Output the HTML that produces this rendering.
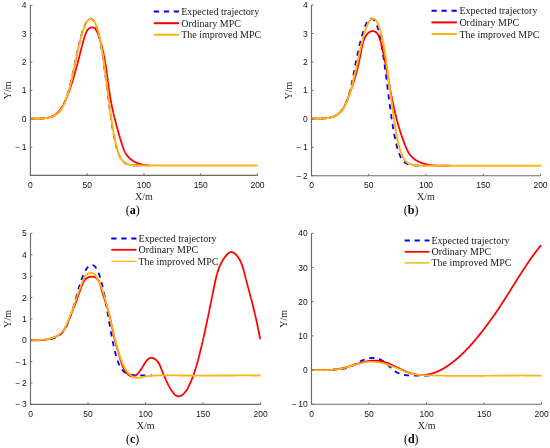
<!DOCTYPE html><html><head><meta charset="utf-8"><style>html,body{margin:0;padding:0;background:#fff}svg{display:block;filter:blur(0.35px)}</style></head><body>
<svg width="550" height="448" viewBox="0 0 550 448">
<rect width="550" height="448" fill="#fff"/>
<g><polyline points="30.20,118.74 30.39,118.74 30.58,118.74 30.77,118.74 30.96,118.74 31.15,118.73 31.34,118.73 31.52,118.73 31.71,118.73 31.90,118.72 32.09,118.72 32.28,118.72 32.47,118.72 32.66,118.71 32.85,118.71 33.04,118.71 33.23,118.71 33.42,118.70 33.61,118.70 33.80,118.70 33.98,118.69 34.17,118.69 34.36,118.69 34.55,118.68 34.74,118.68 34.93,118.67 35.12,118.67 35.31,118.67 35.50,118.66 35.69,118.66 35.88,118.65 36.07,118.65 36.26,118.64 36.45,118.64 36.63,118.63 36.82,118.63 37.01,118.62 37.20,118.62 37.39,118.61 37.58,118.60 37.77,118.60 37.96,118.59 38.15,118.58 38.34,118.58 38.53,118.57 38.72,118.56 38.91,118.56 39.09,118.55 39.28,118.54 39.47,118.53 39.66,118.52 39.85,118.51 40.04,118.50 40.23,118.49 40.42,118.48 40.61,118.47 40.80,118.46 40.99,118.45 41.18,118.44 41.37,118.43 41.55,118.42 41.74,118.41 41.93,118.39 42.12,118.38 42.31,118.37 42.50,118.35 42.69,118.34 42.88,118.32 43.07,118.31 43.26,118.29 43.45,118.27 43.64,118.26 43.83,118.24 44.02,118.22 44.20,118.20 44.39,118.18 44.58,118.16 44.77,118.14 44.96,118.12 45.15,118.10 45.34,118.08 45.53,118.05 45.72,118.03 45.91,118.00 46.10,117.98 46.29,117.95 46.48,117.93 46.66,117.90 46.85,117.87 47.04,117.84 47.23,117.81 47.42,117.77 47.61,117.74 47.80,117.71 47.99,117.67 48.18,117.64 48.37,117.60 48.56,117.56 48.75,117.52 48.94,117.48 49.12,117.44 49.31,117.39 49.50,117.35 49.69,117.30 49.88,117.25 50.07,117.20 50.26,117.15 50.45,117.10 50.64,117.05 50.83,116.99 51.02,116.93 51.21,116.87 51.40,116.81 51.59,116.75 51.77,116.68 51.96,116.61 52.15,116.54 52.34,116.47 52.53,116.40 52.72,116.32 52.91,116.24 53.10,116.16 53.29,116.08 53.48,115.99 53.67,115.90 53.86,115.81 54.05,115.72 54.23,115.62 54.42,115.52 54.61,115.41 54.80,115.31 54.99,115.20 55.18,115.08 55.37,114.97 55.56,114.85 55.75,114.72 55.94,114.60 56.13,114.46 56.32,114.33 56.51,114.19 56.69,114.05 56.88,113.90 57.07,113.74 57.26,113.59 57.45,113.43 57.64,113.26 57.83,113.09 58.02,112.91 58.21,112.73 58.40,112.55 58.59,112.35 58.78,112.16 58.97,111.95 59.16,111.74 59.34,111.53 59.53,111.31 59.72,111.08 59.91,110.85 60.10,110.61 60.29,110.36 60.48,110.11 60.67,109.85 60.86,109.58 61.05,109.31 61.24,109.02 61.43,108.73 61.62,108.44 61.80,108.13 61.99,107.82 62.18,107.50 62.37,107.17 62.56,106.83 62.75,106.48 62.94,106.12 63.13,105.76 63.32,105.38 63.51,105.00 63.70,104.61 63.89,104.21 64.08,103.79 64.27,103.37 64.45,102.94 64.64,102.50 64.83,102.05 65.02,101.58 65.21,101.11 65.40,100.63 65.59,100.13 65.78,99.63 65.97,99.11 66.16,98.59 66.35,98.05 66.54,97.50 66.73,96.94 66.91,96.37 67.10,95.79 67.29,95.19 67.48,94.59 67.67,93.97 67.86,93.35 68.05,92.71 68.24,92.06 68.43,91.40 68.62,90.73 68.81,90.05 69.00,89.35 69.19,88.65 69.37,87.93 69.56,87.21 69.75,86.47 69.94,85.73 70.13,84.97 70.32,84.21 70.51,83.43 70.70,82.65 70.89,81.85 71.08,81.05 71.27,80.24 71.46,79.42 71.65,78.59 71.83,77.76 72.02,76.92 72.21,76.07 72.40,75.21 72.59,74.35 72.78,73.48 72.97,72.60 73.16,71.72 73.35,70.84 73.54,69.95 73.73,69.06 73.92,68.16 74.11,67.27 74.30,66.37 74.48,65.46 74.67,64.56 74.86,63.65 75.05,62.75 75.24,61.84 75.43,60.94 75.62,60.03 75.81,59.13 76.00,58.23 76.19,57.33 76.38,56.43 76.57,55.54 76.76,54.65 76.94,53.77 77.13,52.89 77.32,52.01 77.51,51.14 77.70,50.28 77.89,49.42 78.08,48.57 78.27,47.73 78.46,46.90 78.65,46.07 78.84,45.25 79.03,44.44 79.22,43.64 79.40,42.85 79.59,42.07 79.78,41.30 79.97,40.54 80.16,39.79 80.35,39.05 80.54,38.33 80.73,37.61 80.92,36.91 81.11,36.22 81.30,35.54 81.49,34.87 81.68,34.21 81.87,33.57 82.05,32.94 82.24,32.33 82.43,31.72 82.62,31.13 82.81,30.56 83.00,29.99 83.19,29.44 83.38,28.91 83.57,28.38 83.76,27.87 83.95,27.38 84.14,26.90 84.33,26.43 84.51,25.97 84.70,25.53 84.89,25.10 85.08,24.69 85.27,24.29 85.46,23.91 85.65,23.54 85.84,23.18 86.03,22.83 86.22,22.50 86.41,22.19 86.60,21.89 86.79,21.60 86.97,21.32 87.16,21.06 87.35,20.82 87.54,20.58 87.73,20.36 87.92,20.16 88.11,19.97 88.30,19.79 88.49,19.63 88.68,19.48 88.87,19.34 89.06,19.22 89.25,19.11 89.44,19.02 89.62,18.94 89.81,18.88 90.00,18.82 90.19,18.79 90.38,18.77 90.57,18.76 90.76,18.76 90.95,18.79 91.14,18.82 91.33,18.87 91.52,18.94 91.71,19.02 91.90,19.12 92.08,19.23 92.27,19.36 92.46,19.50 92.65,19.66 92.84,19.83 93.03,20.02 93.22,20.23 93.41,20.46 93.60,20.70 93.79,20.95 93.98,21.23 94.17,21.52 94.36,21.83 94.55,22.16 94.73,22.50 94.92,22.87 95.11,23.25 95.30,23.65 95.49,24.07 95.68,24.51 95.87,24.96 96.06,25.44 96.25,25.94 96.44,26.46 96.63,27.00 96.82,27.55 97.01,28.13 97.19,28.73 97.38,29.35 97.57,30.00 97.76,30.66 97.95,31.35 98.14,32.05 98.33,32.78 98.52,33.54 98.71,34.31 98.90,35.11 99.09,35.93 99.28,36.77 99.47,37.63 99.65,38.52 99.84,39.43 100.03,40.37 100.22,41.32 100.41,42.30 100.60,43.30 100.79,44.32 100.98,45.37 101.17,46.44 101.36,47.53 101.55,48.64 101.74,49.77 101.93,50.93 102.11,52.10 102.30,53.30 102.49,54.51 102.68,55.75 102.87,57.00 103.06,58.28 103.25,59.57 103.44,60.87 103.63,62.20 103.82,63.54 104.01,64.90 104.20,66.27 104.39,67.66 104.58,69.06 104.76,70.47 104.95,71.89 105.14,73.33 105.33,74.77 105.52,76.23 105.71,77.69 105.90,79.16 106.09,80.63 106.28,82.12 106.47,83.60 106.66,85.09 106.85,86.58 107.04,88.08 107.22,89.57 107.41,91.06 107.60,92.55 107.79,94.04 107.98,95.53 108.17,97.01 108.36,98.48 108.55,99.95 108.74,101.42 108.93,102.87 109.12,104.31 109.31,105.75 109.50,107.17 109.68,108.58 109.87,109.98 110.06,111.37 110.25,112.74 110.44,114.10 110.63,115.44 110.82,116.77 111.01,118.08 111.20,119.37 111.39,120.65 111.58,121.91 111.77,123.15 111.96,124.36 112.15,125.56 112.33,126.74 112.52,127.90 112.71,129.04 112.90,130.16 113.09,131.25 113.28,132.33 113.47,133.38 113.66,134.41 113.85,135.42 114.04,136.41 114.23,137.37 114.42,138.32 114.61,139.24 114.79,140.14 114.98,141.01 115.17,141.87 115.36,142.70 115.55,143.51 115.74,144.30 115.93,145.07 116.12,145.81 116.31,146.54 116.50,147.24 116.69,147.92 116.88,148.59 117.07,149.23 117.25,149.85 117.44,150.46 117.63,151.04 117.82,151.61 118.01,152.15 118.20,152.68 118.39,153.19 118.58,153.69 118.77,154.16 118.96,154.62 119.15,155.07 119.34,155.50 119.53,155.91 119.72,156.31 119.90,156.69 120.09,157.06 120.28,157.42 120.47,157.76 120.66,158.09 120.85,158.40 121.04,158.71 121.23,159.00 121.42,159.28 121.61,159.55 121.80,159.81 121.99,160.06 122.18,160.30 122.36,160.53 122.55,160.75 122.74,160.96 122.93,161.16 123.12,161.36 123.31,161.54 123.50,161.72 123.69,161.89 123.88,162.05 124.07,162.21 124.26,162.36 124.45,162.50 124.64,162.64 124.82,162.77 125.01,162.90 125.20,163.02 125.39,163.14 125.58,163.25 125.77,163.35 125.96,163.45 126.15,163.55 126.34,163.64 126.53,163.73 126.72,163.81 126.91,163.90 127.10,163.97 127.29,164.05 127.47,164.12 127.66,164.18 127.85,164.25 128.04,164.31 128.23,164.37 128.42,164.43 128.61,164.48 128.80,164.53 128.99,164.58 129.18,164.63 129.37,164.67 129.56,164.71 129.75,164.76 129.93,164.79 130.12,164.83 130.31,164.87 130.50,164.90 130.69,164.93 130.88,164.97 131.07,164.99 131.26,165.02 131.45,165.05 131.64,165.08 131.83,165.10 132.02,165.12 132.21,165.15 132.40,165.17 132.58,165.19 132.77,165.21 132.96,165.23 133.15,165.24 133.34,165.26 133.53,165.28 133.72,165.29 133.91,165.31 134.10,165.32 134.29,165.34 134.48,165.35 134.67,165.36 134.86,165.37 135.04,165.38 135.23,165.39 135.42,165.40 135.61,165.41 135.80,165.42 135.99,165.43 136.18,165.44 136.37,165.45 136.56,165.46 136.75,165.46 136.94,165.47 137.13,165.48 137.32,165.48 137.50,165.49 137.69,165.50 137.88,165.50 138.07,165.51 138.26,165.51 138.45,165.52 138.64,165.52 138.83,165.53 139.02,165.53 139.21,165.53 139.40,165.54 139.59,165.54 139.78,165.55 139.97,165.55" fill="none" stroke="#0000ff" stroke-width="1.8" stroke-linejoin="round" stroke-dasharray="5.2 4.8"/><polyline points="30.40,118.90 30.71,118.88 31.02,118.86 31.34,118.84 31.66,118.83 31.98,118.81 32.30,118.80 32.62,118.79 32.94,118.78 33.27,118.76 33.60,118.75 33.93,118.75 34.26,118.74 34.59,118.73 34.92,118.72 35.26,118.71 35.59,118.70 35.93,118.70 36.27,118.69 36.60,118.68 36.94,118.67 37.28,118.66 37.62,118.66 37.96,118.65 38.31,118.64 38.65,118.62 38.99,118.61 39.33,118.60 39.68,118.59 40.02,118.57 40.36,118.56 40.71,118.54 41.05,118.52 41.39,118.50 41.74,118.48 42.08,118.46 42.42,118.43 42.76,118.40 43.11,118.37 43.45,118.34 43.79,118.31 44.13,118.27 44.46,118.24 44.80,118.19 45.14,118.15 45.48,118.11 45.81,118.06 46.14,118.01 46.48,117.95 46.81,117.89 47.14,117.83 47.47,117.77 47.79,117.70 48.12,117.63 48.44,117.56 48.76,117.48 49.08,117.40 49.40,117.31 49.72,117.22 50.03,117.13 50.34,117.03 50.65,116.93 50.96,116.82 51.26,116.71 51.57,116.60 51.87,116.48 52.16,116.35 52.46,116.22 52.75,116.09 53.04,115.95 53.33,115.81 53.61,115.66 53.89,115.50 54.17,115.34 54.44,115.17 54.71,115.00 54.98,114.83 55.24,114.64 55.51,114.46 55.76,114.26 56.02,114.06 56.27,113.86 56.52,113.65 56.76,113.44 57.01,113.22 57.25,113.00 57.48,112.77 57.72,112.54 57.95,112.31 58.17,112.07 58.40,111.83 58.62,111.58 58.84,111.33 59.06,111.08 59.27,110.82 59.48,110.56 59.69,110.30 59.90,110.03 60.10,109.77 60.30,109.49 60.50,109.22 60.69,108.95 60.89,108.67 61.08,108.39 61.27,108.11 61.45,107.82 61.63,107.54 61.82,107.25 61.99,106.96 62.17,106.67 62.34,106.38 62.52,106.09 62.69,105.79 62.85,105.50 63.02,105.21 63.18,104.91 63.35,104.62 63.50,104.32 63.66,104.02 63.82,103.73 63.97,103.43 64.12,103.13 64.27,102.83 64.42,102.53 64.57,102.23 64.71,101.93 64.86,101.63 65.00,101.33 65.14,101.03 65.28,100.73 65.42,100.43 65.55,100.12 65.69,99.82 65.82,99.52 65.95,99.21 66.09,98.91 66.22,98.61 66.34,98.30 66.47,98.00 66.60,97.69 66.72,97.38 66.85,97.08 66.97,96.77 67.10,96.46 67.22,96.16 67.34,95.85 67.46,95.54 67.58,95.23 67.70,94.92 67.82,94.61 67.94,94.31 68.05,94.00 68.17,93.69 68.29,93.38 68.40,93.07 68.52,92.75 68.63,92.44 68.75,92.13 68.86,91.82 68.98,91.51 69.09,91.20 69.20,90.89 69.31,90.57 69.43,90.26 69.54,89.95 69.65,89.63 69.76,89.32 69.87,89.01 69.98,88.69 70.09,88.38 70.19,88.07 70.30,87.75 70.41,87.44 70.52,87.12 70.62,86.81 70.73,86.49 70.84,86.18 70.94,85.86 71.05,85.54 71.15,85.23 71.25,84.91 71.36,84.59 71.46,84.28 71.56,83.96 71.67,83.64 71.77,83.33 71.87,83.01 71.97,82.69 72.07,82.37 72.17,82.06 72.27,81.74 72.37,81.42 72.47,81.10 72.57,80.78 72.67,80.46 72.77,80.14 72.87,79.83 72.96,79.51 73.06,79.19 73.16,78.87 73.25,78.55 73.35,78.23 73.45,77.91 73.54,77.59 73.64,77.27 73.73,76.95 73.83,76.63 73.92,76.31 74.01,75.99 74.11,75.67 74.20,75.34 74.30,75.02 74.39,74.70 74.48,74.38 74.57,74.06 74.66,73.74 74.76,73.42 74.85,73.10 74.94,72.77 75.03,72.45 75.12,72.13 75.21,71.81 75.30,71.49 75.39,71.17 75.48,70.84 75.57,70.52 75.66,70.20 75.75,69.88 75.84,69.56 75.92,69.23 76.01,68.91 76.10,68.59 76.19,68.27 76.28,67.94 76.36,67.62 76.45,67.30 76.54,66.98 76.62,66.65 76.71,66.33 76.80,66.01 76.88,65.69 76.97,65.36 77.06,65.04 77.14,64.72 77.23,64.39 77.31,64.07 77.40,63.75 77.48,63.43 77.57,63.10 77.65,62.78 77.74,62.46 77.82,62.14 77.91,61.81 77.99,61.49 78.07,61.17 78.16,60.84 78.24,60.52 78.33,60.20 78.41,59.88 78.49,59.55 78.58,59.23 78.66,58.91 78.74,58.59 78.82,58.27 78.91,57.94 78.99,57.62 79.07,57.30 79.16,56.98 79.24,56.66 79.32,56.33 79.40,56.01 79.49,55.69 79.57,55.37 79.65,55.05 79.73,54.72 79.82,54.40 79.90,54.08 79.98,53.76 80.06,53.44 80.14,53.12 80.23,52.80 80.31,52.48 80.39,52.16 80.47,51.83 80.55,51.51 80.64,51.19 80.72,50.87 80.80,50.55 80.88,50.23 80.96,49.91 81.04,49.59 81.13,49.27 81.21,48.95 81.29,48.63 81.37,48.32 81.45,48.00 81.54,47.68 81.62,47.36 81.70,47.04 81.78,46.72 81.87,46.40 81.95,46.08 82.03,45.77 82.11,45.45 82.20,45.13 82.28,44.81 82.37,44.49 82.45,44.17 82.54,43.85 82.62,43.54 82.71,43.22 82.79,42.90 82.88,42.58 82.97,42.26 83.06,41.94 83.15,41.62 83.24,41.30 83.33,40.98 83.42,40.65 83.51,40.33 83.61,40.01 83.70,39.69 83.80,39.36 83.90,39.04 84.00,38.72 84.10,38.39 84.20,38.07 84.30,37.74 84.40,37.41 84.51,37.09 84.61,36.76 84.72,36.43 84.83,36.10 84.94,35.77 85.05,35.44 85.17,35.11 85.28,34.77 85.40,34.44 85.52,34.11 85.64,33.77 85.77,33.44 85.90,33.11 86.03,32.79 86.17,32.47 86.32,32.15 86.47,31.84 86.62,31.53 86.78,31.23 86.95,30.93 87.13,30.64 87.31,30.37 87.50,30.09 87.71,29.83 87.92,29.58 88.14,29.34 88.36,29.12 88.60,28.90 88.85,28.70 89.10,28.50 89.36,28.33 89.62,28.16 89.88,28.01 90.15,27.87 90.43,27.75 90.70,27.65 90.97,27.56 91.25,27.48 91.52,27.43 91.79,27.39 92.05,27.36 92.32,27.36 92.57,27.38 92.83,27.41 93.07,27.46 93.31,27.53 93.55,27.62 93.78,27.72 94.00,27.84 94.22,27.98 94.44,28.13 94.64,28.30 94.85,28.48 95.05,28.68 95.24,28.88 95.43,29.10 95.62,29.33 95.80,29.58 95.97,29.83 96.15,30.09 96.32,30.37 96.48,30.65 96.64,30.94 96.80,31.24 96.96,31.54 97.11,31.85 97.26,32.17 97.40,32.49 97.54,32.82 97.68,33.15 97.82,33.49 97.95,33.83 98.09,34.17 98.21,34.51 98.34,34.86 98.47,35.20 98.59,35.55 98.71,35.89 98.83,36.24 98.95,36.58 99.07,36.92 99.18,37.26 99.30,37.59 99.41,37.93 99.52,38.27 99.63,38.60 99.74,38.93 99.85,39.26 99.95,39.59 100.06,39.92 100.16,40.24 100.26,40.57 100.36,40.89 100.46,41.22 100.56,41.54 100.66,41.86 100.75,42.18 100.85,42.50 100.94,42.82 101.03,43.14 101.12,43.46 101.21,43.78 101.30,44.10 101.39,44.41 101.48,44.73 101.57,45.05 101.65,45.36 101.74,45.68 101.82,46.00 101.90,46.31 101.99,46.63 102.07,46.94 102.15,47.26 102.23,47.58 102.31,47.89 102.38,48.21 102.46,48.53 102.54,48.84 102.61,49.16 102.69,49.48 102.76,49.80 102.84,50.12 102.91,50.44 102.98,50.75 103.06,51.07 103.13,51.39 103.20,51.71 103.27,52.03 103.34,52.35 103.41,52.67 103.47,53.00 103.54,53.32 103.61,53.64 103.68,53.96 103.74,54.28 103.81,54.60 103.87,54.93 103.94,55.25 104.00,55.57 104.06,55.90 104.13,56.22 104.19,56.54 104.25,56.87 104.31,57.19 104.37,57.51 104.43,57.84 104.49,58.16 104.55,58.49 104.61,58.81 104.67,59.14 104.72,59.46 104.78,59.79 104.84,60.11 104.89,60.44 104.95,60.77 105.00,61.09 105.06,61.42 105.11,61.75 105.17,62.07 105.22,62.40 105.28,62.73 105.33,63.06 105.38,63.38 105.43,63.71 105.49,64.04 105.54,64.37 105.59,64.69 105.64,65.02 105.69,65.35 105.74,65.68 105.79,66.01 105.84,66.34 105.89,66.67 105.94,67.00 105.99,67.32 106.04,67.65 106.09,67.98 106.13,68.31 106.18,68.64 106.23,68.97 106.28,69.30 106.32,69.63 106.37,69.96 106.42,70.29 106.46,70.62 106.51,70.95 106.56,71.28 106.60,71.62 106.65,71.95 106.69,72.28 106.74,72.61 106.79,72.94 106.83,73.27 106.88,73.60 106.92,73.93 106.97,74.26 107.01,74.59 107.06,74.93 107.10,75.26 107.14,75.59 107.19,75.92 107.23,76.25 107.28,76.58 107.32,76.91 107.37,77.25 107.41,77.58 107.45,77.91 107.50,78.24 107.54,78.57 107.59,78.90 107.63,79.24 107.68,79.57 107.72,79.90 107.76,80.23 107.81,80.56 107.85,80.90 107.90,81.23 107.94,81.56 107.99,81.89 108.03,82.22 108.08,82.56 108.12,82.89 108.16,83.22 108.21,83.55 108.25,83.88 108.30,84.21 108.34,84.55 108.39,84.88 108.44,85.21 108.48,85.54 108.53,85.87 108.57,86.20 108.62,86.54 108.67,86.87 108.71,87.20 108.76,87.53 108.81,87.86 108.85,88.19 108.90,88.52 108.95,88.85 109.00,89.19 109.04,89.52 109.09,89.85 109.14,90.18 109.19,90.51 109.24,90.84 109.29,91.17 109.34,91.50 109.39,91.83 109.44,92.16 109.49,92.49 109.54,92.82 109.59,93.15 109.64,93.48 109.69,93.81 109.75,94.14 109.80,94.47 109.85,94.80 109.91,95.13 109.96,95.46 110.01,95.79 110.07,96.12 110.12,96.44 110.18,96.77 110.23,97.10 110.29,97.43 110.35,97.76 110.40,98.09 110.46,98.41 110.52,98.74 110.58,99.07 110.64,99.40 110.69,99.73 110.75,100.05 110.81,100.38 110.87,100.71 110.93,101.03 110.99,101.36 111.06,101.69 111.12,102.01 111.18,102.34 111.24,102.67 111.30,102.99 111.37,103.32 111.43,103.65 111.49,103.97 111.56,104.30 111.62,104.62 111.69,104.95 111.75,105.28 111.82,105.60 111.89,105.93 111.95,106.25 112.02,106.58 112.09,106.90 112.15,107.23 112.22,107.55 112.29,107.88 112.36,108.20 112.43,108.53 112.50,108.85 112.57,109.18 112.64,109.50 112.71,109.82 112.78,110.15 112.85,110.47 112.92,110.80 112.99,111.12 113.06,111.44 113.14,111.77 113.21,112.09 113.28,112.42 113.35,112.74 113.43,113.06 113.50,113.39 113.58,113.71 113.65,114.03 113.73,114.36 113.80,114.68 113.88,115.00 113.95,115.33 114.03,115.65 114.11,115.97 114.18,116.29 114.26,116.62 114.34,116.94 114.42,117.26 114.50,117.58 114.57,117.91 114.65,118.23 114.73,118.55 114.81,118.87 114.89,119.20 114.97,119.52 115.05,119.84 115.13,120.16 115.22,120.49 115.30,120.81 115.38,121.13 115.46,121.45 115.54,121.77 115.63,122.10 115.71,122.42 115.79,122.74 115.88,123.06 115.96,123.38 116.04,123.70 116.13,124.03 116.21,124.35 116.30,124.67 116.38,124.99 116.47,125.31 116.56,125.63 116.64,125.96 116.73,126.28 116.81,126.60 116.90,126.92 116.99,127.24 117.08,127.56 117.16,127.88 117.25,128.20 117.34,128.53 117.43,128.85 117.52,129.17 117.61,129.49 117.70,129.81 117.79,130.13 117.88,130.45 117.97,130.77 118.06,131.10 118.15,131.42 118.24,131.74 118.33,132.06 118.42,132.38 118.52,132.70 118.61,133.02 118.70,133.34 118.79,133.67 118.89,133.99 118.98,134.31 119.07,134.63 119.17,134.95 119.26,135.27 119.36,135.59 119.45,135.91 119.54,136.23 119.64,136.56 119.73,136.88 119.83,137.20 119.93,137.52 120.02,137.84 120.12,138.16 120.21,138.48 120.31,138.80 120.41,139.13 120.50,139.45 120.60,139.77 120.70,140.09 120.80,140.41 120.90,140.73 120.99,141.05 121.09,141.38 121.19,141.70 121.29,142.02 121.39,142.34 121.49,142.66 121.59,142.98 121.69,143.31 121.79,143.63 121.89,143.95 121.99,144.27 122.09,144.59 122.19,144.91 122.29,145.24 122.40,145.56 122.50,145.88 122.61,146.20 122.71,146.51 122.82,146.83 122.93,147.15 123.04,147.47 123.15,147.78 123.27,148.10 123.38,148.41 123.50,148.72 123.62,149.04 123.74,149.35 123.87,149.65 124.00,149.96 124.12,150.27 124.26,150.57 124.39,150.87 124.53,151.17 124.67,151.47 124.82,151.77 124.96,152.06 125.11,152.35 125.27,152.64 125.43,152.93 125.59,153.22 125.75,153.50 125.92,153.78 126.10,154.06 126.28,154.34 126.46,154.61 126.64,154.88 126.84,155.14 127.03,155.41 127.23,155.67 127.44,155.93 127.65,156.18 127.86,156.43 128.08,156.68 128.30,156.93 128.53,157.17 128.76,157.41 128.99,157.64 129.23,157.88 129.47,158.10 129.72,158.33 129.97,158.55 130.22,158.77 130.48,158.99 130.74,159.20 131.00,159.41 131.26,159.61 131.53,159.81 131.80,160.01 132.07,160.20 132.35,160.40 132.63,160.58 132.91,160.77 133.19,160.94 133.48,161.12 133.76,161.29 134.05,161.46 134.34,161.62 134.63,161.79 134.93,161.94 135.22,162.09 135.52,162.24 135.82,162.39 136.12,162.53 136.42,162.67 136.72,162.80 137.02,162.93 137.33,163.05 137.63,163.17 137.94,163.29 138.24,163.40 138.55,163.51 138.86,163.62 139.17,163.72 139.48,163.82 139.79,163.92 140.10,164.01 140.41,164.10 140.72,164.18 141.04,164.27 141.35,164.35 141.67,164.42 141.99,164.50 142.30,164.57 142.62,164.63 142.94,164.70 143.26,164.76 143.58,164.82 143.90,164.88 144.22,164.93 144.54,164.98 144.87,165.03 145.19,165.07 145.52,165.12 145.84,165.16 146.16,165.20 146.49,165.24 146.82,165.27 147.14,165.30 147.47,165.33 147.80,165.36 148.13,165.39 148.46,165.41 148.79,165.43 149.12,165.46 149.45,165.47 149.78,165.49" fill="none" stroke="#ff0000" stroke-width="1.8" stroke-linejoin="round"/><polyline points="30.40,118.74 30.59,118.74 30.78,118.74 30.97,118.74 31.16,118.74 31.35,118.73 31.54,118.73 31.72,118.73 31.91,118.73 32.10,118.72 32.29,118.72 32.48,118.72 32.67,118.72 32.86,118.71 33.05,118.71 33.24,118.71 33.43,118.71 33.62,118.70 33.81,118.70 34.00,118.70 34.18,118.69 34.37,118.69 34.56,118.69 34.75,118.68 34.94,118.68 35.13,118.67 35.32,118.67 35.51,118.67 35.70,118.66 35.89,118.66 36.08,118.65 36.27,118.65 36.46,118.64 36.65,118.64 36.83,118.63 37.02,118.63 37.21,118.62 37.40,118.62 37.59,118.61 37.78,118.60 37.97,118.60 38.16,118.59 38.35,118.58 38.54,118.58 38.73,118.57 38.92,118.56 39.11,118.56 39.29,118.55 39.48,118.54 39.67,118.53 39.86,118.52 40.05,118.51 40.24,118.50 40.43,118.49 40.62,118.48 40.81,118.47 41.00,118.46 41.19,118.45 41.38,118.44 41.57,118.43 41.75,118.42 41.94,118.41 42.13,118.39 42.32,118.38 42.51,118.37 42.70,118.35 42.89,118.34 43.08,118.32 43.27,118.31 43.46,118.29 43.65,118.27 43.84,118.26 44.03,118.24 44.22,118.22 44.40,118.20 44.59,118.18 44.78,118.16 44.97,118.14 45.16,118.12 45.35,118.10 45.54,118.08 45.73,118.05 45.92,118.03 46.11,118.00 46.30,117.98 46.49,117.95 46.68,117.93 46.86,117.90 47.05,117.87 47.24,117.84 47.43,117.81 47.62,117.77 47.81,117.74 48.00,117.71 48.19,117.67 48.38,117.64 48.57,117.60 48.76,117.56 48.95,117.52 49.14,117.48 49.32,117.44 49.51,117.39 49.70,117.35 49.89,117.30 50.08,117.25 50.27,117.20 50.46,117.15 50.65,117.10 50.84,117.05 51.03,116.99 51.22,116.93 51.41,116.87 51.60,116.81 51.79,116.75 51.97,116.68 52.16,116.61 52.35,116.54 52.54,116.47 52.73,116.40 52.92,116.32 53.11,116.24 53.30,116.16 53.49,116.08 53.68,115.99 53.87,115.90 54.06,115.81 54.25,115.72 54.43,115.62 54.62,115.52 54.81,115.41 55.00,115.31 55.19,115.20 55.38,115.08 55.57,114.97 55.76,114.85 55.95,114.72 56.14,114.60 56.33,114.46 56.52,114.33 56.71,114.19 56.89,114.05 57.08,113.90 57.27,113.74 57.46,113.59 57.65,113.43 57.84,113.26 58.03,113.09 58.22,112.91 58.41,112.73 58.60,112.55 58.79,112.35 58.98,112.16 59.17,111.95 59.36,111.74 59.54,111.53 59.73,111.31 59.92,111.08 60.11,110.85 60.30,110.61 60.49,110.36 60.68,110.11 60.87,109.85 61.06,109.58 61.25,109.31 61.44,109.02 61.63,108.73 61.82,108.44 62.00,108.13 62.19,107.82 62.38,107.50 62.57,107.17 62.76,106.83 62.95,106.48 63.14,106.12 63.33,105.76 63.52,105.38 63.71,105.00 63.90,104.61 64.09,104.21 64.28,103.79 64.47,103.37 64.65,102.94 64.84,102.50 65.03,102.05 65.22,101.58 65.41,101.11 65.60,100.63 65.79,100.13 65.98,99.63 66.17,99.11 66.36,98.59 66.55,98.05 66.74,97.50 66.93,96.94 67.11,96.37 67.30,95.79 67.49,95.19 67.68,94.59 67.87,93.97 68.06,93.35 68.25,92.71 68.44,92.06 68.63,91.40 68.82,90.73 69.01,90.05 69.20,89.35 69.39,88.65 69.57,87.93 69.76,87.21 69.95,86.47 70.14,85.73 70.33,84.97 70.52,84.21 70.71,83.43 70.90,82.65 71.09,81.85 71.28,81.05 71.47,80.24 71.66,79.42 71.85,78.59 72.03,77.76 72.22,76.92 72.41,76.07 72.60,75.21 72.79,74.35 72.98,73.48 73.17,72.60 73.36,71.72 73.55,70.84 73.74,69.95 73.93,69.06 74.12,68.16 74.31,67.27 74.50,66.37 74.68,65.46 74.87,64.56 75.06,63.65 75.25,62.75 75.44,61.84 75.63,60.94 75.82,60.03 76.01,59.13 76.20,58.23 76.39,57.33 76.58,56.43 76.77,55.54 76.96,54.65 77.14,53.77 77.33,52.89 77.52,52.01 77.71,51.14 77.90,50.28 78.09,49.42 78.28,48.57 78.47,47.73 78.66,46.90 78.85,46.07 79.04,45.25 79.23,44.44 79.42,43.64 79.60,42.85 79.79,42.07 79.98,41.30 80.17,40.54 80.36,39.79 80.55,39.05 80.74,38.33 80.93,37.61 81.12,36.91 81.31,36.22 81.50,35.54 81.69,34.87 81.88,34.21 82.07,33.57 82.25,32.94 82.44,32.33 82.63,31.72 82.82,31.13 83.01,30.56 83.20,29.99 83.39,29.44 83.58,28.91 83.77,28.38 83.96,27.87 84.15,27.38 84.34,26.90 84.53,26.43 84.71,25.97 84.90,25.53 85.09,25.10 85.28,24.69 85.47,24.29 85.66,23.91 85.85,23.54 86.04,23.18 86.23,22.83 86.42,22.50 86.61,22.19 86.80,21.89 86.99,21.60 87.17,21.32 87.36,21.06 87.55,20.82 87.74,20.58 87.93,20.36 88.12,20.16 88.31,19.97 88.50,19.79 88.69,19.63 88.88,19.48 89.07,19.34 89.26,19.22 89.45,19.11 89.64,19.02 89.82,18.94 90.01,18.88 90.20,18.82 90.39,18.79 90.58,18.77 90.77,18.76 90.96,18.76 91.15,18.79 91.34,18.82 91.53,18.87 91.72,18.94 91.91,19.02 92.10,19.12 92.28,19.23 92.47,19.36 92.66,19.50 92.85,19.66 93.04,19.83 93.23,20.02 93.42,20.23 93.61,20.46 93.80,20.70 93.99,20.95 94.18,21.23 94.37,21.52 94.56,21.83 94.75,22.16 94.93,22.50 95.12,22.87 95.31,23.25 95.50,23.65 95.69,24.07 95.88,24.51 96.07,24.96 96.26,25.44 96.45,25.94 96.64,26.46 96.83,27.00 97.02,27.55 97.21,28.13 97.39,28.73 97.58,29.35 97.77,30.00 97.96,30.66 98.15,31.35 98.34,32.05 98.53,32.78 98.72,33.54 98.91,34.31 99.10,35.11 99.29,35.93 99.48,36.77 99.67,37.63 99.85,38.52 100.04,39.43 100.23,40.37 100.42,41.32 100.61,42.30 100.80,43.30 100.99,44.32 101.18,45.37 101.37,46.44 101.56,47.53 101.75,48.64 101.94,49.77 102.13,50.93 102.31,52.10 102.50,53.30 102.69,54.51 102.88,55.75 103.07,57.00 103.26,58.28 103.45,59.57 103.64,60.87 103.83,62.20 104.02,63.54 104.21,64.90 104.40,66.27 104.59,67.66 104.78,69.06 104.96,70.47 105.15,71.89 105.34,73.33 105.53,74.77 105.72,76.23 105.91,77.69 106.10,79.16 106.29,80.63 106.48,82.12 106.67,83.60 106.86,85.09 107.05,86.58 107.24,88.08 107.42,89.57 107.61,91.06 107.80,92.55 107.99,94.04 108.18,95.53 108.37,97.01 108.56,98.48 108.75,99.95 108.94,101.42 109.13,102.87 109.32,104.31 109.51,105.75 109.70,107.17 109.88,108.58 110.07,109.98 110.26,111.37 110.45,112.74 110.64,114.10 110.83,115.44 111.02,116.77 111.21,118.08 111.40,119.37 111.59,120.65 111.78,121.91 111.97,123.15 112.16,124.36 112.35,125.56 112.53,126.74 112.72,127.90 112.91,129.04 113.10,130.16 113.29,131.25 113.48,132.33 113.67,133.38 113.86,134.41 114.05,135.42 114.24,136.41 114.43,137.37 114.62,138.32 114.81,139.24 114.99,140.14 115.18,141.01 115.37,141.87 115.56,142.70 115.75,143.51 115.94,144.30 116.13,145.07 116.32,145.81 116.51,146.54 116.70,147.24 116.89,147.92 117.08,148.59 117.27,149.23 117.45,149.85 117.64,150.46 117.83,151.04 118.02,151.61 118.21,152.15 118.40,152.68 118.59,153.19 118.78,153.69 118.97,154.16 119.16,154.62 119.35,155.07 119.54,155.50 119.73,155.91 119.92,156.31 120.10,156.69 120.29,157.06 120.48,157.42 120.67,157.76 120.86,158.09 121.05,158.40 121.24,158.71 121.43,159.00 121.62,159.28 121.81,159.55 122.00,159.81 122.19,160.06 122.38,160.30 122.56,160.53 122.75,160.75 122.94,160.96 123.13,161.16 123.32,161.36 123.51,161.54 123.70,161.72 123.89,161.89 124.08,162.05 124.27,162.21 124.46,162.36 124.65,162.50 124.84,162.64 125.02,162.77 125.21,162.90 125.40,163.02 125.59,163.14 125.78,163.25 125.97,163.35 126.16,163.45 126.35,163.55 126.54,163.64 126.73,163.73 126.92,163.81 127.11,163.90 127.30,163.97 127.49,164.05 127.67,164.12 127.86,164.18 128.05,164.25 128.24,164.31 128.43,164.37 128.62,164.43 128.81,164.48 129.00,164.53 129.19,164.58 129.38,164.63 129.57,164.67 129.76,164.71 129.95,164.76 130.13,164.79 130.32,164.83 130.51,164.87 130.70,164.90 130.89,164.93 131.08,164.97 131.27,164.99 131.46,165.02 131.65,165.05 131.84,165.08 132.03,165.10 132.22,165.12 132.41,165.15 132.59,165.17 132.78,165.19 132.97,165.21 133.16,165.23 133.35,165.24 133.54,165.26 133.73,165.28 133.92,165.29 134.11,165.31 134.30,165.32 134.49,165.34 134.68,165.35 134.87,165.36 135.06,165.37 135.24,165.38 135.43,165.39 135.62,165.40 135.81,165.41 136.00,165.42 136.19,165.43 136.38,165.44 136.57,165.45 136.76,165.46 136.95,165.46 137.14,165.47 137.33,165.48 137.52,165.48 137.70,165.49 137.89,165.50 138.08,165.50 138.27,165.51 138.46,165.51 138.65,165.52 138.84,165.52 139.03,165.53 139.22,165.53 139.41,165.53 139.60,165.54 139.79,165.54 139.98,165.55 140.16,165.55 140.35,165.55 140.54,165.56 140.73,165.56 140.92,165.56 141.11,165.56 141.30,165.57 141.49,165.57 141.68,165.57 141.87,165.57 142.06,165.57 142.25,165.58 142.44,165.58 142.63,165.58 142.81,165.58 143.00,165.58 143.19,165.59 143.38,165.59 143.57,165.59 143.76,165.59 143.95,165.59 144.14,165.59 144.33,165.59 144.52,165.59 144.71,165.60 144.90,165.60 145.09,165.60 145.27,165.60 145.46,165.60 145.65,165.60 145.84,165.60 146.03,165.60 146.22,165.60 146.41,165.60 146.60,165.60 146.79,165.61 146.98,165.61 147.17,165.61 147.36,165.61 147.55,165.61 147.73,165.61 147.92,165.61 148.11,165.61 148.30,165.61 148.49,165.61 148.68,165.61 148.87,165.61 149.06,165.61 149.25,165.61 149.44,165.61 149.63,165.61 149.82,165.61 150.01,165.61 150.20,165.61 150.38,165.61 150.57,165.61 150.76,165.61 150.95,165.61 151.14,165.61 151.33,165.61 151.52,165.61 151.71,165.61 151.90,165.61 152.09,165.62 152.28,165.62 152.47,165.62 152.66,165.62 152.84,165.62 153.03,165.62 153.22,165.62 153.41,165.62 153.60,165.62 153.79,165.62 153.98,165.62 154.17,165.62 154.36,165.62 154.55,165.62 154.74,165.62 154.93,165.62 155.12,165.62 155.31,165.62 155.49,165.62 155.68,165.62 155.87,165.62 156.06,165.62 156.25,165.62 156.44,165.62 156.63,165.62 156.82,165.62 157.01,165.62 157.20,165.62 157.39,165.62 157.58,165.62 157.77,165.62 157.95,165.62 158.14,165.62 158.33,165.62 158.52,165.62 158.71,165.62 158.90,165.62 159.09,165.62 159.28,165.62 159.47,165.62 159.66,165.62 159.85,165.62 160.04,165.62 160.23,165.62 160.41,165.62 160.60,165.62 160.79,165.62 160.98,165.62 161.17,165.62 161.36,165.62 161.55,165.62 161.74,165.62 161.93,165.62 162.12,165.62 162.31,165.62 162.50,165.62 162.69,165.62 162.87,165.62 163.06,165.62 163.25,165.62 163.44,165.62 163.63,165.62 163.82,165.62 164.01,165.62 164.20,165.62 164.39,165.62 164.58,165.62 164.77,165.62 164.96,165.62 165.15,165.62 165.34,165.62 165.52,165.62 165.71,165.62 165.90,165.62 166.09,165.62 166.28,165.62 166.47,165.62 166.66,165.62 166.85,165.62 167.04,165.62 167.23,165.62 167.42,165.62 167.61,165.62 167.80,165.62 167.98,165.62 168.17,165.62 168.36,165.62 168.55,165.62 168.74,165.62 168.93,165.62 169.12,165.62 169.31,165.62 169.50,165.62 169.69,165.62 169.88,165.62 170.07,165.62 170.26,165.62 170.45,165.62 170.63,165.62 170.82,165.62 171.01,165.62 171.20,165.62 171.39,165.62 171.58,165.62 171.77,165.62 171.96,165.62 172.15,165.62 172.34,165.62 172.53,165.62 172.72,165.62 172.91,165.62 173.09,165.62 173.28,165.62 173.47,165.62 173.66,165.62 173.85,165.62 174.04,165.62 174.23,165.62 174.42,165.62 174.61,165.62 174.80,165.62 174.99,165.62 175.18,165.62 175.37,165.62 175.55,165.62 175.74,165.62 175.93,165.62 176.12,165.62 176.31,165.62 176.50,165.62 176.69,165.62 176.88,165.62 177.07,165.62 177.26,165.62 177.45,165.62 177.64,165.62 177.83,165.62 178.02,165.62 178.20,165.62 178.39,165.62 178.58,165.62 178.77,165.62 178.96,165.62 179.15,165.62 179.34,165.62 179.53,165.62 179.72,165.62 179.91,165.62 180.10,165.62 180.29,165.62 180.48,165.62 180.66,165.62 180.85,165.62 181.04,165.62 181.23,165.62 181.42,165.62 181.61,165.62 181.80,165.62 181.99,165.62 182.18,165.62 182.37,165.62 182.56,165.62 182.75,165.62 182.94,165.62 183.12,165.62 183.31,165.62 183.50,165.62 183.69,165.62 183.88,165.62 184.07,165.62 184.26,165.62 184.45,165.62 184.64,165.62 184.83,165.62 185.02,165.62 185.21,165.62 185.40,165.62 185.58,165.62 185.77,165.62 185.96,165.62 186.15,165.62 186.34,165.62 186.53,165.62 186.72,165.62 186.91,165.62 187.10,165.62 187.29,165.62 187.48,165.62 187.67,165.62 187.86,165.62 188.05,165.62 188.23,165.62 188.42,165.62 188.61,165.62 188.80,165.62 188.99,165.62 189.18,165.62 189.37,165.62 189.56,165.62 189.75,165.62 189.94,165.62 190.13,165.62 190.32,165.62 190.51,165.62 190.69,165.62 190.88,165.62 191.07,165.62 191.26,165.62 191.45,165.62 191.64,165.62 191.83,165.62 192.02,165.62 192.21,165.62 192.40,165.62 192.59,165.62 192.78,165.62 192.97,165.62 193.15,165.62 193.34,165.62 193.53,165.62 193.72,165.62 193.91,165.62 194.10,165.62 194.29,165.62 194.48,165.62 194.67,165.62 194.86,165.62 195.05,165.62 195.24,165.62 195.43,165.62 195.62,165.62 195.80,165.62 195.99,165.62 196.18,165.62 196.37,165.62 196.56,165.62 196.75,165.62 196.94,165.62 197.13,165.62 197.32,165.62 197.51,165.62 197.70,165.62 197.89,165.62 198.08,165.62 198.26,165.62 198.45,165.62 198.64,165.62 198.83,165.62 199.02,165.62 199.21,165.62 199.40,165.62 199.59,165.62 199.78,165.62 199.97,165.62 200.16,165.62 200.35,165.62 200.54,165.62 200.72,165.62 200.91,165.62 201.10,165.62 201.29,165.62 201.48,165.62 201.67,165.62 201.86,165.62 202.05,165.62 202.24,165.62 202.43,165.62 202.62,165.62 202.81,165.62 203.00,165.62 203.19,165.62 203.37,165.62 203.56,165.62 203.75,165.62 203.94,165.62 204.13,165.62 204.32,165.62 204.51,165.62 204.70,165.62 204.89,165.62 205.08,165.62 205.27,165.62 205.46,165.62 205.65,165.62 205.83,165.62 206.02,165.62 206.21,165.62 206.40,165.62 206.59,165.62 206.78,165.62 206.97,165.62 207.16,165.62 207.35,165.62 207.54,165.62 207.73,165.62 207.92,165.62 208.11,165.62 208.29,165.62 208.48,165.62 208.67,165.62 208.86,165.62 209.05,165.62 209.24,165.62 209.43,165.62 209.62,165.62 209.81,165.62 210.00,165.62 210.19,165.62 210.38,165.62 210.57,165.62 210.76,165.62 210.94,165.62 211.13,165.62 211.32,165.62 211.51,165.62 211.70,165.62 211.89,165.62 212.08,165.62 212.27,165.62 212.46,165.62 212.65,165.62 212.84,165.62 213.03,165.62 213.22,165.62 213.40,165.62 213.59,165.62 213.78,165.62 213.97,165.62 214.16,165.62 214.35,165.62 214.54,165.62 214.73,165.62 214.92,165.62 215.11,165.62 215.30,165.62 215.49,165.62 215.68,165.62 215.86,165.62 216.05,165.62 216.24,165.62 216.43,165.62 216.62,165.62 216.81,165.62 217.00,165.62 217.19,165.62 217.38,165.62 217.57,165.62 217.76,165.62 217.95,165.62 218.14,165.62 218.33,165.62 218.51,165.62 218.70,165.62 218.89,165.62 219.08,165.62 219.27,165.62 219.46,165.62 219.65,165.62 219.84,165.62 220.03,165.62 220.22,165.62 220.41,165.62 220.60,165.62 220.79,165.62 220.97,165.62 221.16,165.62 221.35,165.62 221.54,165.62 221.73,165.62 221.92,165.62 222.11,165.62 222.30,165.62 222.49,165.62 222.68,165.62 222.87,165.62 223.06,165.62 223.25,165.62 223.44,165.62 223.62,165.62 223.81,165.62 224.00,165.62 224.19,165.62 224.38,165.62 224.57,165.62 224.76,165.62 224.95,165.62 225.14,165.62 225.33,165.62 225.52,165.62 225.71,165.62 225.90,165.62 226.08,165.62 226.27,165.62 226.46,165.62 226.65,165.62 226.84,165.62 227.03,165.62 227.22,165.62 227.41,165.62 227.60,165.62 227.79,165.62 227.98,165.62 228.17,165.62 228.36,165.62 228.54,165.62 228.73,165.62 228.92,165.62 229.11,165.62 229.30,165.62 229.49,165.62 229.68,165.62 229.87,165.62 230.06,165.62 230.25,165.62 230.44,165.62 230.63,165.62 230.82,165.62 231.00,165.62 231.19,165.62 231.38,165.62 231.57,165.62 231.76,165.62 231.95,165.62 232.14,165.62 232.33,165.62 232.52,165.62 232.71,165.62 232.90,165.62 233.09,165.62 233.28,165.62 233.47,165.62 233.65,165.62 233.84,165.62 234.03,165.62 234.22,165.62 234.41,165.62 234.60,165.62 234.79,165.62 234.98,165.62 235.17,165.62 235.36,165.62 235.55,165.62 235.74,165.62 235.93,165.62 236.11,165.62 236.30,165.62 236.49,165.62 236.68,165.62 236.87,165.62 237.06,165.62 237.25,165.62 237.44,165.62 237.63,165.62 237.82,165.62 238.01,165.62 238.20,165.62 238.39,165.62 238.57,165.62 238.76,165.62 238.95,165.62 239.14,165.62 239.33,165.62 239.52,165.62 239.71,165.62 239.90,165.62 240.09,165.62 240.28,165.62 240.47,165.62 240.66,165.62 240.85,165.62 241.04,165.62 241.22,165.62 241.41,165.62 241.60,165.62 241.79,165.62 241.98,165.62 242.17,165.62 242.36,165.62 242.55,165.62 242.74,165.62 242.93,165.62 243.12,165.62 243.31,165.62 243.50,165.62 243.68,165.62 243.87,165.62 244.06,165.62 244.25,165.62 244.44,165.62 244.63,165.62 244.82,165.62 245.01,165.62 245.20,165.62 245.39,165.62 245.58,165.62 245.77,165.62 245.96,165.62 246.14,165.62 246.33,165.62 246.52,165.62 246.71,165.62 246.90,165.62 247.09,165.62 247.28,165.62 247.47,165.62 247.66,165.62 247.85,165.62 248.04,165.62 248.23,165.62 248.42,165.62 248.61,165.62 248.79,165.62 248.98,165.62 249.17,165.62 249.36,165.62 249.55,165.62 249.74,165.62 249.93,165.62 250.12,165.62 250.31,165.62 250.50,165.62 250.69,165.62 250.88,165.62 251.07,165.62 251.25,165.62 251.44,165.62 251.63,165.62 251.82,165.62 252.01,165.62 252.20,165.62 252.39,165.62 252.58,165.62 252.77,165.62 252.96,165.62 253.15,165.62 253.34,165.62 253.53,165.62 253.71,165.62 253.90,165.62 254.09,165.62 254.28,165.62 254.47,165.62 254.66,165.62 254.85,165.62 255.04,165.62 255.23,165.62 255.42,165.62 255.61,165.62 255.80,165.62 255.99,165.62 256.18,165.62 256.36,165.62 256.55,165.62 256.74,165.62 256.93,165.62 257.12,165.62 257.31,165.62 257.50,165.62" fill="none" stroke="#fbb414" stroke-width="2.0" stroke-linejoin="round"/><path d="M30.4,5.3 V175.3 H257.5" fill="none" stroke="#6a6a6a" stroke-width="1.15"/><path d="M30.40,175.3 v-2 M87.17,175.3 v-2 M143.95,175.3 v-2 M200.72,175.3 v-2 M257.50,175.3 v-2 M30.4,5.30 h2 M30.4,33.67 h2 M30.4,62.05 h2 M30.4,90.42 h2 M30.4,118.80 h2 M30.4,147.18 h2" stroke="#6a6a6a" stroke-width="1" fill="none"/><text x="30.40" y="187.80" text-anchor="middle" font-family="'Liberation Sans', Arial, Helvetica, sans-serif" font-size="8.5" fill="#141414">0</text><text x="87.17" y="187.80" text-anchor="middle" font-family="'Liberation Sans', Arial, Helvetica, sans-serif" font-size="8.5" fill="#141414">50</text><text x="143.95" y="187.80" text-anchor="middle" font-family="'Liberation Sans', Arial, Helvetica, sans-serif" font-size="8.5" fill="#141414">100</text><text x="200.72" y="187.80" text-anchor="middle" font-family="'Liberation Sans', Arial, Helvetica, sans-serif" font-size="8.5" fill="#141414">150</text><text x="257.50" y="187.80" text-anchor="middle" font-family="'Liberation Sans', Arial, Helvetica, sans-serif" font-size="8.5" fill="#141414">200</text><text x="26.60" y="8.35" text-anchor="end" font-family="'Liberation Sans', Arial, Helvetica, sans-serif" font-size="8.5" fill="#141414">4</text><text x="26.60" y="36.72" text-anchor="end" font-family="'Liberation Sans', Arial, Helvetica, sans-serif" font-size="8.5" fill="#141414">3</text><text x="26.60" y="65.10" text-anchor="end" font-family="'Liberation Sans', Arial, Helvetica, sans-serif" font-size="8.5" fill="#141414">2</text><text x="26.60" y="93.47" text-anchor="end" font-family="'Liberation Sans', Arial, Helvetica, sans-serif" font-size="8.5" fill="#141414">1</text><text x="26.60" y="121.85" text-anchor="end" font-family="'Liberation Sans', Arial, Helvetica, sans-serif" font-size="8.5" fill="#141414">0</text><text x="26.60" y="150.23" text-anchor="end" font-family="'Liberation Sans', Arial, Helvetica, sans-serif" font-size="8.5" fill="#141414">&#8722;<tspan dx="1.6">1</tspan></text><text x="143.95" y="199.90" text-anchor="middle" font-family="'Liberation Serif', 'Times New Roman', Times, serif" font-size="10" fill="#262626">X/m</text><text transform="translate(11.2,90.3) rotate(-90)" x="0" y="0" text-anchor="middle" font-family="'Liberation Serif', 'Times New Roman', Times, serif" font-size="10" fill="#262626">Y/m</text><text x="132.85" y="213.90" text-anchor="middle" font-family="'Liberation Serif', 'Times New Roman', Times, serif" font-size="12" fill="#000">(<tspan font-weight="bold">a</tspan>)</text><line x1="153.8" y1="11.6" x2="179.1" y2="11.6" stroke="#0000ff" stroke-width="2" stroke-dasharray="5.2 4.8"/><text x="181.2" y="15.10" font-family="'Liberation Serif', 'Times New Roman', Times, serif" font-size="10" fill="#1a1a1a">Expected trajectory</text><line x1="153.8" y1="23.2" x2="179.1" y2="23.2" stroke="#ff0000" stroke-width="2"/><text x="181.2" y="26.70" font-family="'Liberation Serif', 'Times New Roman', Times, serif" font-size="10" fill="#1a1a1a">Ordinary MPC</text><line x1="153.8" y1="34.7" x2="179.1" y2="34.7" stroke="#fbb414" stroke-width="2"/><text x="181.2" y="38.20" font-family="'Liberation Serif', 'Times New Roman', Times, serif" font-size="10" fill="#1a1a1a">The improved MPC</text></g>
<g><polyline points="311.50,118.78 311.69,118.78 311.88,118.77 312.07,118.77 312.26,118.77 312.45,118.77 312.64,118.77 312.84,118.76 313.03,118.76 313.22,118.76 313.41,118.76 313.60,118.75 313.79,118.75 313.98,118.75 314.17,118.75 314.36,118.74 314.55,118.74 314.74,118.74 314.94,118.73 315.13,118.73 315.32,118.73 315.51,118.72 315.70,118.72 315.89,118.72 316.08,118.71 316.27,118.71 316.46,118.70 316.65,118.70 316.84,118.70 317.03,118.69 317.23,118.69 317.42,118.68 317.61,118.68 317.80,118.67 317.99,118.67 318.18,118.66 318.37,118.66 318.56,118.65 318.75,118.64 318.94,118.64 319.13,118.63 319.32,118.62 319.51,118.62 319.71,118.61 319.90,118.60 320.09,118.60 320.28,118.59 320.47,118.58 320.66,118.57 320.85,118.56 321.04,118.55 321.23,118.55 321.42,118.54 321.61,118.53 321.81,118.52 322.00,118.51 322.19,118.50 322.38,118.49 322.57,118.47 322.76,118.46 322.95,118.45 323.14,118.44 323.33,118.42 323.52,118.41 323.71,118.40 323.90,118.38 324.10,118.37 324.29,118.35 324.48,118.34 324.67,118.32 324.86,118.31 325.05,118.29 325.24,118.27 325.43,118.25 325.62,118.23 325.81,118.22 326.00,118.20 326.19,118.17 326.38,118.15 326.58,118.13 326.77,118.11 326.96,118.09 327.15,118.06 327.34,118.04 327.53,118.01 327.72,117.98 327.91,117.96 328.10,117.93 328.29,117.90 328.48,117.87 328.68,117.84 328.87,117.81 329.06,117.77 329.25,117.74 329.44,117.70 329.63,117.67 329.82,117.63 330.01,117.59 330.20,117.55 330.39,117.51 330.58,117.47 330.77,117.42 330.96,117.38 331.16,117.33 331.35,117.28 331.54,117.23 331.73,117.18 331.92,117.13 332.11,117.07 332.30,117.02 332.49,116.96 332.68,116.90 332.87,116.84 333.06,116.78 333.25,116.71 333.45,116.64 333.64,116.57 333.83,116.50 334.02,116.43 334.21,116.35 334.40,116.27 334.59,116.19 334.78,116.10 334.97,116.02 335.16,115.93 335.35,115.84 335.55,115.74 335.74,115.64 335.93,115.54 336.12,115.44 336.31,115.33 336.50,115.22 336.69,115.11 336.88,114.99 337.07,114.87 337.26,114.75 337.45,114.62 337.64,114.49 337.83,114.35 338.03,114.21 338.22,114.07 338.41,113.92 338.60,113.77 338.79,113.61 338.98,113.45 339.17,113.28 339.36,113.11 339.55,112.93 339.74,112.75 339.93,112.57 340.12,112.37 340.32,112.18 340.51,111.97 340.70,111.76 340.89,111.55 341.08,111.33 341.27,111.10 341.46,110.87 341.65,110.62 341.84,110.38 342.03,110.12 342.22,109.86 342.42,109.59 342.61,109.32 342.80,109.04 342.99,108.75 343.18,108.45 343.37,108.14 343.56,107.83 343.75,107.51 343.94,107.17 344.13,106.84 344.32,106.49 344.51,106.13 344.70,105.76 344.90,105.39 345.09,105.01 345.28,104.61 345.47,104.21 345.66,103.80 345.85,103.37 346.04,102.94 346.23,102.50 346.42,102.04 346.61,101.58 346.80,101.11 347.00,100.62 347.19,100.13 347.38,99.62 347.57,99.11 347.76,98.58 347.95,98.04 348.14,97.49 348.33,96.93 348.52,96.36 348.70,95.77 348.88,95.18 349.05,94.57 349.22,93.96 349.39,93.33 349.57,92.69 349.74,92.04 349.91,91.38 350.08,90.70 350.25,90.02 350.42,89.33 350.59,88.62 350.76,87.90 350.93,87.18 351.10,86.44 351.27,85.69 351.44,84.94 351.61,84.17 351.78,83.39 351.94,82.61 352.11,81.81 352.28,81.01 352.45,80.19 352.61,79.37 352.78,78.54 352.94,77.71 353.11,76.86 353.28,76.01 353.44,75.15 353.61,74.29 353.77,73.42 353.94,72.54 354.10,71.66 354.27,70.78 354.43,69.89 354.60,68.99 354.76,68.09 354.93,67.19 355.09,66.29 355.26,65.39 355.42,64.48 355.58,63.57 355.75,62.67 355.92,61.76 356.11,60.85 356.30,59.94 356.49,59.04 356.68,58.14 356.87,57.23 357.06,56.34 357.25,55.44 357.44,54.55 357.64,53.66 357.83,52.78 358.02,51.91 358.21,51.04 358.40,50.17 358.59,49.31 358.78,48.46 358.97,47.62 359.16,46.78 359.35,45.95 359.54,45.13 359.74,44.32 359.93,43.52 360.12,42.73 360.31,41.95 360.50,41.18 360.69,40.41 360.88,39.66 361.07,38.92 361.26,38.20 361.45,37.48 361.64,36.77 361.83,36.08 362.02,35.40 362.22,34.73 362.41,34.07 362.60,33.43 362.79,32.80 362.98,32.18 363.17,31.58 363.36,30.99 363.55,30.41 363.74,29.84 363.93,29.29 364.12,28.75 364.31,28.23 364.51,27.72 364.70,27.22 364.89,26.74 365.08,26.27 365.27,25.81 365.46,25.37 365.65,24.95 365.84,24.53 366.03,24.13 366.22,23.75 366.41,23.37 366.61,23.02 366.80,22.67 366.99,22.34 367.18,22.02 367.37,21.72 367.56,21.43 367.75,21.16 367.94,20.90 368.13,20.65 368.32,20.42 368.51,20.20 368.70,19.99 368.89,19.80 369.09,19.62 369.28,19.46 369.47,19.31 369.66,19.17 369.85,19.05 370.04,18.94 370.23,18.85 370.42,18.77 370.61,18.70 370.80,18.65 370.99,18.62 371.19,18.59 371.38,18.59 371.57,18.59 371.76,18.61 371.95,18.65 372.14,18.70 372.33,18.77 372.52,18.85 372.71,18.95 372.90,19.06 373.09,19.19 373.28,19.33 373.47,19.49 373.66,19.66 373.85,19.85 374.04,20.06 374.22,20.29 374.41,20.53 374.60,20.79 374.79,21.06 374.97,21.35 375.16,21.66 375.35,21.99 375.53,22.34 375.72,22.70 375.90,23.08 376.09,23.49 376.27,23.91 376.46,24.35 376.64,24.81 376.83,25.28 377.01,25.78 377.19,26.30 377.38,26.84 377.56,27.40 377.74,27.98 377.92,28.58 378.11,29.20 378.29,29.85 378.47,30.51 378.65,31.20 378.83,31.91 379.01,32.64 379.19,33.39 379.37,34.17 379.55,34.97 379.73,35.79 379.91,36.63 380.09,37.50 380.27,38.39 380.45,39.30 380.62,40.24 380.80,41.20 380.98,42.18 381.15,43.18 381.33,44.20 381.51,45.25 381.68,46.32 381.86,47.41 382.04,48.53 382.24,49.66 382.43,50.82 382.62,52.00 382.81,53.20 383.00,54.41 383.19,55.65 383.38,56.91 383.57,58.18 383.76,59.48 383.95,60.79 384.14,62.12 384.33,63.46 384.53,64.82 384.72,66.20 384.91,67.59 385.10,68.99 385.29,70.40 385.48,71.83 385.67,73.27 385.86,74.72 386.05,76.17 386.24,77.64 386.43,79.11 386.62,80.59 386.82,82.07 387.01,83.56 387.20,85.06 387.39,86.55 387.58,88.05 387.77,89.54 387.96,91.04 388.15,92.53 388.34,94.03 388.53,95.51 388.72,97.00 388.91,98.48 389.11,99.95 389.30,101.41 389.49,102.87 389.68,104.32 389.87,105.76 390.06,107.18 390.25,108.60 390.44,110.00 390.63,111.39 390.82,112.76 391.01,114.13 391.20,115.47 391.40,116.80 391.59,118.11 391.78,119.41 391.97,120.69 392.16,121.95 392.35,123.19 392.54,124.41 392.73,125.61 392.92,126.79 393.11,127.95 393.30,129.09 393.49,130.21 393.69,131.31 393.88,132.39 394.07,133.44 394.26,134.48 394.45,135.49 394.64,136.48 394.83,137.44 395.02,138.39 395.21,139.31 395.40,140.21 395.59,141.09 395.78,141.95 395.98,142.78 396.17,143.59 396.36,144.38 396.55,145.15 396.74,145.90 396.93,146.63 397.12,147.33 397.31,148.02 397.50,148.68 397.69,149.32 397.88,149.95 398.07,150.55 398.27,151.14 398.46,151.71 398.65,152.25 398.84,152.78 399.03,153.30 399.22,153.79 399.41,154.27 399.60,154.73 399.79,155.18 399.98,155.61 400.17,156.02 400.36,156.42 400.56,156.80 400.75,157.17 400.94,157.53 401.13,157.87 401.32,158.20 401.51,158.52 401.70,158.82 401.89,159.12 402.08,159.40 402.27,159.67 402.46,159.93 402.65,160.18 402.85,160.42 403.04,160.65 403.23,160.87 403.42,161.08 403.61,161.28 403.80,161.48 403.99,161.66 404.18,161.84 404.37,162.01 404.56,162.18 404.75,162.33 404.94,162.48 405.13,162.63 405.33,162.76 405.52,162.90 405.71,163.02 405.90,163.14 406.09,163.26 406.28,163.37 406.47,163.48 406.66,163.58 406.85,163.67 407.04,163.77 407.23,163.86 407.43,163.94 407.62,164.02 407.81,164.10 408.00,164.17 408.19,164.24 408.38,164.31 408.57,164.38 408.76,164.44 408.95,164.50 409.14,164.55 409.33,164.61 409.52,164.66 409.72,164.71 409.91,164.75 410.10,164.80 410.29,164.84 410.48,164.88 410.67,164.92 410.86,164.96 411.05,165.00 411.24,165.03 411.43,165.06 411.62,165.09 411.81,165.12 412.00,165.15 412.20,165.18 412.39,165.20 412.58,165.23 412.77,165.25 412.96,165.28 413.15,165.30 413.34,165.32 413.53,165.34 413.72,165.36 413.91,165.37 414.10,165.39 414.30,165.41 414.49,165.42 414.68,165.44 414.87,165.45 415.06,165.46 415.25,165.48 415.44,165.49 415.63,165.50 415.82,165.51 416.01,165.52 416.20,165.53 416.39,165.54 416.59,165.55 416.78,165.56 416.97,165.57 417.16,165.58 417.35,165.59 417.54,165.59 417.73,165.60 417.92,165.61 418.11,165.61 418.30,165.62 418.49,165.63 418.68,165.63 418.88,165.64 419.07,165.64 419.26,165.65 419.45,165.65 419.64,165.66 419.83,165.66 420.02,165.66 420.21,165.67 420.40,165.67 420.59,165.67 420.78,165.68 420.97,165.68 421.17,165.68 421.36,165.69 421.55,165.69 421.74,165.69 421.93,165.70 422.12,165.70 422.31,165.70 422.50,165.70 422.69,165.70 422.88,165.71 423.07,165.71 423.26,165.71 423.46,165.71 423.65,165.71 423.84,165.72 424.03,165.72 424.22,165.72 424.41,165.72 424.60,165.72 424.79,165.72 424.98,165.72" fill="none" stroke="#0000ff" stroke-width="1.8" stroke-linejoin="round" stroke-dasharray="5.2 4.8"/><polyline points="311.50,118.85 311.80,118.83 312.09,118.82 312.39,118.80 312.69,118.79 313.00,118.78 313.31,118.77 313.62,118.76 313.93,118.75 314.25,118.74 314.57,118.73 314.89,118.72 315.22,118.72 315.54,118.71 315.87,118.70 316.20,118.69 316.54,118.69 316.87,118.68 317.21,118.67 317.55,118.67 317.89,118.66 318.23,118.65 318.57,118.64 318.91,118.64 319.26,118.63 319.61,118.62 319.95,118.61 320.30,118.59 320.65,118.58 321.00,118.57 321.35,118.55 321.70,118.54 322.06,118.52 322.41,118.50 322.76,118.48 323.11,118.46 323.46,118.44 323.82,118.41 324.17,118.38 324.52,118.36 324.87,118.32 325.22,118.29 325.57,118.26 325.92,118.22 326.27,118.18 326.62,118.14 326.97,118.09 327.31,118.05 327.66,118.00 328.00,117.95 328.34,117.89 328.69,117.83 329.02,117.77 329.36,117.71 329.70,117.64 330.03,117.57 330.36,117.50 330.69,117.42 331.02,117.34 331.35,117.25 331.67,117.17 331.99,117.07 332.31,116.98 332.63,116.88 332.94,116.77 333.25,116.67 333.56,116.55 333.86,116.44 334.16,116.32 334.46,116.19 334.75,116.06 335.04,115.93 335.33,115.79 335.61,115.65 335.89,115.50 336.17,115.35 336.44,115.19 336.71,115.02 336.98,114.86 337.24,114.68 337.49,114.51 337.75,114.32 338.00,114.14 338.24,113.94 338.48,113.75 338.72,113.55 338.96,113.34 339.19,113.14 339.42,112.92 339.65,112.71 339.87,112.49 340.09,112.26 340.30,112.03 340.52,111.80 340.73,111.57 340.93,111.33 341.14,111.08 341.34,110.84 341.54,110.59 341.73,110.33 341.93,110.08 342.12,109.82 342.30,109.56 342.49,109.29 342.67,109.02 342.85,108.75 343.03,108.48 343.20,108.20 343.38,107.92 343.55,107.64 343.71,107.36 343.88,107.07 344.04,106.79 344.21,106.49 344.37,106.20 344.52,105.91 344.68,105.61 344.83,105.31 344.98,105.01 345.13,104.71 345.28,104.41 345.43,104.10 345.57,103.79 345.72,103.48 345.86,103.17 346.00,102.86 346.14,102.55 346.28,102.24 346.41,101.92 346.55,101.61 346.68,101.29 346.81,100.97 346.94,100.66 347.07,100.34 347.20,100.02 347.33,99.70 347.46,99.38 347.58,99.06 347.71,98.74 347.83,98.42 347.96,98.09 348.08,97.77 348.20,97.45 348.32,97.13 348.45,96.81 348.57,96.49 348.69,96.17 348.81,95.85 348.92,95.53 349.04,95.21 349.16,94.89 349.28,94.57 349.40,94.25 349.52,93.94 349.63,93.62 349.75,93.30 349.87,92.99 349.98,92.67 350.10,92.35 350.21,92.04 350.33,91.72 350.44,91.41 350.55,91.09 350.67,90.78 350.78,90.47 350.89,90.15 351.00,89.84 351.12,89.52 351.23,89.21 351.34,88.90 351.45,88.59 351.56,88.27 351.67,87.96 351.78,87.65 351.88,87.34 351.99,87.03 352.10,86.71 352.21,86.40 352.31,86.09 352.42,85.78 352.53,85.47 352.63,85.16 352.74,84.84 352.84,84.53 352.95,84.22 353.05,83.91 353.15,83.60 353.25,83.29 353.36,82.98 353.46,82.67 353.56,82.35 353.66,82.04 353.76,81.73 353.86,81.42 353.96,81.11 354.06,80.80 354.16,80.49 354.25,80.17 354.35,79.86 354.45,79.55 354.54,79.24 354.64,78.92 354.73,78.61 354.83,78.30 354.92,77.99 355.02,77.67 355.11,77.36 355.20,77.05 355.29,76.73 355.38,76.42 355.48,76.10 355.57,75.79 355.66,75.47 355.75,75.16 355.83,74.84 355.92,74.52 356.01,74.21 356.10,73.89 356.18,73.57 356.27,73.26 356.36,72.94 356.44,72.62 356.52,72.30 356.61,71.98 356.69,71.66 356.77,71.34 356.86,71.02 356.94,70.70 357.02,70.38 357.10,70.06 357.18,69.74 357.26,69.42 357.34,69.09 357.42,68.77 357.50,68.45 357.58,68.13 357.65,67.80 357.73,67.48 357.81,67.16 357.88,66.83 357.96,66.51 358.03,66.18 358.11,65.86 358.18,65.53 358.26,65.21 358.33,64.88 358.40,64.56 358.48,64.23 358.55,63.90 358.62,63.58 358.69,63.25 358.76,62.92 358.84,62.60 358.91,62.27 358.98,61.94 359.05,61.61 359.12,61.29 359.19,60.96 359.26,60.63 359.32,60.30 359.39,59.98 359.46,59.65 359.53,59.32 359.60,58.99 359.67,58.66 359.73,58.33 359.80,58.00 359.87,57.68 359.93,57.35 360.00,57.02 360.06,56.69 360.13,56.36 360.20,56.03 360.26,55.70 360.33,55.37 360.39,55.04 360.46,54.72 360.52,54.39 360.59,54.06 360.65,53.73 360.71,53.40 360.78,53.07 360.84,52.74 360.91,52.41 360.97,52.08 361.03,51.75 361.10,51.42 361.16,51.10 361.22,50.77 361.28,50.44 361.35,50.11 361.41,49.78 361.47,49.45 361.54,49.12 361.60,48.80 361.66,48.47 361.72,48.14 361.79,47.81 361.85,47.49 361.92,47.16 361.99,46.83 362.06,46.51 362.12,46.18 362.20,45.85 362.27,45.53 362.34,45.20 362.42,44.88 362.49,44.56 362.57,44.23 362.66,43.91 362.74,43.59 362.83,43.26 362.91,42.94 363.01,42.62 363.10,42.30 363.20,41.98 363.30,41.67 363.40,41.35 363.51,41.03 363.62,40.71 363.73,40.40 363.85,40.08 363.97,39.77 364.10,39.46 364.23,39.14 364.36,38.83 364.50,38.52 364.64,38.21 364.79,37.91 364.94,37.60 365.10,37.29 365.26,36.99 365.43,36.68 365.60,36.38 365.78,36.08 365.96,35.79 366.15,35.50 366.34,35.21 366.54,34.93 366.74,34.66 366.95,34.39 367.16,34.13 367.38,33.87 367.61,33.63 367.84,33.39 368.07,33.16 368.31,32.95 368.56,32.74 368.81,32.54 369.07,32.35 369.33,32.18 369.59,32.02 369.86,31.87 370.14,31.73 370.41,31.61 370.69,31.49 370.97,31.40 371.26,31.31 371.54,31.24 371.82,31.18 372.10,31.14 372.39,31.11 372.67,31.10 372.95,31.10 373.23,31.12 373.50,31.15 373.77,31.20 374.04,31.26 374.31,31.34 374.57,31.44 374.83,31.55 375.08,31.67 375.33,31.81 375.57,31.96 375.81,32.12 376.05,32.30 376.27,32.49 376.50,32.69 376.71,32.90 376.93,33.12 377.13,33.35 377.33,33.59 377.52,33.84 377.71,34.10 377.89,34.37 378.06,34.64 378.22,34.93 378.38,35.22 378.53,35.51 378.68,35.81 378.82,36.12 378.96,36.44 379.09,36.75 379.22,37.07 379.34,37.40 379.46,37.73 379.57,38.06 379.69,38.39 379.79,38.72 379.90,39.06 380.00,39.39 380.11,39.73 380.21,40.07 380.30,40.40 380.40,40.73 380.50,41.07 380.59,41.40 380.68,41.73 380.78,42.06 380.87,42.40 380.95,42.73 381.04,43.06 381.13,43.38 381.21,43.71 381.30,44.04 381.38,44.37 381.46,44.70 381.54,45.02 381.62,45.35 381.70,45.68 381.78,46.00 381.86,46.33 381.94,46.65 382.01,46.98 382.09,47.30 382.16,47.63 382.23,47.95 382.31,48.28 382.38,48.60 382.45,48.93 382.52,49.25 382.59,49.57 382.66,49.90 382.73,50.22 382.80,50.54 382.87,50.87 382.94,51.19 383.01,51.52 383.08,51.84 383.15,52.16 383.22,52.49 383.28,52.81 383.35,53.14 383.42,53.46 383.49,53.78 383.55,54.11 383.62,54.43 383.69,54.76 383.75,55.08 383.82,55.41 383.89,55.73 383.95,56.06 384.02,56.38 384.08,56.71 384.15,57.03 384.21,57.36 384.28,57.68 384.34,58.01 384.41,58.33 384.47,58.66 384.54,58.99 384.60,59.31 384.67,59.64 384.73,59.96 384.79,60.29 384.86,60.61 384.92,60.94 384.98,61.27 385.05,61.59 385.11,61.92 385.17,62.24 385.24,62.57 385.30,62.90 385.36,63.22 385.42,63.55 385.49,63.88 385.55,64.20 385.61,64.53 385.67,64.86 385.74,65.18 385.80,65.51 385.86,65.84 385.92,66.16 385.98,66.49 386.04,66.82 386.11,67.14 386.17,67.47 386.23,67.80 386.29,68.13 386.35,68.45 386.41,68.78 386.47,69.11 386.53,69.43 386.60,69.76 386.66,70.09 386.72,70.42 386.78,70.74 386.84,71.07 386.90,71.40 386.96,71.73 387.02,72.05 387.08,72.38 387.14,72.71 387.20,73.04 387.26,73.36 387.32,73.69 387.38,74.02 387.44,74.35 387.50,74.67 387.56,75.00 387.62,75.33 387.68,75.66 387.74,75.99 387.80,76.31 387.86,76.64 387.92,76.97 387.98,77.30 388.05,77.62 388.11,77.95 388.17,78.28 388.23,78.61 388.29,78.94 388.35,79.26 388.41,79.59 388.47,79.92 388.53,80.25 388.59,80.58 388.65,80.90 388.71,81.23 388.77,81.56 388.83,81.89 388.89,82.22 388.95,82.54 389.01,82.87 389.07,83.20 389.13,83.53 389.19,83.86 389.25,84.18 389.31,84.51 389.38,84.84 389.44,85.17 389.50,85.50 389.56,85.82 389.62,86.15 389.68,86.48 389.74,86.81 389.80,87.14 389.87,87.46 389.93,87.79 389.99,88.12 390.05,88.45 390.11,88.77 390.18,89.10 390.24,89.43 390.30,89.76 390.36,90.09 390.42,90.41 390.49,90.74 390.55,91.07 390.61,91.40 390.68,91.72 390.74,92.05 390.80,92.38 390.86,92.71 390.93,93.03 390.99,93.36 391.06,93.69 391.12,94.02 391.18,94.34 391.25,94.67 391.31,95.00 391.38,95.33 391.44,95.65 391.51,95.98 391.57,96.31 391.64,96.63 391.70,96.96 391.77,97.29 391.83,97.61 391.90,97.94 391.96,98.27 392.03,98.60 392.10,98.92 392.16,99.25 392.23,99.58 392.30,99.90 392.36,100.23 392.43,100.56 392.50,100.88 392.56,101.21 392.63,101.53 392.70,101.86 392.77,102.19 392.84,102.51 392.91,102.84 392.97,103.17 393.04,103.49 393.11,103.82 393.18,104.14 393.25,104.47 393.32,104.80 393.39,105.12 393.46,105.45 393.53,105.77 393.60,106.10 393.68,106.42 393.75,106.75 393.82,107.07 393.89,107.40 393.96,107.72 394.04,108.05 394.11,108.37 394.18,108.70 394.26,109.02 394.33,109.35 394.40,109.67 394.48,110.00 394.55,110.32 394.63,110.65 394.70,110.97 394.78,111.30 394.85,111.62 394.93,111.94 395.00,112.27 395.08,112.59 395.16,112.92 395.23,113.24 395.31,113.56 395.39,113.89 395.47,114.21 395.55,114.53 395.63,114.86 395.70,115.18 395.78,115.50 395.86,115.83 395.94,116.15 396.02,116.47 396.11,116.80 396.19,117.12 396.27,117.44 396.35,117.76 396.43,118.09 396.51,118.41 396.60,118.73 396.68,119.05 396.76,119.37 396.85,119.70 396.93,120.02 397.02,120.34 397.10,120.66 397.19,120.98 397.27,121.30 397.36,121.63 397.45,121.95 397.54,122.27 397.62,122.59 397.71,122.91 397.80,123.23 397.89,123.55 397.98,123.87 398.07,124.19 398.16,124.51 398.25,124.83 398.34,125.15 398.43,125.47 398.52,125.79 398.61,126.11 398.71,126.43 398.80,126.75 398.89,127.07 398.99,127.39 399.08,127.71 399.18,128.03 399.27,128.34 399.37,128.66 399.46,128.98 399.56,129.30 399.66,129.62 399.75,129.94 399.85,130.25 399.95,130.57 400.05,130.89 400.15,131.21 400.25,131.53 400.35,131.84 400.45,132.16 400.55,132.48 400.65,132.79 400.76,133.11 400.86,133.43 400.96,133.74 401.07,134.06 401.17,134.38 401.28,134.69 401.38,135.01 401.49,135.32 401.59,135.64 401.70,135.95 401.81,136.27 401.92,136.58 402.03,136.90 402.13,137.21 402.24,137.53 402.35,137.84 402.47,138.16 402.58,138.47 402.69,138.79 402.80,139.10 402.91,139.41 403.03,139.73 403.14,140.04 403.26,140.35 403.37,140.67 403.49,140.98 403.61,141.29 403.72,141.60 403.84,141.92 403.96,142.23 404.08,142.54 404.20,142.85 404.32,143.16 404.44,143.48 404.56,143.79 404.68,144.10 404.80,144.41 404.93,144.72 405.05,145.03 405.17,145.34 405.30,145.65 405.42,145.96 405.55,146.27 405.68,146.58 405.81,146.89 405.93,147.20 406.06,147.51 406.20,147.81 406.33,148.12 406.46,148.43 406.60,148.73 406.74,149.03 406.87,149.34 407.02,149.64 407.16,149.94 407.30,150.24 407.45,150.53 407.60,150.83 407.75,151.12 407.91,151.41 408.07,151.71 408.23,151.99 408.39,152.28 408.55,152.56 408.72,152.84 408.90,153.12 409.07,153.40 409.25,153.68 409.43,153.95 409.62,154.22 409.81,154.48 410.00,154.75 410.20,155.01 410.40,155.26 410.61,155.52 410.82,155.77 411.03,156.02 411.25,156.26 411.48,156.50 411.71,156.74 411.94,156.97 412.18,157.20 412.42,157.43 412.66,157.65 412.91,157.87 413.16,158.09 413.42,158.30 413.68,158.51 413.94,158.72 414.21,158.92 414.48,159.12 414.75,159.32 415.02,159.51 415.30,159.70 415.58,159.89 415.87,160.07 416.15,160.25 416.44,160.42 416.73,160.60 417.02,160.77 417.32,160.93 417.62,161.09 417.91,161.25 418.21,161.41 418.52,161.56 418.82,161.71 419.13,161.85 419.43,162.00 419.74,162.13 420.05,162.27 420.36,162.40 420.67,162.53 420.98,162.66 421.29,162.78 421.61,162.90 421.92,163.01 422.23,163.12 422.55,163.23 422.86,163.34 423.18,163.44 423.49,163.54 423.81,163.64 424.13,163.73 424.45,163.82 424.76,163.91 425.08,164.00 425.40,164.08 425.72,164.16 426.04,164.24 426.36,164.31 426.69,164.38 427.01,164.45 427.33,164.52 427.65,164.58 427.98,164.65 428.30,164.71 428.62,164.76 428.95,164.82 429.27,164.87 429.60,164.92 429.93,164.97 430.25,165.02 430.58,165.06 430.90,165.11 431.23,165.15 431.56,165.19 431.89,165.22 432.22,165.26 432.54,165.29 432.87,165.32 433.20,165.35 433.53,165.38 433.86,165.41 434.19,165.44 434.52,165.46 434.85,165.48 435.18,165.50 435.51,165.52 435.85,165.54 436.18,165.56 436.51,165.58 436.84,165.59 437.17,165.61 437.50,165.62 437.84,165.63 438.17,165.64 438.50,165.65 438.84,165.66 439.17,165.67 439.50,165.68 439.83,165.69 440.17,165.69 440.50,165.70 440.84,165.70 441.17,165.71 441.50,165.71 441.84,165.72 442.17,165.72 442.50,165.72 442.84,165.72 443.17,165.73 443.51,165.73 443.84,165.73 444.17,165.73 444.51,165.73 444.84,165.74 445.18,165.74 445.51,165.74 445.85,165.74 446.18,165.74 446.51,165.74 446.85,165.75 447.18,165.75 447.52,165.75 447.85,165.75 448.18,165.75 448.52,165.75 448.85,165.75 449.18,165.76 449.52,165.76 449.85,165.76" fill="none" stroke="#ff0000" stroke-width="1.8" stroke-linejoin="round"/><polyline points="311.70,118.78 311.89,118.78 312.08,118.77 312.27,118.77 312.46,118.77 312.65,118.77 312.84,118.77 313.04,118.76 313.23,118.76 313.42,118.76 313.61,118.76 313.80,118.75 313.99,118.75 314.18,118.75 314.37,118.75 314.56,118.74 314.75,118.74 314.94,118.74 315.13,118.73 315.33,118.73 315.52,118.73 315.71,118.72 315.90,118.72 316.09,118.72 316.28,118.71 316.47,118.71 316.66,118.70 316.85,118.70 317.04,118.70 317.23,118.69 317.43,118.69 317.62,118.68 317.81,118.68 318.00,118.67 318.19,118.67 318.38,118.66 318.57,118.66 318.76,118.65 318.95,118.64 319.14,118.64 319.33,118.63 319.52,118.62 319.71,118.62 319.91,118.61 320.10,118.60 320.29,118.60 320.48,118.59 320.67,118.58 320.86,118.57 321.05,118.56 321.24,118.55 321.43,118.55 321.62,118.54 321.81,118.53 322.00,118.52 322.20,118.51 322.39,118.50 322.58,118.49 322.77,118.47 322.96,118.46 323.15,118.45 323.34,118.44 323.53,118.42 323.72,118.41 323.91,118.40 324.10,118.38 324.30,118.37 324.49,118.35 324.68,118.34 324.87,118.32 325.06,118.31 325.25,118.29 325.44,118.27 325.63,118.25 325.82,118.23 326.01,118.22 326.20,118.20 326.39,118.17 326.58,118.15 326.78,118.13 326.97,118.11 327.16,118.09 327.35,118.06 327.54,118.04 327.73,118.01 327.92,117.98 328.11,117.96 328.30,117.93 328.49,117.90 328.68,117.87 328.88,117.84 329.07,117.81 329.26,117.77 329.45,117.74 329.64,117.70 329.83,117.67 330.02,117.63 330.21,117.59 330.40,117.55 330.59,117.51 330.78,117.47 330.97,117.42 331.16,117.38 331.36,117.33 331.55,117.28 331.74,117.23 331.93,117.18 332.12,117.13 332.31,117.07 332.50,117.02 332.69,116.96 332.88,116.90 333.07,116.84 333.26,116.78 333.45,116.71 333.65,116.64 333.84,116.57 334.03,116.50 334.22,116.43 334.41,116.35 334.60,116.27 334.79,116.19 334.98,116.10 335.17,116.02 335.36,115.93 335.55,115.84 335.75,115.74 335.94,115.64 336.13,115.54 336.32,115.44 336.51,115.33 336.70,115.22 336.89,115.11 337.08,114.99 337.27,114.87 337.46,114.75 337.65,114.62 337.84,114.49 338.03,114.35 338.23,114.21 338.42,114.07 338.61,113.92 338.80,113.77 338.99,113.61 339.18,113.45 339.37,113.28 339.56,113.11 339.75,112.93 339.94,112.75 340.13,112.57 340.32,112.37 340.52,112.18 340.71,111.97 340.90,111.76 341.09,111.55 341.28,111.33 341.47,111.10 341.66,110.87 341.85,110.62 342.04,110.38 342.23,110.12 342.42,109.86 342.62,109.59 342.81,109.32 343.00,109.04 343.19,108.75 343.38,108.45 343.57,108.14 343.76,107.83 343.95,107.51 344.14,107.17 344.33,106.84 344.52,106.49 344.71,106.13 344.90,105.76 345.10,105.39 345.29,105.01 345.48,104.61 345.67,104.21 345.87,103.80 346.06,103.37 346.26,102.94 346.46,102.50 346.65,102.04 346.85,101.58 347.05,101.11 347.24,100.62 347.44,100.13 347.64,99.62 347.83,99.11 348.03,98.58 348.23,98.04 348.42,97.49 348.62,96.93 348.82,96.36 349.02,95.77 349.21,95.18 349.41,94.57 349.61,93.96 349.81,93.33 350.01,92.69 350.20,92.04 350.40,91.38 350.60,90.70 350.80,90.02 351.00,89.33 351.20,88.62 351.40,87.90 351.60,87.18 351.80,86.44 352.00,85.69 352.20,84.94 352.40,84.17 352.60,83.39 352.80,82.61 353.00,81.81 353.20,81.01 353.40,80.19 353.60,79.37 353.80,78.54 354.00,77.71 354.20,76.86 354.40,76.01 354.60,75.15 354.80,74.29 355.00,73.42 355.20,72.54 355.41,71.66 355.61,70.78 355.81,69.89 356.01,68.99 356.21,68.09 356.41,67.19 356.61,66.29 356.81,65.39 357.02,64.48 357.22,63.57 357.42,62.67 357.62,61.76 357.81,60.85 358.00,59.94 358.19,59.04 358.38,58.14 358.57,57.23 358.76,56.34 358.95,55.44 359.14,54.55 359.34,53.66 359.53,52.78 359.72,51.91 359.91,51.04 360.10,50.17 360.29,49.31 360.48,48.46 360.67,47.62 360.86,46.78 361.05,45.95 361.24,45.13 361.44,44.32 361.63,43.52 361.82,42.73 362.01,41.95 362.20,41.18 362.39,40.41 362.58,39.66 362.77,38.92 362.96,38.20 363.15,37.48 363.34,36.77 363.53,36.08 363.72,35.40 363.92,34.73 364.11,34.07 364.30,33.43 364.49,32.80 364.68,32.18 364.87,31.58 365.06,30.99 365.25,30.41 365.44,29.84 365.63,29.29 365.82,28.75 366.01,28.23 366.21,27.72 366.40,27.22 366.59,26.74 366.78,26.27 366.97,25.81 367.16,25.37 367.35,24.95 367.54,24.53 367.73,24.13 367.92,23.75 368.11,23.37 368.31,23.02 368.50,22.67 368.69,22.34 368.88,22.02 369.07,21.72 369.26,21.43 369.45,21.16 369.64,20.90 369.83,20.65 370.02,20.42 370.21,20.20 370.40,19.99 370.59,19.80 370.79,19.62 370.98,19.46 371.17,19.31 371.36,19.17 371.55,19.05 371.74,18.94 371.93,18.85 372.12,18.77 372.31,18.70 372.50,18.65 372.69,18.62 372.88,18.59 373.08,18.59 373.27,18.59 373.46,18.61 373.65,18.65 373.84,18.70 374.03,18.77 374.22,18.85 374.41,18.95 374.60,19.06 374.79,19.19 374.98,19.33 375.18,19.49 375.37,19.66 375.56,19.85 375.75,20.06 375.94,20.29 376.13,20.53 376.33,20.79 376.52,21.06 376.71,21.35 376.90,21.66 377.09,21.99 377.28,22.34 377.48,22.70 377.67,23.08 377.86,23.49 378.05,23.91 378.25,24.35 378.44,24.81 378.63,25.28 378.82,25.78 379.02,26.30 379.21,26.84 379.40,27.40 379.59,27.98 379.79,28.58 379.98,29.20 380.17,29.85 380.37,30.51 380.56,31.20 380.75,31.91 380.95,32.64 381.14,33.39 381.33,34.17 381.53,34.97 381.72,35.79 381.92,36.63 382.11,37.50 382.30,38.39 382.50,39.30 382.69,40.24 382.89,41.20 383.08,42.18 383.27,43.18 383.47,44.20 383.66,45.25 383.86,46.32 384.05,47.41 384.24,48.53 384.44,49.66 384.63,50.82 384.82,52.00 385.01,53.20 385.20,54.41 385.39,55.65 385.58,56.91 385.77,58.18 385.96,59.48 386.15,60.79 386.34,62.12 386.53,63.46 386.73,64.82 386.92,66.20 387.11,67.59 387.30,68.99 387.49,70.40 387.68,71.83 387.87,73.27 388.06,74.72 388.25,76.17 388.44,77.64 388.63,79.11 388.82,80.59 389.02,82.07 389.21,83.56 389.40,85.06 389.59,86.55 389.78,88.05 389.97,89.54 390.16,91.04 390.35,92.53 390.54,94.03 390.73,95.51 390.92,97.00 391.11,98.48 391.31,99.95 391.50,101.41 391.69,102.87 391.88,104.32 392.07,105.76 392.26,107.18 392.45,108.60 392.64,110.00 392.83,111.39 393.02,112.76 393.21,114.13 393.40,115.47 393.60,116.80 393.79,118.11 393.98,119.41 394.17,120.69 394.36,121.95 394.55,123.19 394.74,124.41 394.93,125.61 395.12,126.79 395.31,127.95 395.50,129.09 395.69,130.21 395.88,131.31 396.08,132.39 396.27,133.44 396.46,134.48 396.65,135.49 396.84,136.48 397.03,137.44 397.22,138.39 397.41,139.31 397.60,140.21 397.79,141.09 397.98,141.95 398.18,142.78 398.37,143.59 398.56,144.38 398.75,145.15 398.94,145.90 399.13,146.63 399.32,147.33 399.51,148.02 399.70,148.68 399.89,149.32 400.08,149.95 400.27,150.55 400.47,151.14 400.66,151.71 400.85,152.25 401.04,152.78 401.23,153.30 401.42,153.79 401.61,154.27 401.80,154.73 401.99,155.18 402.18,155.61 402.37,156.02 402.56,156.42 402.75,156.80 402.95,157.17 403.14,157.53 403.33,157.87 403.52,158.20 403.71,158.52 403.90,158.82 404.09,159.12 404.28,159.40 404.47,159.67 404.66,159.93 404.85,160.18 405.05,160.42 405.24,160.65 405.43,160.87 405.62,161.08 405.81,161.28 406.00,161.48 406.19,161.66 406.38,161.84 406.57,162.01 406.76,162.18 406.95,162.33 407.14,162.48 407.33,162.63 407.53,162.76 407.72,162.90 407.91,163.02 408.10,163.14 408.29,163.26 408.48,163.37 408.67,163.48 408.86,163.58 409.05,163.67 409.24,163.77 409.43,163.86 409.62,163.94 409.82,164.02 410.01,164.10 410.20,164.17 410.39,164.24 410.58,164.31 410.77,164.38 410.96,164.44 411.15,164.50 411.34,164.55 411.53,164.61 411.72,164.66 411.92,164.71 412.11,164.75 412.30,164.80 412.49,164.84 412.68,164.88 412.87,164.92 413.06,164.96 413.25,165.00 413.44,165.03 413.63,165.06 413.82,165.09 414.01,165.12 414.20,165.15 414.40,165.18 414.59,165.20 414.78,165.23 414.97,165.25 415.16,165.28 415.35,165.30 415.54,165.32 415.73,165.34 415.92,165.36 416.11,165.37 416.30,165.39 416.50,165.41 416.69,165.42 416.88,165.44 417.07,165.45 417.26,165.46 417.45,165.48 417.64,165.49 417.83,165.50 418.02,165.51 418.21,165.52 418.40,165.53 418.59,165.54 418.79,165.55 418.98,165.56 419.17,165.57 419.36,165.58 419.55,165.59 419.74,165.59 419.93,165.60 420.12,165.61 420.31,165.61 420.50,165.62 420.69,165.63 420.88,165.63 421.07,165.64 421.27,165.64 421.46,165.65 421.65,165.65 421.84,165.66 422.03,165.66 422.22,165.66 422.41,165.67 422.60,165.67 422.79,165.67 422.98,165.68 423.17,165.68 423.37,165.68 423.56,165.69 423.75,165.69 423.94,165.69 424.13,165.70 424.32,165.70 424.51,165.70 424.70,165.70 424.89,165.70 425.08,165.71 425.27,165.71 425.46,165.71 425.66,165.71 425.85,165.71 426.04,165.72 426.23,165.72 426.42,165.72 426.61,165.72 426.80,165.72 426.99,165.72 427.18,165.72 427.37,165.72 427.56,165.73 427.75,165.73 427.94,165.73 428.14,165.73 428.33,165.73 428.52,165.73 428.71,165.73 428.90,165.73 429.09,165.73 429.28,165.73 429.47,165.73 429.66,165.73 429.85,165.74 430.04,165.74 430.24,165.74 430.43,165.74 430.62,165.74 430.81,165.74 431.00,165.74 431.19,165.74 431.38,165.74 431.57,165.74 431.76,165.74 431.95,165.74 432.14,165.74 432.33,165.74 432.53,165.74 432.72,165.74 432.91,165.74 433.10,165.74 433.29,165.74 433.48,165.74 433.67,165.74 433.86,165.74 434.05,165.74 434.24,165.74 434.43,165.74 434.62,165.74 434.81,165.74 435.01,165.74 435.20,165.74 435.39,165.74 435.58,165.75 435.77,165.75 435.96,165.75 436.15,165.75 436.34,165.75 436.53,165.75 436.72,165.75 436.91,165.75 437.11,165.75 437.30,165.75 437.49,165.75 437.68,165.75 437.87,165.75 438.06,165.75 438.25,165.75 438.44,165.75 438.63,165.75 438.82,165.75 439.01,165.75 439.20,165.75 439.40,165.75 439.59,165.75 439.78,165.75 439.97,165.75 440.16,165.75 440.35,165.75 440.54,165.75 440.73,165.75 440.92,165.75 441.11,165.75 441.30,165.75 441.49,165.75 441.69,165.75 441.88,165.75 442.07,165.75 442.26,165.75 442.45,165.75 442.64,165.75 442.83,165.75 443.02,165.75 443.21,165.75 443.40,165.75 443.59,165.75 443.78,165.75 443.97,165.75 444.17,165.75 444.36,165.75 444.55,165.75 444.74,165.75 444.93,165.75 445.12,165.75 445.31,165.75 445.50,165.75 445.69,165.75 445.88,165.75 446.07,165.75 446.27,165.75 446.46,165.75 446.65,165.75 446.84,165.75 447.03,165.75 447.22,165.75 447.41,165.75 447.60,165.75 447.79,165.75 447.98,165.75 448.17,165.75 448.36,165.75 448.56,165.75 448.75,165.75 448.94,165.75 449.13,165.75 449.32,165.75 449.51,165.75 449.70,165.75 449.89,165.75 450.08,165.75 450.27,165.75 450.46,165.75 450.65,165.75 450.84,165.75 451.04,165.75 451.23,165.75 451.42,165.75 451.61,165.75 451.80,165.75 451.99,165.75 452.18,165.75 452.37,165.75 452.56,165.75 452.75,165.75 452.94,165.75 453.14,165.75 453.33,165.75 453.52,165.75 453.71,165.75 453.90,165.75 454.09,165.75 454.28,165.75 454.47,165.75 454.66,165.75 454.85,165.75 455.04,165.75 455.23,165.75 455.43,165.75 455.62,165.75 455.81,165.75 456.00,165.75 456.19,165.75 456.38,165.75 456.57,165.75 456.76,165.75 456.95,165.75 457.14,165.75 457.33,165.75 457.52,165.75 457.71,165.75 457.91,165.75 458.10,165.75 458.29,165.75 458.48,165.75 458.67,165.75 458.86,165.75 459.05,165.75 459.24,165.75 459.43,165.75 459.62,165.75 459.81,165.75 460.01,165.75 460.20,165.75 460.39,165.75 460.58,165.75 460.77,165.75 460.96,165.75 461.15,165.75 461.34,165.75 461.53,165.75 461.72,165.75 461.91,165.75 462.10,165.75 462.30,165.75 462.49,165.75 462.68,165.75 462.87,165.75 463.06,165.75 463.25,165.75 463.44,165.75 463.63,165.75 463.82,165.75 464.01,165.75 464.20,165.75 464.39,165.75 464.58,165.75 464.78,165.75 464.97,165.75 465.16,165.75 465.35,165.75 465.54,165.75 465.73,165.75 465.92,165.75 466.11,165.75 466.30,165.75 466.49,165.75 466.68,165.75 466.88,165.75 467.07,165.75 467.26,165.75 467.45,165.75 467.64,165.75 467.83,165.75 468.02,165.75 468.21,165.75 468.40,165.75 468.59,165.75 468.78,165.75 468.97,165.75 469.17,165.75 469.36,165.75 469.55,165.75 469.74,165.75 469.93,165.75 470.12,165.75 470.31,165.75 470.50,165.75 470.69,165.75 470.88,165.75 471.07,165.75 471.26,165.75 471.45,165.75 471.65,165.75 471.84,165.75 472.03,165.75 472.22,165.75 472.41,165.75 472.60,165.75 472.79,165.75 472.98,165.75 473.17,165.75 473.36,165.75 473.55,165.75 473.75,165.75 473.94,165.75 474.13,165.75 474.32,165.75 474.51,165.75 474.70,165.75 474.89,165.75 475.08,165.75 475.27,165.75 475.46,165.75 475.65,165.75 475.84,165.75 476.04,165.75 476.23,165.75 476.42,165.75 476.61,165.75 476.80,165.75 476.99,165.75 477.18,165.75 477.37,165.75 477.56,165.75 477.75,165.75 477.94,165.75 478.13,165.75 478.32,165.75 478.52,165.75 478.71,165.75 478.90,165.75 479.09,165.75 479.28,165.75 479.47,165.75 479.66,165.75 479.85,165.75 480.04,165.75 480.23,165.75 480.42,165.75 480.62,165.75 480.81,165.75 481.00,165.75 481.19,165.75 481.38,165.75 481.57,165.75 481.76,165.75 481.95,165.75 482.14,165.75 482.33,165.75 482.52,165.75 482.71,165.75 482.91,165.75 483.10,165.75 483.29,165.75 483.48,165.75 483.67,165.75 483.86,165.75 484.05,165.75 484.24,165.75 484.43,165.75 484.62,165.75 484.81,165.75 485.00,165.75 485.19,165.75 485.39,165.75 485.58,165.75 485.77,165.75 485.96,165.75 486.15,165.75 486.34,165.75 486.53,165.75 486.72,165.75 486.91,165.75 487.10,165.75 487.29,165.75 487.49,165.75 487.68,165.75 487.87,165.75 488.06,165.75 488.25,165.75 488.44,165.75 488.63,165.75 488.82,165.75 489.01,165.75 489.20,165.75 489.39,165.75 489.58,165.75 489.78,165.75 489.97,165.75 490.16,165.75 490.35,165.75 490.54,165.75 490.73,165.75 490.92,165.75 491.11,165.75 491.30,165.75 491.49,165.75 491.68,165.75 491.87,165.75 492.06,165.75 492.26,165.75 492.45,165.75 492.64,165.75 492.83,165.75 493.02,165.75 493.21,165.75 493.40,165.75 493.59,165.75 493.78,165.75 493.97,165.75 494.16,165.75 494.36,165.75 494.55,165.75 494.74,165.75 494.93,165.75 495.12,165.75 495.31,165.75 495.50,165.75 495.69,165.75 495.88,165.75 496.07,165.75 496.26,165.75 496.45,165.75 496.65,165.75 496.84,165.75 497.03,165.75 497.22,165.75 497.41,165.75 497.60,165.75 497.79,165.75 497.98,165.75 498.17,165.75 498.36,165.75 498.55,165.75 498.74,165.75 498.94,165.75 499.13,165.75 499.32,165.75 499.51,165.75 499.70,165.75 499.89,165.75 500.08,165.75 500.27,165.75 500.46,165.75 500.65,165.75 500.84,165.75 501.03,165.75 501.22,165.75 501.42,165.75 501.61,165.75 501.80,165.75 501.99,165.75 502.18,165.75 502.37,165.75 502.56,165.75 502.75,165.75 502.94,165.75 503.13,165.75 503.32,165.75 503.52,165.75 503.71,165.75 503.90,165.75 504.09,165.75 504.28,165.75 504.47,165.75 504.66,165.75 504.85,165.75 505.04,165.75 505.23,165.75 505.42,165.75 505.61,165.75 505.81,165.75 506.00,165.75 506.19,165.75 506.38,165.75 506.57,165.75 506.76,165.75 506.95,165.75 507.14,165.75 507.33,165.75 507.52,165.75 507.71,165.75 507.90,165.75 508.09,165.75 508.29,165.75 508.48,165.75 508.67,165.75 508.86,165.75 509.05,165.75 509.24,165.75 509.43,165.75 509.62,165.75 509.81,165.75 510.00,165.75 510.19,165.75 510.39,165.75 510.58,165.75 510.77,165.75 510.96,165.75 511.15,165.75 511.34,165.75 511.53,165.75 511.72,165.75 511.91,165.75 512.10,165.75 512.29,165.75 512.48,165.75 512.67,165.75 512.87,165.75 513.06,165.75 513.25,165.75 513.44,165.75 513.63,165.75 513.82,165.75 514.01,165.75 514.20,165.75 514.39,165.75 514.58,165.75 514.77,165.75 514.96,165.75 515.16,165.75 515.35,165.75 515.54,165.75 515.73,165.75 515.92,165.75 516.11,165.75 516.30,165.75 516.49,165.75 516.68,165.75 516.87,165.75 517.06,165.75 517.25,165.75 517.45,165.75 517.64,165.75 517.83,165.75 518.02,165.75 518.21,165.75 518.40,165.75 518.59,165.75 518.78,165.75 518.97,165.75 519.16,165.75 519.35,165.75 519.54,165.75 519.74,165.75 519.93,165.75 520.12,165.75 520.31,165.75 520.50,165.75 520.69,165.75 520.88,165.75 521.07,165.75 521.26,165.75 521.45,165.75 521.64,165.75 521.83,165.75 522.03,165.75 522.22,165.75 522.41,165.75 522.60,165.75 522.79,165.75 522.98,165.75 523.17,165.75 523.36,165.75 523.55,165.75 523.74,165.75 523.93,165.75 524.12,165.75 524.32,165.75 524.51,165.75 524.70,165.75 524.89,165.75 525.08,165.75 525.27,165.75 525.46,165.75 525.65,165.75 525.84,165.75 526.03,165.75 526.22,165.75 526.41,165.75 526.61,165.75 526.80,165.75 526.99,165.75 527.18,165.75 527.37,165.75 527.56,165.75 527.75,165.75 527.94,165.75 528.13,165.75 528.32,165.75 528.51,165.75 528.70,165.75 528.90,165.75 529.09,165.75 529.28,165.75 529.47,165.75 529.66,165.75 529.85,165.75 530.04,165.75 530.23,165.75 530.42,165.75 530.61,165.75 530.80,165.75 530.99,165.75 531.19,165.75 531.38,165.75 531.57,165.75 531.76,165.75 531.95,165.75 532.14,165.75 532.33,165.75 532.52,165.75 532.71,165.75 532.90,165.75 533.09,165.75 533.28,165.75 533.48,165.75 533.67,165.75 533.86,165.75 534.05,165.75 534.24,165.75 534.43,165.75 534.62,165.75 534.81,165.75 535.00,165.75 535.19,165.75 535.38,165.75 535.57,165.75 535.77,165.75 535.96,165.75 536.15,165.75 536.34,165.75 536.53,165.75 536.72,165.75 536.91,165.75 537.10,165.75 537.29,165.75 537.48,165.75 537.67,165.75 537.87,165.75 538.06,165.75 538.25,165.75 538.44,165.75 538.63,165.75 538.82,165.75 539.01,165.75 539.20,165.75 539.39,165.75 539.58,165.75 539.77,165.75 539.96,165.75 540.15,165.75 540.35,165.75 540.54,165.75 540.73,165.75 540.92,165.75 541.11,165.75 541.30,165.75" fill="none" stroke="#fbb414" stroke-width="2.0" stroke-linejoin="round"/><path d="M311.5,5.1 V175.7 H540.5" fill="none" stroke="#6a6a6a" stroke-width="1.15"/><path d="M311.50,175.7 v-2 M368.75,175.7 v-2 M426.00,175.7 v-2 M483.25,175.7 v-2 M540.50,175.7 v-2 M311.5,5.10 h2 M311.5,33.53 h2 M311.5,61.97 h2 M311.5,90.40 h2 M311.5,118.83 h2 M311.5,147.27 h2 M311.5,175.70 h2" stroke="#6a6a6a" stroke-width="1" fill="none"/><text x="311.50" y="188.20" text-anchor="middle" font-family="'Liberation Sans', Arial, Helvetica, sans-serif" font-size="8.5" fill="#141414">0</text><text x="368.75" y="188.20" text-anchor="middle" font-family="'Liberation Sans', Arial, Helvetica, sans-serif" font-size="8.5" fill="#141414">50</text><text x="426.00" y="188.20" text-anchor="middle" font-family="'Liberation Sans', Arial, Helvetica, sans-serif" font-size="8.5" fill="#141414">100</text><text x="483.25" y="188.20" text-anchor="middle" font-family="'Liberation Sans', Arial, Helvetica, sans-serif" font-size="8.5" fill="#141414">150</text><text x="540.50" y="188.20" text-anchor="middle" font-family="'Liberation Sans', Arial, Helvetica, sans-serif" font-size="8.5" fill="#141414">200</text><text x="307.70" y="8.15" text-anchor="end" font-family="'Liberation Sans', Arial, Helvetica, sans-serif" font-size="8.5" fill="#141414">4</text><text x="307.70" y="36.58" text-anchor="end" font-family="'Liberation Sans', Arial, Helvetica, sans-serif" font-size="8.5" fill="#141414">3</text><text x="307.70" y="65.02" text-anchor="end" font-family="'Liberation Sans', Arial, Helvetica, sans-serif" font-size="8.5" fill="#141414">2</text><text x="307.70" y="93.45" text-anchor="end" font-family="'Liberation Sans', Arial, Helvetica, sans-serif" font-size="8.5" fill="#141414">1</text><text x="307.70" y="121.88" text-anchor="end" font-family="'Liberation Sans', Arial, Helvetica, sans-serif" font-size="8.5" fill="#141414">0</text><text x="307.70" y="150.32" text-anchor="end" font-family="'Liberation Sans', Arial, Helvetica, sans-serif" font-size="8.5" fill="#141414">&#8722;<tspan dx="1.6">1</tspan></text><text x="307.70" y="178.75" text-anchor="end" font-family="'Liberation Sans', Arial, Helvetica, sans-serif" font-size="8.5" fill="#141414">&#8722;<tspan dx="1.6">2</tspan></text><text x="426.00" y="200.30" text-anchor="middle" font-family="'Liberation Serif', 'Times New Roman', Times, serif" font-size="10" fill="#262626">X/m</text><text transform="translate(291.7,90.5) rotate(-90)" x="0" y="0" text-anchor="middle" font-family="'Liberation Serif', 'Times New Roman', Times, serif" font-size="10" fill="#262626">Y/m</text><text x="411.1" y="214.30" text-anchor="middle" font-family="'Liberation Serif', 'Times New Roman', Times, serif" font-size="12" fill="#000">(<tspan font-weight="bold">b</tspan>)</text><line x1="431.5" y1="10.7" x2="456.9" y2="10.7" stroke="#0000ff" stroke-width="2" stroke-dasharray="5.2 4.8"/><text x="459.4" y="14.20" font-family="'Liberation Serif', 'Times New Roman', Times, serif" font-size="10" fill="#1a1a1a">Expected trajectory</text><line x1="431.5" y1="22.4" x2="456.9" y2="22.4" stroke="#ff0000" stroke-width="2"/><text x="459.4" y="25.90" font-family="'Liberation Serif', 'Times New Roman', Times, serif" font-size="10" fill="#1a1a1a">Ordinary MPC</text><line x1="431.5" y1="34.0" x2="456.9" y2="34.0" stroke="#fbb414" stroke-width="2"/><text x="459.4" y="37.50" font-family="'Liberation Serif', 'Times New Roman', Times, serif" font-size="10" fill="#1a1a1a">The improved MPC</text></g>
<g><polyline points="30.50,340.17 30.69,340.17 30.88,340.17 31.08,340.17 31.27,340.16 31.46,340.16 31.65,340.16 31.84,340.16 32.03,340.16 32.23,340.16 32.42,340.15 32.61,340.15 32.80,340.15 32.99,340.15 33.18,340.15 33.38,340.14 33.57,340.14 33.76,340.14 33.95,340.14 34.14,340.13 34.34,340.13 34.53,340.13 34.72,340.13 34.91,340.12 35.10,340.12 35.29,340.12 35.49,340.12 35.68,340.11 35.87,340.11 36.06,340.11 36.25,340.10 36.44,340.10 36.64,340.09 36.83,340.09 37.02,340.09 37.21,340.08 37.40,340.08 37.59,340.07 37.79,340.07 37.98,340.07 38.17,340.06 38.36,340.06 38.55,340.05 38.75,340.05 38.94,340.04 39.13,340.03 39.32,340.03 39.51,340.02 39.70,340.02 39.90,340.01 40.09,340.00 40.28,340.00 40.47,339.99 40.66,339.98 40.85,339.97 41.05,339.97 41.24,339.96 41.43,339.95 41.62,339.94 41.81,339.93 42.01,339.92 42.20,339.92 42.39,339.91 42.58,339.90 42.77,339.89 42.96,339.87 43.16,339.86 43.35,339.85 43.54,339.84 43.73,339.83 43.92,339.82 44.11,339.80 44.31,339.79 44.50,339.78 44.69,339.76 44.88,339.75 45.07,339.73 45.26,339.72 45.46,339.70 45.65,339.69 45.84,339.67 46.03,339.65 46.22,339.63 46.42,339.61 46.61,339.59 46.80,339.57 46.99,339.55 47.18,339.53 47.37,339.51 47.57,339.49 47.76,339.46 47.95,339.44 48.14,339.42 48.33,339.39 48.52,339.36 48.72,339.34 48.91,339.31 49.10,339.28 49.29,339.25 49.48,339.22 49.67,339.19 49.87,339.15 50.06,339.12 50.25,339.08 50.44,339.05 50.63,339.01 50.83,338.97 51.02,338.93 51.21,338.89 51.40,338.85 51.59,338.81 51.78,338.76 51.98,338.71 52.17,338.67 52.36,338.62 52.55,338.57 52.74,338.51 52.93,338.46 53.13,338.40 53.32,338.35 53.51,338.29 53.70,338.23 53.89,338.16 54.09,338.10 54.28,338.03 54.47,337.96 54.66,337.89 54.85,337.82 55.04,337.74 55.24,337.66 55.43,337.58 55.62,337.50 55.81,337.41 56.00,337.33 56.19,337.24 56.39,337.14 56.58,337.05 56.77,336.95 56.96,336.85 57.15,336.74 57.34,336.63 57.54,336.52 57.73,336.41 57.92,336.29 58.11,336.17 58.30,336.04 58.50,335.91 58.69,335.78 58.88,335.64 59.07,335.50 59.26,335.36 59.45,335.21 59.65,335.06 59.84,334.90 60.03,334.74 60.22,334.57 60.41,334.40 60.60,334.23 60.80,334.05 60.99,333.86 61.18,333.67 61.37,333.47 61.56,333.27 61.76,333.06 61.95,332.85 62.14,332.63 62.33,332.41 62.52,332.18 62.71,331.94 62.91,331.70 63.10,331.45 63.29,331.20 63.48,330.94 63.67,330.67 63.86,330.39 64.06,330.11 64.25,329.82 64.44,329.53 64.63,329.22 64.82,328.91 65.02,328.60 65.21,328.27 65.40,327.94 65.59,327.60 65.78,327.25 65.97,326.89 66.17,326.53 66.36,326.16 66.55,325.78 66.74,325.39 66.93,324.99 67.12,324.59 67.32,324.18 67.51,323.75 67.70,323.32 67.89,322.89 68.08,322.44 68.27,321.99 68.47,321.52 68.66,321.05 68.85,320.57 69.04,320.08 69.23,319.58 69.43,319.08 69.62,318.56 69.81,318.04 70.00,317.51 70.19,316.97 70.38,316.43 70.58,315.88 70.77,315.31 70.96,314.75 71.15,314.17 71.34,313.59 71.53,312.99 71.73,312.40 71.92,311.79 72.11,311.18 72.30,310.57 72.49,309.94 72.69,309.31 72.88,308.68 73.07,308.04 73.26,307.39 73.45,306.75 73.64,306.09 73.84,305.43 74.03,304.77 74.22,304.11 74.41,303.44 74.60,302.77 74.79,302.09 74.99,301.41 75.18,300.74 75.37,300.06 75.56,299.38 75.75,298.69 75.94,298.01 76.14,297.33 76.33,296.65 76.52,295.97 76.71,295.29 76.90,294.61 77.10,293.93 77.29,293.26 77.48,292.59 77.67,291.92 77.86,291.25 78.05,290.59 78.25,289.93 78.44,289.27 78.63,288.63 78.82,287.98 79.01,287.34 79.20,286.71 79.40,286.08 79.59,285.46 79.78,284.84 79.97,284.23 80.16,283.63 80.35,283.03 80.55,282.45 80.74,281.87 80.93,281.29 81.12,280.73 81.31,280.17 81.51,279.63 81.70,279.09 81.89,278.56 82.08,278.04 82.27,277.53 82.46,277.02 82.66,276.53 82.85,276.05 83.04,275.57 83.23,275.11 83.42,274.66 83.61,274.21 83.81,273.78 84.00,273.35 84.19,272.94 84.38,272.53 84.57,272.14 84.77,271.76 84.96,271.38 85.15,271.02 85.34,270.67 85.53,270.33 85.72,269.99 85.92,269.67 86.11,269.36 86.30,269.06 86.49,268.77 86.68,268.49 86.87,268.22 87.07,267.96 87.26,267.72 87.45,267.48 87.64,267.25 87.83,267.03 88.03,266.83 88.22,266.63 88.41,266.44 88.60,266.27 88.79,266.10 88.98,265.95 89.18,265.81 89.37,265.67 89.56,265.55 89.75,265.44 89.94,265.33 90.13,265.24 90.33,265.16 90.52,265.09 90.71,265.03 90.90,264.98 91.09,264.94 91.28,264.92 91.48,264.90 91.67,264.89 91.86,264.90 92.05,264.92 92.24,264.94 92.44,264.98 92.63,265.03 92.82,265.09 93.01,265.17 93.20,265.25 93.39,265.35 93.59,265.45 93.78,265.57 93.97,265.70 94.16,265.85 94.35,266.00 94.54,266.17 94.74,266.35 94.93,266.55 95.12,266.75 95.31,266.97 95.50,267.21 95.70,267.45 95.89,267.71 96.08,267.99 96.27,268.27 96.46,268.58 96.65,268.89 96.85,269.22 97.04,269.57 97.23,269.93 97.42,270.30 97.61,270.69 97.80,271.10 98.00,271.52 98.19,271.95 98.38,272.40 98.57,272.87 98.76,273.36 98.95,273.86 99.15,274.37 99.34,274.91 99.53,275.45 99.72,276.02 99.91,276.60 100.11,277.20 100.30,277.82 100.49,278.46 100.68,279.11 100.87,279.77 101.06,280.46 101.26,281.16 101.45,281.88 101.64,282.62 101.83,283.37 102.02,284.14 102.21,284.93 102.41,285.73 102.60,286.55 102.79,287.39 102.98,288.24 103.17,289.11 103.37,290.00 103.56,290.90 103.75,291.81 103.94,292.74 104.13,293.69 104.32,294.65 104.52,295.62 104.71,296.60 104.90,297.60 105.09,298.61 105.28,299.63 105.47,300.67 105.67,301.71 105.86,302.76 106.05,303.83 106.24,304.90 106.43,305.98 106.62,307.07 106.82,308.16 107.01,309.26 107.20,310.37 107.39,311.48 107.58,312.59 107.78,313.71 107.97,314.83 108.16,315.96 108.35,317.08 108.54,318.21 108.73,319.33 108.93,320.45 109.12,321.57 109.31,322.69 109.50,323.81 109.69,324.92 109.88,326.02 110.08,327.12 110.27,328.22 110.46,329.31 110.65,330.39 110.84,331.46 111.03,332.52 111.23,333.58 111.42,334.62 111.61,335.65 111.80,336.68 111.99,337.69 112.19,338.69 112.38,339.67 112.57,340.65 112.76,341.61 112.95,342.55 113.14,343.48 113.34,344.40 113.53,345.30 113.72,346.19 113.91,347.06 114.10,347.92 114.29,348.76 114.49,349.59 114.68,350.40 114.87,351.19 115.06,351.97 115.25,352.73 115.45,353.47 115.64,354.20 115.83,354.91 116.02,355.60 116.21,356.28 116.40,356.93 116.60,357.58 116.79,358.20 116.98,358.81 117.17,359.41 117.36,359.99 117.55,360.55 117.75,361.09 117.94,361.62 118.13,362.14 118.32,362.64 118.51,363.12 118.70,363.59 118.90,364.04 119.09,364.48 119.28,364.91 119.47,365.32 119.66,365.72 119.86,366.11 120.05,366.48 120.24,366.84 120.43,367.18 120.62,367.52 120.81,367.84 121.01,368.15 121.20,368.45 121.39,368.74 121.58,369.02 121.77,369.29 121.96,369.54 122.16,369.79 122.35,370.03 122.54,370.26 122.73,370.48 122.92,370.69 123.12,370.89 123.31,371.09 123.50,371.28 123.69,371.46 123.88,371.63 124.07,371.79 124.27,371.95 124.46,372.10 124.65,372.25 124.84,372.39 125.03,372.52 125.22,372.65 125.42,372.78 125.61,372.89 125.80,373.01 125.99,373.12 126.18,373.22 126.38,373.32 126.57,373.41 126.76,373.50 126.95,373.59 127.14,373.67 127.33,373.75 127.53,373.83 127.72,373.90 127.91,373.97 128.10,374.04 128.29,374.10 128.48,374.16 128.68,374.22 128.87,374.28 129.06,374.33 129.25,374.38 129.44,374.43 129.63,374.48 129.83,374.52 130.02,374.56 130.21,374.60 130.40,374.64 130.59,374.68 130.79,374.71 130.98,374.75 131.17,374.78 131.36,374.81 131.55,374.84 131.74,374.87 131.94,374.90 132.13,374.92 132.32,374.95 132.51,374.97 132.70,374.99 132.89,375.01 133.09,375.03 133.28,375.05 133.47,375.07 133.66,375.09 133.85,375.11 134.05,375.12 134.24,375.14 134.43,375.15 134.62,375.17 134.81,375.18 135.00,375.19 135.20,375.20 135.39,375.22 135.58,375.23 135.77,375.24 135.96,375.25 136.15,375.26 136.35,375.27 136.54,375.28 136.73,375.28 136.92,375.29 137.11,375.30 137.30,375.31 137.50,375.31 137.69,375.32 137.88,375.33 138.07,375.33 138.26,375.34 138.46,375.34 138.65,375.35 138.84,375.35 139.03,375.36 139.22,375.36 139.41,375.37 139.61,375.37 139.80,375.38 139.99,375.38 140.18,375.38 140.37,375.39 140.56,375.39 140.76,375.39 140.95,375.40 141.14,375.40 141.33,375.40 141.52,375.41 141.72,375.41 141.91,375.41 142.10,375.41 142.29,375.41 142.48,375.42 142.67,375.42 142.87,375.42 143.06,375.42 143.25,375.42 143.44,375.43 143.63,375.43 143.82,375.43 144.02,375.43 144.21,375.43 144.40,375.43 144.59,375.43 144.78,375.44 144.97,375.44 145.17,375.44 145.36,375.44 145.55,375.44 145.74,375.44 145.93,375.44 146.13,375.44 146.32,375.44 146.51,375.44 146.70,375.44 146.89,375.45 147.08,375.45 147.28,375.45 147.47,375.45 147.66,375.45 147.85,375.45 148.04,375.45 148.23,375.45 148.43,375.45 148.62,375.45 148.81,375.45 149.00,375.45 149.19,375.45 149.38,375.45 149.58,375.45 149.77,375.45 149.96,375.45 150.15,375.45 150.34,375.45 150.54,375.45 150.73,375.45 150.92,375.46 151.11,375.46 151.30,375.46 151.49,375.46 151.69,375.46 151.88,375.46" fill="none" stroke="#0000ff" stroke-width="1.8" stroke-linejoin="round" stroke-dasharray="5.2 4.8"/><polyline points="30.50,340.20 30.81,340.21 31.12,340.22 31.44,340.23 31.75,340.25 32.07,340.26 32.39,340.27 32.71,340.27 33.03,340.28 33.36,340.29 33.68,340.29 34.01,340.30 34.34,340.30 34.67,340.30 35.00,340.31 35.33,340.31 35.66,340.31 35.99,340.30 36.33,340.30 36.66,340.30 37.00,340.29 37.33,340.28 37.67,340.27 38.01,340.26 38.35,340.25 38.69,340.24 39.03,340.23 39.37,340.21 39.71,340.19 40.05,340.17 40.39,340.15 40.73,340.13 41.08,340.10 41.42,340.08 41.76,340.05 42.10,340.02 42.45,339.99 42.79,339.96 43.13,339.92 43.47,339.88 43.81,339.84 44.15,339.80 44.49,339.76 44.83,339.71 45.17,339.66 45.51,339.61 45.85,339.56 46.19,339.51 46.53,339.45 46.87,339.39 47.20,339.33 47.54,339.27 47.87,339.20 48.20,339.13 48.54,339.06 48.87,338.99 49.20,338.91 49.53,338.83 49.85,338.75 50.18,338.67 50.50,338.58 50.83,338.49 51.15,338.40 51.47,338.30 51.79,338.20 52.11,338.10 52.42,338.00 52.73,337.89 53.05,337.78 53.36,337.67 53.66,337.55 53.97,337.43 54.27,337.31 54.58,337.18 54.88,337.05 55.17,336.92 55.47,336.79 55.76,336.65 56.05,336.51 56.34,336.36 56.63,336.21 56.91,336.06 57.19,335.91 57.47,335.75 57.75,335.58 58.02,335.42 58.29,335.25 58.56,335.07 58.82,334.90 59.08,334.72 59.34,334.53 59.59,334.34 59.85,334.15 60.10,333.95 60.34,333.75 60.58,333.55 60.82,333.34 61.06,333.13 61.29,332.91 61.52,332.69 61.74,332.47 61.96,332.24 62.18,332.01 62.40,331.77 62.61,331.53 62.81,331.28 63.02,331.03 63.22,330.78 63.41,330.52 63.61,330.26 63.79,330.00 63.98,329.73 64.17,329.46 64.35,329.19 64.52,328.91 64.70,328.63 64.87,328.35 65.04,328.06 65.21,327.78 65.37,327.49 65.53,327.19 65.69,326.90 65.85,326.60 66.01,326.30 66.16,326.00 66.31,325.69 66.46,325.39 66.61,325.08 66.75,324.77 66.90,324.46 67.04,324.15 67.18,323.83 67.32,323.52 67.45,323.20 67.59,322.89 67.73,322.57 67.86,322.25 67.99,321.93 68.12,321.61 68.25,321.29 68.38,320.97 68.51,320.65 68.64,320.33 68.77,320.00 68.89,319.68 69.02,319.36 69.14,319.04 69.27,318.72 69.39,318.40 69.52,318.08 69.64,317.76 69.77,317.44 69.89,317.12 70.02,316.80 70.14,316.49 70.27,316.17 70.39,315.86 70.52,315.54 70.64,315.23 70.77,314.92 70.89,314.61 71.02,314.30 71.15,313.99 71.27,313.68 71.40,313.37 71.52,313.06 71.65,312.76 71.78,312.45 71.90,312.15 72.03,311.84 72.15,311.54 72.28,311.23 72.40,310.93 72.53,310.63 72.65,310.32 72.78,310.02 72.90,309.72 73.03,309.41 73.15,309.11 73.28,308.81 73.40,308.51 73.53,308.21 73.65,307.91 73.77,307.60 73.90,307.30 74.02,307.00 74.14,306.70 74.26,306.40 74.38,306.09 74.51,305.79 74.63,305.49 74.75,305.19 74.87,304.88 74.99,304.58 75.11,304.28 75.23,303.97 75.35,303.67 75.46,303.36 75.58,303.06 75.70,302.75 75.82,302.45 75.93,302.14 76.05,301.83 76.16,301.52 76.28,301.21 76.39,300.90 76.50,300.59 76.62,300.28 76.73,299.97 76.84,299.66 76.95,299.34 77.06,299.03 77.18,298.72 77.29,298.40 77.40,298.09 77.51,297.77 77.62,297.45 77.72,297.14 77.83,296.82 77.94,296.50 78.05,296.19 78.16,295.87 78.27,295.55 78.38,295.23 78.49,294.91 78.60,294.60 78.71,294.28 78.82,293.96 78.93,293.64 79.04,293.32 79.15,293.00 79.26,292.68 79.37,292.36 79.48,292.04 79.59,291.73 79.70,291.41 79.81,291.09 79.92,290.77 80.04,290.45 80.15,290.13 80.27,289.82 80.38,289.50 80.50,289.18 80.61,288.87 80.73,288.55 80.85,288.23 80.96,287.92 81.08,287.60 81.20,287.29 81.32,286.97 81.44,286.66 81.57,286.35 81.69,286.03 81.82,285.72 81.94,285.41 82.07,285.10 82.19,284.79 82.32,284.48 82.45,284.17 82.59,283.87 82.72,283.56 82.86,283.26 83.00,282.96 83.15,282.67 83.30,282.38 83.45,282.09 83.61,281.80 83.77,281.52 83.94,281.25 84.11,280.97 84.29,280.71 84.47,280.45 84.67,280.19 84.86,279.95 85.07,279.70 85.28,279.47 85.51,279.24 85.74,279.02 85.97,278.81 86.22,278.60 86.48,278.41 86.74,278.22 87.02,278.04 87.31,277.87 87.60,277.71 87.91,277.57 88.22,277.43 88.54,277.30 88.87,277.18 89.20,277.07 89.53,276.98 89.87,276.89 90.21,276.82 90.56,276.75 90.90,276.70 91.25,276.66 91.60,276.64 91.94,276.62 92.28,276.62 92.62,276.63 92.95,276.66 93.29,276.69 93.61,276.74 93.93,276.81 94.24,276.89 94.54,276.98 94.84,277.09 95.12,277.21 95.40,277.34 95.67,277.49 95.92,277.65 96.17,277.83 96.41,278.01 96.65,278.21 96.87,278.42 97.09,278.64 97.29,278.87 97.50,279.11 97.69,279.35 97.88,279.61 98.06,279.87 98.23,280.14 98.40,280.42 98.56,280.70 98.72,280.99 98.87,281.28 99.02,281.58 99.16,281.89 99.29,282.19 99.42,282.50 99.55,282.82 99.67,283.13 99.79,283.45 99.91,283.76 100.02,284.08 100.13,284.40 100.23,284.72 100.33,285.04 100.43,285.36 100.53,285.68 100.63,286.00 100.72,286.32 100.81,286.64 100.90,286.97 100.99,287.29 101.08,287.61 101.16,287.93 101.25,288.25 101.33,288.57 101.42,288.90 101.50,289.22 101.58,289.54 101.67,289.86 101.75,290.18 101.84,290.51 101.92,290.83 102.01,291.15 102.10,291.47 102.19,291.79 102.28,292.11 102.37,292.43 102.46,292.75 102.56,293.07 102.65,293.38 102.75,293.70 102.85,294.02 102.94,294.34 103.04,294.66 103.14,294.97 103.25,295.29 103.35,295.61 103.45,295.92 103.55,296.24 103.66,296.56 103.76,296.87 103.87,297.19 103.97,297.50 104.08,297.82 104.19,298.14 104.30,298.45 104.40,298.77 104.51,299.08 104.62,299.40 104.73,299.71 104.84,300.03 104.95,300.34 105.05,300.66 105.16,300.97 105.27,301.29 105.38,301.60 105.49,301.92 105.60,302.24 105.71,302.55 105.81,302.87 105.92,303.18 106.03,303.50 106.14,303.81 106.24,304.13 106.35,304.45 106.45,304.76 106.56,305.08 106.66,305.40 106.77,305.71 106.87,306.03 106.97,306.35 107.07,306.66 107.17,306.98 107.27,307.30 107.37,307.62 107.47,307.94 107.56,308.26 107.66,308.58 107.75,308.90 107.85,309.21 107.94,309.53 108.03,309.86 108.12,310.18 108.21,310.50 108.30,310.82 108.39,311.14 108.48,311.46 108.56,311.78 108.65,312.10 108.73,312.43 108.82,312.75 108.90,313.07 108.99,313.39 109.07,313.72 109.15,314.04 109.23,314.36 109.31,314.69 109.39,315.01 109.47,315.34 109.55,315.66 109.62,315.98 109.70,316.31 109.78,316.63 109.85,316.96 109.93,317.28 110.00,317.61 110.08,317.93 110.15,318.26 110.22,318.58 110.30,318.91 110.37,319.23 110.44,319.56 110.51,319.89 110.59,320.21 110.66,320.54 110.73,320.86 110.80,321.19 110.87,321.52 110.94,321.84 111.01,322.17 111.08,322.50 111.15,322.82 111.21,323.15 111.28,323.48 111.35,323.80 111.42,324.13 111.49,324.46 111.56,324.78 111.62,325.11 111.69,325.44 111.76,325.76 111.83,326.09 111.89,326.42 111.96,326.74 112.03,327.07 112.10,327.40 112.16,327.72 112.23,328.05 112.30,328.38 112.37,328.70 112.43,329.03 112.50,329.36 112.57,329.68 112.64,330.01 112.71,330.34 112.78,330.66 112.84,330.99 112.91,331.32 112.98,331.64 113.05,331.97 113.12,332.30 113.19,332.62 113.26,332.95 113.33,333.27 113.40,333.60 113.47,333.92 113.55,334.25 113.62,334.58 113.69,334.90 113.76,335.23 113.84,335.55 113.91,335.88 113.98,336.20 114.06,336.52 114.13,336.85 114.21,337.17 114.28,337.50 114.36,337.82 114.44,338.14 114.52,338.47 114.59,338.79 114.67,339.11 114.75,339.44 114.83,339.76 114.91,340.08 115.00,340.40 115.08,340.73 115.16,341.05 115.25,341.37 115.33,341.69 115.41,342.01 115.50,342.33 115.59,342.65 115.67,342.97 115.76,343.30 115.85,343.62 115.94,343.94 116.03,344.26 116.12,344.58 116.21,344.90 116.30,345.22 116.39,345.53 116.48,345.85 116.57,346.17 116.66,346.49 116.75,346.81 116.85,347.13 116.94,347.45 117.03,347.77 117.13,348.09 117.22,348.41 117.31,348.73 117.41,349.05 117.50,349.37 117.59,349.69 117.69,350.00 117.78,350.32 117.88,350.64 117.97,350.96 118.07,351.28 118.16,351.60 118.26,351.92 118.35,352.24 118.45,352.56 118.54,352.88 118.63,353.20 118.73,353.52 118.82,353.84 118.92,354.16 119.01,354.48 119.10,354.80 119.20,355.12 119.29,355.45 119.38,355.77 119.47,356.09 119.57,356.41 119.66,356.73 119.75,357.05 119.84,357.38 119.93,357.70 120.02,358.02 120.11,358.35 120.20,358.67 120.29,358.99 120.39,359.31 120.48,359.64 120.57,359.96 120.66,360.28 120.76,360.60 120.85,360.92 120.94,361.25 121.04,361.57 121.14,361.89 121.24,362.21 121.34,362.52 121.44,362.84 121.54,363.16 121.65,363.48 121.75,363.79 121.86,364.11 121.97,364.42 122.09,364.73 122.20,365.05 122.32,365.36 122.44,365.67 122.56,365.97 122.69,366.28 122.82,366.59 122.95,366.89 123.08,367.19 123.22,367.50 123.36,367.80 123.51,368.09 123.66,368.39 123.81,368.68 123.96,368.98 124.12,369.27 124.29,369.56 124.45,369.84 124.62,370.13 124.80,370.41 124.98,370.69 125.17,370.97 125.35,371.25 125.55,371.52 125.75,371.80 125.95,372.06 126.16,372.33 126.38,372.60 126.60,372.86 126.82,373.12 127.05,373.37 127.28,373.62 127.52,373.87 127.77,374.11 128.01,374.34 128.26,374.56 128.52,374.78 128.77,374.99 129.04,375.19 129.30,375.38 129.57,375.55 129.83,375.72 130.11,375.87 130.38,376.02 130.65,376.14 130.93,376.26 131.21,376.36 131.49,376.44 131.77,376.51 132.05,376.56 132.33,376.59 132.61,376.61 132.89,376.60 133.17,376.58 133.45,376.53 133.73,376.47 134.01,376.38 134.29,376.28 134.57,376.16 134.84,376.02 135.12,375.86 135.39,375.69 135.66,375.51 135.93,375.31 136.20,375.10 136.46,374.88 136.72,374.65 136.98,374.41 137.23,374.16 137.48,373.90 137.73,373.64 137.97,373.37 138.21,373.10 138.45,372.82 138.68,372.54 138.91,372.26 139.13,371.98 139.35,371.70 139.56,371.42 139.77,371.14 139.97,370.87 140.16,370.60 140.36,370.32 140.55,370.05 140.73,369.79 140.91,369.52 141.09,369.25 141.27,368.99 141.44,368.72 141.61,368.45 141.78,368.19 141.95,367.92 142.12,367.65 142.28,367.39 142.45,367.12 142.61,366.85 142.78,366.58 142.95,366.30 143.12,366.03 143.28,365.75 143.45,365.47 143.63,365.19 143.80,364.90 143.98,364.61 144.16,364.32 144.34,364.03 144.53,363.73 144.72,363.43 144.91,363.13 145.11,362.82 145.31,362.52 145.51,362.22 145.72,361.92 145.93,361.62 146.15,361.33 146.37,361.04 146.59,360.76 146.82,360.49 147.05,360.22 147.28,359.96 147.52,359.72 147.76,359.48 148.01,359.26 148.26,359.05 148.51,358.86 148.77,358.68 149.03,358.52 149.29,358.37 149.56,358.24 149.84,358.14 150.11,358.05 150.39,357.98 150.68,357.93 150.96,357.90 151.25,357.89 151.54,357.90 151.83,357.92 152.13,357.96 152.42,358.01 152.71,358.08 153.00,358.17 153.30,358.27 153.59,358.38 153.87,358.51 154.16,358.65 154.44,358.80 154.72,358.96 155.00,359.14 155.27,359.32 155.54,359.52 155.81,359.72 156.06,359.93 156.32,360.15 156.56,360.38 156.80,360.62 157.04,360.86 157.26,361.11 157.48,361.36 157.69,361.62 157.89,361.88 158.09,362.15 158.27,362.42 158.46,362.70 158.63,362.98 158.80,363.27 158.97,363.56 159.13,363.85 159.29,364.14 159.44,364.44 159.59,364.74 159.73,365.05 159.87,365.35 160.01,365.66 160.14,365.97 160.28,366.28 160.41,366.59 160.54,366.91 160.67,367.22 160.79,367.53 160.92,367.85 161.05,368.16 161.17,368.48 161.30,368.79 161.42,369.11 161.55,369.42 161.68,369.73 161.80,370.05 161.93,370.36 162.06,370.67 162.19,370.99 162.31,371.30 162.44,371.61 162.57,371.92 162.70,372.24 162.82,372.55 162.95,372.86 163.08,373.17 163.21,373.48 163.34,373.79 163.47,374.10 163.59,374.41 163.72,374.72 163.85,375.02 163.98,375.33 164.11,375.64 164.24,375.95 164.38,376.25 164.51,376.56 164.64,376.86 164.77,377.17 164.90,377.47 165.04,377.78 165.17,378.08 165.30,378.38 165.43,378.68 165.57,378.99 165.70,379.29 165.84,379.59 165.97,379.89 166.11,380.19 166.25,380.48 166.38,380.78 166.52,381.08 166.66,381.38 166.80,381.67 166.93,381.97 167.07,382.26 167.21,382.55 167.35,382.85 167.49,383.14 167.63,383.43 167.78,383.72 167.92,384.01 168.06,384.30 168.21,384.59 168.35,384.88 168.50,385.17 168.65,385.45 168.80,385.74 168.96,386.03 169.11,386.32 169.27,386.61 169.42,386.90 169.59,387.19 169.75,387.48 169.91,387.76 170.08,388.05 170.25,388.35 170.43,388.64 170.60,388.93 170.78,389.22 170.96,389.52 171.15,389.81 171.34,390.11 171.53,390.40 171.73,390.70 171.93,391.00 172.13,391.30 172.34,391.60 172.55,391.90 172.77,392.19 172.99,392.48 173.21,392.77 173.43,393.05 173.66,393.33 173.89,393.60 174.13,393.86 174.36,394.12 174.60,394.36 174.85,394.59 175.10,394.82 175.35,395.03 175.60,395.22 175.85,395.41 176.11,395.57 176.37,395.73 176.63,395.86 176.90,395.98 177.17,396.08 177.44,396.16 177.71,396.22 177.99,396.26 178.26,396.29 178.54,396.29 178.82,396.28 179.10,396.25 179.38,396.20 179.66,396.13 179.95,396.06 180.23,395.96 180.51,395.85 180.79,395.73 181.06,395.60 181.34,395.45 181.62,395.29 181.89,395.13 182.16,394.95 182.43,394.76 182.69,394.56 182.95,394.35 183.21,394.14 183.46,393.91 183.71,393.68 183.96,393.45 184.20,393.21 184.43,392.96 184.66,392.71 184.88,392.46 185.10,392.20 185.31,391.94 185.52,391.67 185.73,391.41 185.92,391.14 186.12,390.86 186.31,390.59 186.49,390.31 186.67,390.03 186.85,389.74 187.02,389.46 187.19,389.17 187.36,388.88 187.52,388.59 187.68,388.29 187.84,388.00 188.00,387.70 188.15,387.40 188.30,387.11 188.45,386.81 188.60,386.51 188.75,386.21 188.90,385.90 189.04,385.60 189.18,385.30 189.33,385.00 189.47,384.69 189.61,384.39 189.75,384.09 189.89,383.78 190.02,383.48 190.16,383.17 190.29,382.87 190.43,382.56 190.56,382.25 190.70,381.95 190.83,381.64 190.96,381.33 191.09,381.03 191.22,380.72 191.34,380.41 191.47,380.10 191.60,379.79 191.72,379.48 191.85,379.17 191.97,378.86 192.09,378.55 192.21,378.24 192.33,377.93 192.45,377.62 192.57,377.31 192.69,377.00 192.81,376.68 192.93,376.37 193.04,376.06 193.16,375.75 193.27,375.43 193.38,375.12 193.50,374.81 193.61,374.49 193.72,374.18 193.83,373.86 193.94,373.55 194.05,373.23 194.16,372.92 194.27,372.60 194.37,372.29 194.48,371.97 194.58,371.65 194.69,371.34 194.79,371.02 194.90,370.70 195.00,370.39 195.10,370.07 195.20,369.75 195.30,369.43 195.41,369.11 195.51,368.80 195.60,368.48 195.70,368.16 195.80,367.84 195.90,367.52 196.00,367.20 196.09,366.88 196.19,366.56 196.28,366.24 196.38,365.92 196.47,365.60 196.57,365.28 196.66,364.96 196.75,364.64 196.85,364.32 196.94,364.00 197.03,363.68 197.12,363.36 197.21,363.04 197.30,362.72 197.39,362.39 197.48,362.07 197.57,361.75 197.66,361.43 197.74,361.11 197.83,360.79 197.92,360.46 198.01,360.14 198.09,359.82 198.18,359.50 198.26,359.17 198.35,358.85 198.43,358.53 198.52,358.21 198.60,357.88 198.69,357.56 198.77,357.24 198.86,356.92 198.94,356.59 199.02,356.27 199.11,355.95 199.19,355.62 199.27,355.30 199.35,354.98 199.43,354.65 199.52,354.33 199.60,354.01 199.68,353.69 199.76,353.36 199.84,353.04 199.92,352.72 200.00,352.39 200.08,352.07 200.16,351.75 200.24,351.42 200.32,351.10 200.40,350.78 200.48,350.45 200.56,350.13 200.64,349.81 200.72,349.48 200.80,349.16 200.88,348.84 200.95,348.51 201.03,348.19 201.11,347.87 201.19,347.54 201.27,347.22 201.34,346.89 201.42,346.57 201.50,346.25 201.58,345.92 201.65,345.60 201.73,345.28 201.81,344.95 201.88,344.63 201.96,344.31 202.03,343.98 202.11,343.66 202.19,343.34 202.26,343.01 202.34,342.69 202.41,342.36 202.49,342.04 202.56,341.72 202.64,341.39 202.71,341.07 202.79,340.74 202.86,340.42 202.94,340.10 203.01,339.77 203.08,339.45 203.16,339.13 203.23,338.80 203.31,338.48 203.38,338.15 203.45,337.83 203.53,337.51 203.60,337.18 203.67,336.86 203.74,336.53 203.82,336.21 203.89,335.88 203.96,335.56 204.03,335.24 204.11,334.91 204.18,334.59 204.25,334.26 204.32,333.94 204.39,333.62 204.47,333.29 204.54,332.97 204.61,332.64 204.68,332.32 204.75,331.99 204.82,331.67 204.89,331.34 204.96,331.02 205.04,330.70 205.11,330.37 205.18,330.05 205.25,329.72 205.32,329.40 205.39,329.07 205.46,328.75 205.53,328.42 205.60,328.10 205.67,327.77 205.74,327.45 205.81,327.12 205.88,326.80 205.95,326.47 206.02,326.15 206.09,325.82 206.15,325.50 206.22,325.17 206.29,324.85 206.36,324.52 206.43,324.20 206.50,323.87 206.57,323.55 206.64,323.22 206.71,322.90 206.77,322.57 206.84,322.25 206.91,321.92 206.98,321.60 207.05,321.27 207.12,320.95 207.18,320.62 207.25,320.30 207.32,319.97 207.39,319.64 207.46,319.32 207.52,318.99 207.59,318.67 207.66,318.34 207.73,318.02 207.79,317.69 207.86,317.37 207.93,317.04 208.00,316.71 208.06,316.39 208.13,316.06 208.20,315.74 208.27,315.41 208.33,315.08 208.40,314.76 208.47,314.43 208.53,314.11 208.60,313.78 208.67,313.45 208.74,313.13 208.80,312.80 208.87,312.48 208.94,312.15 209.00,311.82 209.07,311.50 209.14,311.17 209.20,310.84 209.27,310.52 209.34,310.19 209.40,309.86 209.47,309.54 209.54,309.21 209.60,308.88 209.67,308.56 209.73,308.23 209.80,307.90 209.87,307.58 209.93,307.25 210.00,306.92 210.07,306.60 210.13,306.27 210.20,305.94 210.27,305.62 210.33,305.29 210.40,304.96 210.46,304.63 210.53,304.31 210.60,303.98 210.66,303.65 210.73,303.32 210.80,303.00 210.86,302.67 210.93,302.34 210.99,302.01 211.06,301.69 211.13,301.36 211.19,301.03 211.26,300.70 211.33,300.38 211.39,300.05 211.46,299.72 211.52,299.39 211.59,299.07 211.66,298.74 211.72,298.41 211.79,298.08 211.86,297.75 211.92,297.43 211.99,297.10 212.06,296.77 212.12,296.44 212.19,296.11 212.25,295.78 212.32,295.46 212.39,295.13 212.45,294.80 212.52,294.47 212.59,294.14 212.65,293.81 212.72,293.48 212.79,293.16 212.85,292.83 212.92,292.50 212.99,292.17 213.06,291.84 213.12,291.51 213.19,291.18 213.26,290.85 213.32,290.52 213.39,290.19 213.46,289.87 213.52,289.54 213.59,289.21 213.66,288.88 213.73,288.55 213.79,288.22 213.86,287.89 213.93,287.56 214.00,287.23 214.06,286.90 214.13,286.57 214.20,286.24 214.27,285.91 214.34,285.58 214.40,285.25 214.47,284.92 214.54,284.59 214.61,284.26 214.68,283.93 214.75,283.60 214.82,283.28 214.89,282.95 214.96,282.62 215.03,282.29 215.10,281.96 215.18,281.63 215.25,281.30 215.32,280.97 215.39,280.65 215.47,280.32 215.54,279.99 215.62,279.66 215.70,279.34 215.77,279.01 215.85,278.68 215.93,278.36 216.01,278.03 216.09,277.71 216.17,277.38 216.25,277.06 216.33,276.73 216.41,276.41 216.50,276.09 216.58,275.76 216.67,275.44 216.76,275.12 216.85,274.80 216.93,274.48 217.02,274.16 217.12,273.84 217.21,273.52 217.30,273.20 217.40,272.88 217.49,272.56 217.59,272.25 217.69,271.93 217.79,271.61 217.89,271.30 217.99,270.98 218.10,270.67 218.20,270.36 218.31,270.04 218.41,269.73 218.52,269.42 218.64,269.11 218.75,268.80 218.86,268.49 218.98,268.18 219.09,267.88 219.21,267.57 219.33,267.26 219.46,266.96 219.58,266.66 219.71,266.35 219.83,266.05 219.96,265.75 220.09,265.45 220.23,265.15 220.36,264.85 220.50,264.55 220.63,264.26 220.77,263.96 220.92,263.67 221.06,263.37 221.21,263.08 221.36,262.79 221.51,262.50 221.66,262.21 221.81,261.92 221.97,261.63 222.13,261.35 222.29,261.06 222.45,260.78 222.62,260.49 222.79,260.21 222.96,259.93 223.13,259.65 223.30,259.38 223.48,259.10 223.66,258.82 223.84,258.55 224.03,258.28 224.21,258.00 224.40,257.73 224.60,257.46 224.79,257.20 224.99,256.93 225.19,256.66 225.39,256.40 225.60,256.14 225.80,255.88 226.01,255.62 226.23,255.36 226.44,255.11 226.66,254.86 226.88,254.61 227.11,254.37 227.34,254.14 227.57,253.92 227.80,253.70 228.04,253.49 228.28,253.30 228.52,253.11 228.76,252.94 229.01,252.78 229.27,252.63 229.52,252.50 229.78,252.39 230.04,252.29 230.31,252.21 230.58,252.15 230.85,252.10 231.12,252.08 231.40,252.08 231.69,252.10 231.97,252.14 232.26,252.21 232.56,252.30 232.85,252.41 233.15,252.55 233.46,252.71 233.76,252.90 234.06,253.09 234.36,253.31 234.66,253.54 234.95,253.78 235.24,254.03 235.52,254.28 235.80,254.55 236.07,254.81 236.33,255.08 236.58,255.35 236.82,255.63 237.06,255.90 237.29,256.18 237.51,256.45 237.72,256.73 237.93,257.01 238.14,257.29 238.33,257.58 238.53,257.86 238.71,258.15 238.90,258.44 239.08,258.73 239.26,259.02 239.43,259.31 239.60,259.60 239.76,259.90 239.92,260.19 240.08,260.49 240.23,260.78 240.38,261.08 240.53,261.38 240.68,261.68 240.82,261.99 240.95,262.29 241.09,262.59 241.22,262.90 241.35,263.20 241.48,263.51 241.60,263.82 241.72,264.12 241.84,264.43 241.96,264.74 242.07,265.05 242.18,265.37 242.29,265.68 242.40,265.99 242.51,266.30 242.61,266.62 242.71,266.93 242.81,267.25 242.91,267.56 243.01,267.88 243.10,268.20 243.20,268.51 243.29,268.83 243.38,269.15 243.47,269.47 243.56,269.79 243.65,270.11 243.74,270.43 243.82,270.75 243.91,271.07 243.99,271.39 244.08,271.71 244.16,272.03 244.24,272.35 244.33,272.67 244.41,272.99 244.49,273.31 244.58,273.64 244.66,273.96 244.74,274.28 244.83,274.60 244.91,274.92 244.99,275.24 245.07,275.57 245.16,275.89 245.24,276.21 245.32,276.53 245.41,276.85 245.49,277.17 245.58,277.49 245.66,277.82 245.74,278.14 245.83,278.46 245.91,278.78 246.00,279.10 246.08,279.43 246.16,279.75 246.25,280.07 246.33,280.39 246.42,280.71 246.50,281.03 246.59,281.36 246.67,281.68 246.75,282.00 246.84,282.32 246.92,282.64 247.01,282.97 247.09,283.29 247.18,283.61 247.26,283.93 247.35,284.25 247.43,284.58 247.52,284.90 247.60,285.22 247.68,285.54 247.77,285.86 247.85,286.19 247.94,286.51 248.02,286.83 248.11,287.15 248.19,287.47 248.28,287.80 248.36,288.12 248.45,288.44 248.53,288.76 248.62,289.09 248.70,289.41 248.79,289.73 248.87,290.05 248.96,290.38 249.04,290.70 249.12,291.02 249.21,291.34 249.29,291.66 249.38,291.99 249.46,292.31 249.55,292.63 249.63,292.95 249.72,293.28 249.80,293.60 249.88,293.92 249.97,294.25 250.05,294.57 250.14,294.89 250.22,295.21 250.31,295.54 250.39,295.86 250.47,296.18 250.56,296.50 250.64,296.83 250.72,297.15 250.81,297.47 250.89,297.80 250.98,298.12 251.06,298.44 251.14,298.77 251.22,299.09 251.31,299.41 251.39,299.73 251.47,300.06 251.56,300.38 251.64,300.70 251.72,301.03 251.80,301.35 251.89,301.67 251.97,302.00 252.05,302.32 252.13,302.64 252.22,302.97 252.30,303.29 252.38,303.61 252.46,303.94 252.54,304.26 252.62,304.58 252.71,304.91 252.79,305.23 252.87,305.56 252.95,305.88 253.03,306.20 253.11,306.53 253.19,306.85 253.27,307.17 253.35,307.50 253.43,307.82 253.51,308.15 253.59,308.47 253.67,308.79 253.75,309.12 253.83,309.44 253.91,309.77 253.99,310.09 254.07,310.41 254.15,310.74 254.22,311.06 254.30,311.39 254.38,311.71 254.46,312.04 254.54,312.36 254.61,312.68 254.69,313.01 254.77,313.33 254.85,313.66 254.92,313.98 255.00,314.31 255.08,314.63 255.15,314.96 255.23,315.28 255.31,315.61 255.38,315.93 255.46,316.26 255.53,316.58 255.61,316.90 255.68,317.23 255.76,317.55 255.83,317.88 255.91,318.20 255.98,318.53 256.05,318.85 256.13,319.18 256.20,319.51 256.27,319.83 256.35,320.16 256.42,320.48 256.49,320.81 256.56,321.13 256.64,321.46 256.71,321.78 256.78,322.11 256.85,322.43 256.92,322.76 256.99,323.09 257.06,323.41 257.13,323.74 257.20,324.06 257.27,324.39 257.34,324.71 257.41,325.04 257.48,325.37 257.55,325.69 257.62,326.02 257.68,326.34 257.75,326.67 257.82,327.00 257.89,327.32 257.95,327.65 258.02,327.98 258.09,328.30 258.15,328.63 258.22,328.95 258.28,329.28 258.35,329.61 258.41,329.93 258.48,330.26 258.54,330.59 258.61,330.91 258.67,331.24 258.73,331.57 258.80,331.90 258.86,332.22 258.92,332.55 258.99,332.88 259.05,333.20 259.11,333.53 259.17,333.86 259.23,334.18 259.29,334.51 259.35,334.84 259.41,335.17 259.47,335.49 259.53,335.82 259.59,336.15 259.65,336.48 259.70,336.80 259.76,337.13 259.82,337.46 259.88,337.79 259.93,338.12 259.99,338.44 260.05,338.77 260.10,339.10" fill="none" stroke="#ff0000" stroke-width="1.8" stroke-linejoin="round"/><polyline points="30.50,340.20 30.83,340.19 31.16,340.19 31.49,340.18 31.82,340.17 32.15,340.17 32.48,340.16 32.81,340.16 33.15,340.15 33.48,340.15 33.81,340.15 34.14,340.14 34.48,340.14 34.81,340.13 35.15,340.12 35.48,340.12 35.81,340.11 36.15,340.11 36.48,340.10 36.82,340.09 37.15,340.08 37.49,340.07 37.82,340.06 38.15,340.05 38.49,340.04 38.82,340.03 39.16,340.02 39.49,340.00 39.83,339.99 40.16,339.97 40.50,339.95 40.83,339.93 41.16,339.91 41.50,339.89 41.83,339.87 42.16,339.84 42.50,339.81 42.83,339.79 43.16,339.75 43.49,339.72 43.82,339.69 44.16,339.65 44.49,339.61 44.82,339.57 45.15,339.53 45.48,339.49 45.80,339.44 46.13,339.39 46.46,339.34 46.79,339.29 47.11,339.23 47.44,339.17 47.77,339.11 48.09,339.05 48.42,338.98 48.74,338.91 49.06,338.84 49.38,338.76 49.70,338.68 50.02,338.60 50.34,338.52 50.66,338.43 50.98,338.34 51.30,338.24 51.61,338.14 51.93,338.04 52.24,337.94 52.56,337.83 52.87,337.72 53.18,337.60 53.49,337.48 53.80,337.36 54.11,337.23 54.41,337.10 54.71,336.97 55.02,336.83 55.32,336.69 55.61,336.54 55.91,336.39 56.20,336.24 56.49,336.08 56.78,335.92 57.07,335.76 57.35,335.59 57.63,335.41 57.91,335.24 58.19,335.06 58.46,334.87 58.73,334.68 58.99,334.49 59.26,334.29 59.52,334.09 59.77,333.89 60.02,333.68 60.27,333.46 60.51,333.24 60.75,333.02 60.99,332.80 61.22,332.56 61.45,332.33 61.67,332.09 61.89,331.85 62.11,331.60 62.32,331.35 62.52,331.09 62.73,330.83 62.93,330.57 63.12,330.30 63.31,330.03 63.50,329.76 63.69,329.48 63.87,329.20 64.05,328.92 64.23,328.64 64.40,328.35 64.57,328.06 64.74,327.77 64.90,327.48 65.07,327.19 65.23,326.89 65.39,326.59 65.54,326.29 65.70,325.99 65.85,325.69 66.00,325.38 66.15,325.08 66.29,324.77 66.44,324.47 66.58,324.16 66.73,323.85 66.87,323.54 67.01,323.23 67.15,322.93 67.29,322.62 67.42,322.31 67.56,322.00 67.70,321.69 67.83,321.39 67.97,321.08 68.10,320.77 68.23,320.46 68.36,320.15 68.49,319.85 68.62,319.54 68.75,319.23 68.88,318.92 69.01,318.61 69.14,318.30 69.26,318.00 69.39,317.69 69.51,317.38 69.64,317.07 69.76,316.76 69.88,316.45 70.01,316.15 70.13,315.84 70.25,315.53 70.37,315.22 70.49,314.91 70.61,314.60 70.73,314.30 70.84,313.99 70.96,313.68 71.08,313.37 71.20,313.06 71.31,312.75 71.43,312.44 71.54,312.13 71.66,311.82 71.77,311.52 71.88,311.21 72.00,310.90 72.11,310.59 72.22,310.28 72.34,309.97 72.45,309.66 72.56,309.35 72.67,309.04 72.78,308.73 72.89,308.42 73.00,308.11 73.11,307.80 73.22,307.49 73.33,307.18 73.44,306.87 73.55,306.56 73.66,306.25 73.77,305.94 73.87,305.63 73.98,305.32 74.09,305.01 74.20,304.70 74.31,304.39 74.41,304.07 74.52,303.76 74.63,303.45 74.73,303.14 74.84,302.83 74.95,302.52 75.06,302.21 75.16,301.89 75.27,301.58 75.38,301.27 75.48,300.96 75.59,300.64 75.70,300.33 75.80,300.02 75.91,299.71 76.02,299.39 76.12,299.08 76.23,298.77 76.34,298.45 76.45,298.14 76.55,297.83 76.66,297.51 76.77,297.20 76.88,296.88 76.99,296.57 77.09,296.25 77.20,295.94 77.31,295.62 77.42,295.31 77.53,294.99 77.64,294.68 77.75,294.36 77.86,294.05 77.97,293.73 78.08,293.42 78.19,293.10 78.30,292.78 78.42,292.47 78.53,292.15 78.64,291.83 78.75,291.51 78.87,291.20 78.98,290.88 79.10,290.56 79.21,290.24 79.33,289.93 79.44,289.61 79.56,289.29 79.67,288.97 79.79,288.65 79.91,288.33 80.03,288.01 80.15,287.69 80.26,287.37 80.38,287.05 80.50,286.73 80.63,286.41 80.75,286.09 80.87,285.77 80.99,285.45 81.12,285.13 81.24,284.80 81.37,284.48 81.49,284.16 81.62,283.84 81.74,283.51 81.87,283.19 82.00,282.87 82.13,282.54 82.26,282.22 82.39,281.90 82.52,281.57 82.66,281.25 82.79,280.93 82.93,280.61 83.07,280.29 83.21,279.98 83.36,279.67 83.51,279.36 83.66,279.05 83.81,278.75 83.97,278.45 84.13,278.15 84.29,277.86 84.46,277.58 84.63,277.30 84.81,277.02 84.99,276.75 85.18,276.49 85.37,276.23 85.57,275.98 85.77,275.74 85.98,275.51 86.19,275.28 86.41,275.06 86.64,274.85 86.87,274.65 87.11,274.45 87.36,274.27 87.61,274.10 87.88,273.93 88.14,273.78 88.42,273.64 88.70,273.51 88.99,273.39 89.28,273.28 89.58,273.19 89.88,273.11 90.18,273.04 90.48,272.99 90.78,272.95 91.08,272.93 91.38,272.93 91.67,272.94 91.97,272.97 92.25,273.02 92.53,273.08 92.81,273.16 93.08,273.27 93.34,273.39 93.59,273.53 93.84,273.69 94.07,273.87 94.30,274.06 94.53,274.27 94.74,274.49 94.95,274.72 95.16,274.96 95.36,275.21 95.56,275.47 95.75,275.73 95.94,276.00 96.12,276.28 96.30,276.56 96.48,276.84 96.66,277.12 96.83,277.40 97.01,277.68 97.18,277.97 97.34,278.25 97.51,278.54 97.67,278.83 97.83,279.12 97.99,279.41 98.15,279.70 98.30,279.99 98.46,280.29 98.61,280.58 98.76,280.88 98.90,281.18 99.05,281.47 99.19,281.77 99.33,282.07 99.47,282.37 99.61,282.67 99.74,282.98 99.88,283.28 100.01,283.58 100.14,283.89 100.27,284.19 100.40,284.50 100.52,284.81 100.65,285.12 100.77,285.42 100.89,285.73 101.01,286.04 101.13,286.35 101.25,286.67 101.37,286.98 101.48,287.29 101.60,287.60 101.71,287.92 101.82,288.23 101.93,288.55 102.04,288.86 102.15,289.18 102.26,289.49 102.36,289.81 102.47,290.13 102.57,290.45 102.68,290.76 102.78,291.08 102.88,291.40 102.98,291.72 103.08,292.04 103.18,292.36 103.28,292.68 103.38,293.00 103.48,293.32 103.57,293.64 103.67,293.96 103.77,294.29 103.86,294.61 103.96,294.93 104.05,295.25 104.14,295.57 104.24,295.89 104.33,296.22 104.42,296.54 104.52,296.86 104.61,297.18 104.70,297.51 104.79,297.83 104.88,298.15 104.98,298.47 105.07,298.80 105.16,299.12 105.25,299.44 105.34,299.77 105.43,300.09 105.52,300.41 105.61,300.73 105.69,301.06 105.78,301.38 105.87,301.70 105.96,302.03 106.05,302.35 106.14,302.67 106.22,303.00 106.31,303.32 106.40,303.64 106.48,303.97 106.57,304.29 106.66,304.61 106.74,304.94 106.83,305.26 106.91,305.59 107.00,305.91 107.08,306.23 107.17,306.56 107.25,306.88 107.34,307.20 107.42,307.53 107.50,307.85 107.59,308.18 107.67,308.50 107.75,308.82 107.84,309.15 107.92,309.47 108.00,309.80 108.09,310.12 108.17,310.45 108.25,310.77 108.33,311.09 108.41,311.42 108.50,311.74 108.58,312.07 108.66,312.39 108.74,312.71 108.82,313.04 108.90,313.36 108.98,313.69 109.06,314.01 109.14,314.34 109.22,314.66 109.30,314.98 109.38,315.31 109.46,315.63 109.54,315.96 109.62,316.28 109.70,316.60 109.78,316.93 109.86,317.25 109.94,317.58 110.02,317.90 110.10,318.22 110.18,318.55 110.26,318.87 110.34,319.20 110.41,319.52 110.49,319.84 110.57,320.17 110.65,320.49 110.73,320.82 110.81,321.14 110.88,321.46 110.96,321.79 111.04,322.11 111.12,322.43 111.20,322.76 111.27,323.08 111.35,323.40 111.43,323.73 111.51,324.05 111.58,324.37 111.66,324.70 111.74,325.02 111.82,325.34 111.89,325.67 111.97,325.99 112.05,326.31 112.13,326.64 112.20,326.96 112.28,327.28 112.36,327.61 112.44,327.93 112.51,328.25 112.59,328.57 112.67,328.90 112.74,329.22 112.82,329.54 112.90,329.86 112.98,330.19 113.05,330.51 113.13,330.83 113.21,331.15 113.29,331.47 113.36,331.80 113.44,332.12 113.52,332.44 113.60,332.76 113.67,333.08 113.75,333.40 113.83,333.73 113.91,334.05 113.98,334.37 114.06,334.69 114.14,335.01 114.22,335.33 114.30,335.65 114.37,335.97 114.45,336.29 114.53,336.61 114.61,336.93 114.69,337.25 114.77,337.57 114.84,337.89 114.92,338.21 115.00,338.53 115.08,338.85 115.16,339.17 115.24,339.49 115.32,339.81 115.40,340.13 115.48,340.45 115.56,340.77 115.64,341.09 115.72,341.41 115.80,341.73 115.88,342.05 115.96,342.37 116.04,342.69 116.12,343.01 116.20,343.33 116.29,343.64 116.37,343.96 116.45,344.28 116.54,344.60 116.62,344.92 116.70,345.24 116.79,345.56 116.87,345.88 116.96,346.20 117.04,346.52 117.13,346.83 117.22,347.15 117.30,347.47 117.39,347.79 117.48,348.11 117.57,348.43 117.66,348.75 117.75,349.07 117.84,349.39 117.93,349.71 118.02,350.03 118.11,350.35 118.20,350.67 118.30,350.99 118.39,351.31 118.49,351.63 118.58,351.95 118.68,352.27 118.77,352.59 118.87,352.91 118.97,353.23 119.07,353.56 119.17,353.88 119.27,354.20 119.37,354.52 119.47,354.84 119.57,355.16 119.67,355.49 119.78,355.81 119.88,356.13 119.99,356.45 120.09,356.78 120.20,357.10 120.31,357.42 120.42,357.75 120.53,358.07 120.64,358.39 120.75,358.72 120.86,359.04 120.98,359.37 121.09,359.69 121.21,360.02 121.32,360.34 121.44,360.66 121.56,360.99 121.68,361.31 121.80,361.63 121.93,361.96 122.05,362.28 122.18,362.60 122.31,362.92 122.44,363.24 122.57,363.56 122.70,363.87 122.83,364.19 122.97,364.51 123.11,364.82 123.25,365.13 123.39,365.44 123.53,365.75 123.68,366.06 123.83,366.36 123.98,366.67 124.13,366.97 124.28,367.27 124.44,367.56 124.60,367.86 124.76,368.15 124.92,368.44 125.09,368.73 125.26,369.02 125.43,369.30 125.61,369.58 125.78,369.86 125.96,370.13 126.14,370.40 126.33,370.67 126.52,370.93 126.71,371.20 126.90,371.45 127.10,371.71 127.30,371.96 127.50,372.21 127.71,372.45 127.92,372.69 128.13,372.93 128.34,373.16 128.56,373.39 128.79,373.61 129.01,373.83 129.24,374.05 129.47,374.26 129.71,374.46 129.95,374.67 130.20,374.86 130.44,375.06 130.70,375.24 130.95,375.43 131.21,375.60 131.47,375.78 131.74,375.95 132.01,376.11 132.29,376.26 132.57,376.42 132.85,376.56 133.14,376.70 133.43,376.83 133.73,376.96 134.03,377.08 134.33,377.19 134.63,377.30 134.94,377.40 135.25,377.48 135.56,377.56 135.88,377.63 136.19,377.70 136.51,377.75 136.83,377.79 137.16,377.82 137.48,377.84 137.80,377.85 138.13,377.84 138.45,377.83 138.78,377.81 139.11,377.77 139.44,377.73 139.76,377.68 140.09,377.62 140.42,377.56 140.75,377.49 141.08,377.42 141.41,377.34 141.74,377.27 142.07,377.19 142.40,377.11 142.73,377.04 143.07,376.96 143.40,376.89 143.73,376.82 144.06,376.76 144.39,376.69 144.72,376.63 145.05,376.57 145.38,376.52 145.71,376.46 146.04,376.41 146.37,376.36 146.70,376.31 147.03,376.27 147.36,376.22 147.69,376.18 148.02,376.14 148.35,376.10 148.68,376.06 149.01,376.03 149.34,376.00 149.67,375.96 150.00,375.93 150.33,375.90 150.66,375.87 150.99,375.85 151.32,375.82 151.65,375.80 151.98,375.77 152.31,375.75 152.64,375.73 152.97,375.71 153.31,375.69 153.64,375.67 153.97,375.65 154.30,375.64 154.63,375.62 154.96,375.61 155.29,375.59 155.62,375.58 155.95,375.56 156.29,375.55 156.62,375.54 156.95,375.52 157.28,375.51 157.61,375.50 157.95,375.49 158.28,375.48 158.61,375.47 158.94,375.46 159.27,375.46 159.61,375.45 159.94,375.44 160.27,375.43 160.60,375.43 160.94,375.42 161.27,375.42 161.60,375.41 161.93,375.41 162.27,375.40 162.60,375.40 162.93,375.40 163.27,375.40 163.60,375.39 163.93,375.39 164.26,375.39 164.60,375.39 164.93,375.39 165.26,375.39 165.60,375.39 165.93,375.39 166.26,375.39 166.60,375.39 166.93,375.39 167.26,375.39 167.60,375.39 167.93,375.39 168.26,375.39 168.60,375.39 168.93,375.40 169.27,375.40 169.60,375.40 169.93,375.40 170.27,375.40 170.60,375.41 170.93,375.41 171.27,375.41 171.60,375.41 171.93,375.42 172.27,375.42 172.60,375.42 172.94,375.43 173.27,375.43 173.60,375.43 173.94,375.44 174.27,375.44 174.60,375.44 174.94,375.44 175.27,375.45 175.61,375.45 175.94,375.45 176.27,375.46 176.61,375.46 176.94,375.46 177.27,375.46 177.61,375.47 177.94,375.47 178.27,375.47 178.61,375.47 178.94,375.48 179.27,375.48 179.61,375.48 179.94,375.48 180.28,375.48 180.61,375.49 180.94,375.49 181.28,375.49 181.61,375.49 181.94,375.49 182.28,375.50 182.61,375.50 182.94,375.50 183.28,375.50 183.61,375.50 183.94,375.50 184.28,375.51 184.61,375.51 184.95,375.51 185.28,375.51 185.61,375.51 185.95,375.51 186.28,375.51 186.61,375.52 186.95,375.52 187.28,375.52 187.61,375.52 187.95,375.52 188.28,375.52 188.61,375.52 188.95,375.52 189.28,375.52 189.61,375.53 189.95,375.53 190.28,375.53 190.61,375.53 190.95,375.53 191.28,375.53 191.61,375.53 191.95,375.53 192.28,375.53 192.61,375.53 192.95,375.53 193.28,375.53 193.61,375.53 193.95,375.54 194.28,375.54 194.61,375.54 194.95,375.54 195.28,375.54 195.61,375.54 195.95,375.54 196.28,375.54 196.61,375.54 196.95,375.54 197.28,375.54 197.61,375.54 197.95,375.54 198.28,375.54 198.61,375.54 198.95,375.54 199.28,375.54 199.61,375.54 199.95,375.54 200.28,375.54 200.61,375.54 200.95,375.54 201.28,375.54 201.61,375.54 201.95,375.54 202.28,375.54 202.61,375.54 202.95,375.54 203.28,375.54 203.61,375.54 203.95,375.54 204.28,375.54 204.61,375.54 204.95,375.54 205.28,375.54 205.61,375.54 205.95,375.54 206.28,375.54 206.61,375.54 206.95,375.54 207.28,375.53 207.61,375.53 207.95,375.53 208.28,375.53 208.61,375.53 208.94,375.53 209.28,375.53 209.61,375.53 209.94,375.53 210.28,375.53 210.61,375.53 210.94,375.53 211.28,375.53 211.61,375.53 211.94,375.53 212.28,375.53 212.61,375.53 212.94,375.53 213.28,375.52 213.61,375.52 213.94,375.52 214.28,375.52 214.61,375.52 214.94,375.52 215.28,375.52 215.61,375.52 215.94,375.52 216.28,375.52 216.61,375.52 216.94,375.52 217.27,375.52 217.61,375.52 217.94,375.51 218.27,375.51 218.61,375.51 218.94,375.51 219.27,375.51 219.61,375.51 219.94,375.51 220.27,375.51 220.61,375.51 220.94,375.51 221.27,375.51 221.61,375.51 221.94,375.50 222.27,375.50 222.61,375.50 222.94,375.50 223.27,375.50 223.61,375.50 223.94,375.50 224.27,375.50 224.60,375.50 224.94,375.50 225.27,375.50 225.60,375.50 225.94,375.50 226.27,375.49 226.60,375.49 226.94,375.49 227.27,375.49 227.60,375.49 227.94,375.49 228.27,375.49 228.60,375.49 228.94,375.49 229.27,375.49 229.60,375.49 229.94,375.49 230.27,375.49 230.60,375.48 230.94,375.48 231.27,375.48 231.60,375.48 231.93,375.48 232.27,375.48 232.60,375.48 232.93,375.48 233.27,375.48 233.60,375.48 233.93,375.48 234.27,375.48 234.60,375.48 234.93,375.48 235.27,375.48 235.60,375.48 235.93,375.47 236.27,375.47 236.60,375.47 236.93,375.47 237.27,375.47 237.60,375.47 237.93,375.47 238.27,375.47 238.60,375.47 238.93,375.47 239.27,375.47 239.60,375.47 239.93,375.47 240.27,375.47 240.60,375.47 240.93,375.47 241.27,375.47 241.60,375.47 241.93,375.47 242.26,375.47 242.60,375.47 242.93,375.47 243.26,375.47 243.60,375.47 243.93,375.47 244.26,375.47 244.60,375.47 244.93,375.47 245.26,375.47 245.60,375.47 245.93,375.47 246.26,375.47 246.60,375.47 246.93,375.47 247.26,375.47 247.60,375.47 247.93,375.47 248.26,375.47 248.60,375.47 248.93,375.47 249.26,375.47 249.60,375.47 249.93,375.47 250.26,375.47 250.60,375.47 250.93,375.47 251.26,375.47 251.60,375.47 251.93,375.47 252.26,375.47 252.60,375.47 252.93,375.48 253.26,375.48 253.60,375.48 253.93,375.48 254.26,375.48 254.60,375.48 254.93,375.48 255.26,375.48 255.60,375.48 255.93,375.48 256.27,375.48 256.60,375.49 256.93,375.49 257.27,375.49 257.60,375.49 257.93,375.49 258.27,375.49 258.60,375.49 258.93,375.49 259.27,375.50 259.60,375.50 259.93,375.50 260.27,375.50 260.60,375.50" fill="none" stroke="#fbb414" stroke-width="1.8" stroke-linejoin="round"/><path d="M30.5,233.4 V404.3 H260.6" fill="none" stroke="#6a6a6a" stroke-width="1.15"/><path d="M30.50,404.3 v-2 M88.03,404.3 v-2 M145.55,404.3 v-2 M203.08,404.3 v-2 M260.60,404.3 v-2 M30.5,233.40 h2 M30.5,254.76 h2 M30.5,276.12 h2 M30.5,297.49 h2 M30.5,318.85 h2 M30.5,340.21 h2 M30.5,361.58 h2 M30.5,382.94 h2 M30.5,404.30 h2" stroke="#6a6a6a" stroke-width="1" fill="none"/><text x="30.50" y="416.80" text-anchor="middle" font-family="'Liberation Sans', Arial, Helvetica, sans-serif" font-size="8.5" fill="#141414">0</text><text x="88.03" y="416.80" text-anchor="middle" font-family="'Liberation Sans', Arial, Helvetica, sans-serif" font-size="8.5" fill="#141414">50</text><text x="145.55" y="416.80" text-anchor="middle" font-family="'Liberation Sans', Arial, Helvetica, sans-serif" font-size="8.5" fill="#141414">100</text><text x="203.08" y="416.80" text-anchor="middle" font-family="'Liberation Sans', Arial, Helvetica, sans-serif" font-size="8.5" fill="#141414">150</text><text x="260.60" y="416.80" text-anchor="middle" font-family="'Liberation Sans', Arial, Helvetica, sans-serif" font-size="8.5" fill="#141414">200</text><text x="26.70" y="236.45" text-anchor="end" font-family="'Liberation Sans', Arial, Helvetica, sans-serif" font-size="8.5" fill="#141414">5</text><text x="26.70" y="257.81" text-anchor="end" font-family="'Liberation Sans', Arial, Helvetica, sans-serif" font-size="8.5" fill="#141414">4</text><text x="26.70" y="279.18" text-anchor="end" font-family="'Liberation Sans', Arial, Helvetica, sans-serif" font-size="8.5" fill="#141414">3</text><text x="26.70" y="300.54" text-anchor="end" font-family="'Liberation Sans', Arial, Helvetica, sans-serif" font-size="8.5" fill="#141414">2</text><text x="26.70" y="321.90" text-anchor="end" font-family="'Liberation Sans', Arial, Helvetica, sans-serif" font-size="8.5" fill="#141414">1</text><text x="26.70" y="343.26" text-anchor="end" font-family="'Liberation Sans', Arial, Helvetica, sans-serif" font-size="8.5" fill="#141414">0</text><text x="26.70" y="364.63" text-anchor="end" font-family="'Liberation Sans', Arial, Helvetica, sans-serif" font-size="8.5" fill="#141414">&#8722;<tspan dx="1.6">1</tspan></text><text x="26.70" y="385.99" text-anchor="end" font-family="'Liberation Sans', Arial, Helvetica, sans-serif" font-size="8.5" fill="#141414">&#8722;<tspan dx="1.6">2</tspan></text><text x="26.70" y="407.35" text-anchor="end" font-family="'Liberation Sans', Arial, Helvetica, sans-serif" font-size="8.5" fill="#141414">&#8722;<tspan dx="1.6">3</tspan></text><text x="145.55" y="428.90" text-anchor="middle" font-family="'Liberation Serif', 'Times New Roman', Times, serif" font-size="10" fill="#262626">X/m</text><text transform="translate(11.2,318.9) rotate(-90)" x="0" y="0" text-anchor="middle" font-family="'Liberation Serif', 'Times New Roman', Times, serif" font-size="10" fill="#262626">Y/m</text><text x="132.6" y="442.90" text-anchor="middle" font-family="'Liberation Serif', 'Times New Roman', Times, serif" font-size="12" fill="#000">(<tspan font-weight="bold">c</tspan>)</text><line x1="111.3" y1="238.4" x2="136.4" y2="238.4" stroke="#0000ff" stroke-width="2" stroke-dasharray="5.2 4.8"/><text x="138.5" y="241.90" font-family="'Liberation Serif', 'Times New Roman', Times, serif" font-size="10" fill="#1a1a1a">Expected trajectory</text><line x1="111.3" y1="249.8" x2="136.4" y2="249.8" stroke="#ff0000" stroke-width="1.8"/><text x="138.5" y="253.30" font-family="'Liberation Serif', 'Times New Roman', Times, serif" font-size="10" fill="#1a1a1a">Ordinary MPC</text><line x1="111.3" y1="261.3" x2="136.4" y2="261.3" stroke="#fbb414" stroke-width="1.3"/><text x="138.5" y="264.80" font-family="'Liberation Serif', 'Times New Roman', Times, serif" font-size="10" fill="#1a1a1a">The improved MPC</text></g>
<g><polyline points="311.50,370.01 311.69,370.01 311.88,370.01 312.08,370.01 312.27,370.01 312.46,370.01 312.65,370.01 312.84,370.01 313.03,370.01 313.23,370.01 313.42,370.01 313.61,370.01 313.80,370.01 313.99,370.01 314.18,370.01 314.38,370.01 314.57,370.01 314.76,370.01 314.95,370.01 315.14,370.01 315.33,370.01 315.53,370.01 315.72,370.01 315.91,370.01 316.10,370.01 316.29,370.00 316.49,370.00 316.68,370.00 316.87,370.00 317.06,370.00 317.25,370.00 317.44,370.00 317.64,370.00 317.83,370.00 318.02,370.00 318.21,370.00 318.40,370.00 318.59,370.00 318.79,370.00 318.98,370.00 319.17,370.00 319.36,369.99 319.55,369.99 319.75,369.99 319.94,369.99 320.13,369.99 320.32,369.99 320.51,369.99 320.70,369.99 320.90,369.99 321.09,369.99 321.28,369.99 321.47,369.98 321.66,369.98 321.85,369.98 322.05,369.98 322.24,369.98 322.43,369.98 322.62,369.98 322.81,369.98 323.00,369.97 323.20,369.97 323.39,369.97 323.58,369.97 323.77,369.97 323.96,369.97 324.16,369.96 324.35,369.96 324.54,369.96 324.73,369.96 324.92,369.96 325.11,369.95 325.31,369.95 325.50,369.95 325.69,369.95 325.88,369.95 326.07,369.94 326.26,369.94 326.46,369.94 326.65,369.94 326.84,369.93 327.03,369.93 327.22,369.93 327.42,369.92 327.61,369.92 327.80,369.92 327.99,369.91 328.18,369.91 328.37,369.91 328.57,369.90 328.76,369.90 328.95,369.90 329.14,369.89 329.33,369.89 329.52,369.88 329.72,369.88 329.91,369.88 330.10,369.87 330.29,369.87 330.48,369.86 330.68,369.86 330.87,369.85 331.06,369.85 331.25,369.84 331.44,369.83 331.63,369.83 331.83,369.82 332.02,369.82 332.21,369.81 332.40,369.80 332.59,369.79 332.78,369.79 332.98,369.78 333.17,369.77 333.36,369.76 333.55,369.76 333.74,369.75 333.93,369.74 334.13,369.73 334.32,369.72 334.51,369.71 334.70,369.70 334.89,369.69 335.09,369.68 335.28,369.67 335.47,369.66 335.66,369.65 335.85,369.64 336.04,369.62 336.24,369.61 336.43,369.60 336.62,369.59 336.81,369.57 337.00,369.56 337.19,369.54 337.39,369.53 337.58,369.51 337.77,369.50 337.96,369.48 338.15,369.46 338.35,369.45 338.54,369.43 338.73,369.41 338.92,369.39 339.11,369.37 339.30,369.35 339.50,369.33 339.69,369.31 339.88,369.29 340.07,369.27 340.26,369.24 340.45,369.22 340.65,369.20 340.84,369.17 341.03,369.14 341.22,369.12 341.41,369.09 341.60,369.06 341.80,369.03 341.99,369.00 342.18,368.97 342.37,368.94 342.56,368.91 342.76,368.88 342.95,368.84 343.14,368.81 343.33,368.77 343.52,368.73 343.71,368.70 343.91,368.66 344.10,368.62 344.29,368.58 344.48,368.54 344.67,368.49 344.86,368.45 345.06,368.40 345.25,368.36 345.44,368.31 345.63,368.26 345.82,368.21 346.01,368.16 346.21,368.11 346.40,368.06 346.59,368.00 346.78,367.95 346.97,367.89 347.17,367.83 347.36,367.77 347.55,367.71 347.74,367.65 347.93,367.59 348.12,367.52 348.32,367.45 348.51,367.39 348.70,367.32 348.89,367.25 349.08,367.18 349.27,367.10 349.47,367.03 349.66,366.95 349.85,366.88 350.04,366.80 350.23,366.72 350.43,366.64 350.62,366.56 350.81,366.47 351.00,366.39 351.19,366.30 351.38,366.21 351.58,366.13 351.77,366.04 351.96,365.95 352.15,365.85 352.34,365.76 352.53,365.67 352.73,365.57 352.92,365.47 353.11,365.38 353.30,365.28 353.49,365.18 353.69,365.08 353.88,364.97 354.07,364.87 354.26,364.77 354.45,364.67 354.64,364.56 354.84,364.46 355.03,364.35 355.22,364.24 355.41,364.14 355.60,364.03 355.79,363.92 355.99,363.81 356.18,363.70 356.37,363.60 356.56,363.49 356.75,363.38 356.94,363.27 357.14,363.16 357.33,363.05 357.52,362.94 357.71,362.83 357.90,362.72 358.10,362.62 358.29,362.51 358.48,362.40 358.67,362.29 358.86,362.19 359.05,362.08 359.25,361.97 359.44,361.87 359.63,361.77 359.82,361.66 360.01,361.56 360.20,361.46 360.40,361.36 360.59,361.26 360.78,361.16 360.97,361.06 361.16,360.97 361.36,360.87 361.55,360.78 361.74,360.68 361.93,360.59 362.12,360.50 362.31,360.41 362.51,360.33 362.70,360.24 362.89,360.16 363.08,360.07 363.27,359.99 363.46,359.91 363.66,359.83 363.85,359.75 364.04,359.68 364.23,359.60 364.42,359.53 364.61,359.46 364.81,359.39 365.00,359.32 365.19,359.26 365.38,359.19 365.57,359.13 365.77,359.07 365.96,359.01 366.15,358.95 366.34,358.89 366.53,358.84 366.72,358.79 366.92,358.73 367.11,358.68 367.30,358.64 367.49,358.59 367.68,358.54 367.87,358.50 368.07,358.46 368.26,358.42 368.45,358.38 368.64,358.35 368.83,358.31 369.02,358.28 369.22,358.25 369.41,358.22 369.60,358.19 369.79,358.16 369.98,358.14 370.18,358.11 370.37,358.09 370.56,358.07 370.75,358.06 370.94,358.04 371.13,358.02 371.33,358.01 371.52,358.00 371.71,357.99 371.90,357.98 372.09,357.98 372.28,357.97 372.48,357.97 372.67,357.97 372.86,357.97 373.05,357.97 373.24,357.98 373.44,357.98 373.63,357.99 373.82,358.00 374.01,358.01 374.20,358.03 374.39,358.04 374.59,358.06 374.78,358.08 374.97,358.10 375.16,358.12 375.35,358.15 375.54,358.17 375.74,358.20 375.93,358.23 376.12,358.27 376.31,358.30 376.50,358.34 376.69,358.38 376.89,358.42 377.08,358.46 377.27,358.51 377.46,358.56 377.65,358.61 377.85,358.66 378.04,358.72 378.23,358.77 378.42,358.83 378.61,358.90 378.80,358.96 379.00,359.03 379.19,359.10 379.38,359.17 379.57,359.25 379.76,359.32 379.95,359.40 380.15,359.49 380.34,359.57 380.53,359.66 380.72,359.75 380.91,359.84 381.11,359.94 381.30,360.04 381.49,360.14 381.68,360.24 381.87,360.35 382.06,360.46 382.26,360.57 382.45,360.69 382.64,360.80 382.83,360.93 383.02,361.05 383.21,361.17 383.41,361.30 383.60,361.43 383.79,361.57 383.98,361.71 384.17,361.84 384.37,361.99 384.56,362.13 384.75,362.28 384.94,362.42 385.13,362.58 385.32,362.73 385.52,362.88 385.71,363.04 385.90,363.20 386.09,363.36 386.28,363.53 386.47,363.69 386.67,363.86 386.86,364.03 387.05,364.20 387.24,364.37 387.43,364.54 387.62,364.72 387.82,364.89 388.01,365.07 388.20,365.24 388.39,365.42 388.58,365.60 388.78,365.78 388.97,365.96 389.16,366.14 389.35,366.32 389.54,366.50 389.73,366.68 389.93,366.86 390.12,367.04 390.31,367.22 390.50,367.40 390.69,367.57 390.88,367.75 391.08,367.93 391.27,368.10 391.46,368.28 391.65,368.45 391.84,368.62 392.03,368.79 392.23,368.96 392.42,369.13 392.61,369.29 392.80,369.45 392.99,369.62 393.19,369.78 393.38,369.93 393.57,370.09 393.76,370.24 393.95,370.39 394.14,370.54 394.34,370.69 394.53,370.83 394.72,370.98 394.91,371.12 395.10,371.25 395.29,371.39 395.49,371.52 395.68,371.65 395.87,371.78 396.06,371.90 396.25,372.02 396.45,372.14 396.64,372.26 396.83,372.37 397.02,372.48 397.21,372.59 397.40,372.70 397.60,372.80 397.79,372.90 397.98,373.00 398.17,373.09 398.36,373.18 398.55,373.27 398.75,373.36 398.94,373.45 399.13,373.53 399.32,373.61 399.51,373.69 399.70,373.76 399.90,373.83 400.09,373.90 400.28,373.97 400.47,374.04 400.66,374.10 400.86,374.16 401.05,374.22 401.24,374.28 401.43,374.34 401.62,374.39 401.81,374.44 402.01,374.49 402.20,374.54 402.39,374.58 402.58,374.63 402.77,374.67 402.96,374.71 403.16,374.75 403.35,374.79 403.54,374.83 403.73,374.86 403.92,374.90 404.12,374.93 404.31,374.96 404.50,374.99 404.69,375.02 404.88,375.05 405.07,375.07 405.27,375.10 405.46,375.12 405.65,375.15 405.84,375.17 406.03,375.19 406.22,375.21 406.42,375.23 406.61,375.25 406.80,375.27 406.99,375.28 407.18,375.30 407.38,375.32 407.57,375.33 407.76,375.35 407.95,375.36 408.14,375.37 408.33,375.39 408.53,375.40 408.72,375.41 408.91,375.42 409.10,375.43 409.29,375.44 409.48,375.45 409.68,375.46 409.87,375.47 410.06,375.48 410.25,375.49 410.44,375.49 410.63,375.50 410.83,375.51 411.02,375.52 411.21,375.52 411.40,375.53 411.59,375.53 411.79,375.54 411.98,375.55 412.17,375.55 412.36,375.56 412.55,375.56 412.74,375.56 412.94,375.57 413.13,375.57 413.32,375.58 413.51,375.58 413.70,375.58 413.89,375.59 414.09,375.59 414.28,375.59 414.47,375.60 414.66,375.60 414.85,375.60 415.05,375.61 415.24,375.61 415.43,375.61 415.62,375.61 415.81,375.61 416.00,375.62 416.20,375.62 416.39,375.62 416.58,375.62 416.77,375.62 416.96,375.63 417.15,375.63 417.35,375.63 417.54,375.63 417.73,375.63 417.92,375.63 418.11,375.63 418.30,375.64 418.50,375.64 418.69,375.64 418.88,375.64 419.07,375.64 419.26,375.64 419.46,375.64 419.65,375.64 419.84,375.64 420.03,375.64 420.22,375.64 420.41,375.64 420.61,375.65 420.80,375.65 420.99,375.65 421.18,375.65 421.37,375.65 421.56,375.65 421.76,375.65 421.95,375.65 422.14,375.65 422.33,375.65 422.52,375.65 422.72,375.65 422.91,375.65 423.10,375.65 423.29,375.65 423.48,375.65 423.67,375.65 423.87,375.65 424.06,375.65 424.25,375.65 424.44,375.65 424.63,375.65 424.82,375.65 425.02,375.65 425.21,375.66 425.40,375.66 425.59,375.66 425.78,375.66 425.97,375.66 426.17,375.66 426.36,375.66 426.55,375.66 426.74,375.66 426.93,375.66 427.13,375.66 427.32,375.66 427.51,375.66 427.70,375.66 427.89,375.66 428.08,375.66 428.28,375.66 428.47,375.66 428.66,375.66 428.85,375.66 429.04,375.66 429.23,375.66 429.43,375.66 429.62,375.66 429.81,375.66" fill="none" stroke="#0000ff" stroke-width="1.8" stroke-linejoin="round" stroke-dasharray="5.2 4.8"/><polyline points="311.50,370.20 311.84,370.19 312.17,370.19 312.51,370.19 312.84,370.19 313.18,370.19 313.51,370.19 313.85,370.19 314.19,370.19 314.52,370.19 314.86,370.19 315.19,370.19 315.53,370.20 315.86,370.20 316.20,370.20 316.53,370.20 316.87,370.20 317.20,370.20 317.54,370.21 317.87,370.21 318.21,370.21 318.54,370.21 318.88,370.21 319.21,370.21 319.55,370.21 319.88,370.21 320.21,370.21 320.55,370.21 320.88,370.21 321.22,370.21 321.55,370.21 321.88,370.21 322.22,370.21 322.55,370.21 322.88,370.20 323.22,370.20 323.55,370.19 323.88,370.19 324.21,370.18 324.55,370.18 324.88,370.17 325.21,370.16 325.54,370.16 325.88,370.15 326.21,370.14 326.54,370.13 326.87,370.11 327.20,370.10 327.53,370.09 327.86,370.07 328.19,370.06 328.53,370.04 328.86,370.02 329.19,370.00 329.52,369.98 329.85,369.96 330.18,369.94 330.50,369.92 330.83,369.89 331.16,369.87 331.49,369.84 331.82,369.81 332.15,369.78 332.48,369.75 332.81,369.72 333.13,369.68 333.46,369.65 333.79,369.61 334.12,369.57 334.44,369.54 334.77,369.50 335.10,369.45 335.42,369.41 335.75,369.37 336.08,369.32 336.40,369.28 336.73,369.23 337.05,369.18 337.38,369.13 337.71,369.08 338.03,369.03 338.36,368.97 338.68,368.92 339.01,368.86 339.33,368.80 339.66,368.74 339.98,368.68 340.31,368.62 340.63,368.56 340.96,368.50 341.28,368.43 341.60,368.36 341.93,368.30 342.25,368.23 342.58,368.16 342.90,368.09 343.22,368.01 343.55,367.94 343.87,367.86 344.19,367.79 344.52,367.71 344.84,367.63 345.16,367.55 345.49,367.47 345.81,367.38 346.13,367.30 346.46,367.21 346.78,367.13 347.10,367.04 347.42,366.95 347.75,366.86 348.07,366.77 348.39,366.68 348.71,366.58 349.04,366.49 349.36,366.39 349.68,366.29 350.00,366.19 350.33,366.09 350.65,365.99 350.97,365.89 351.29,365.79 351.61,365.69 351.94,365.59 352.26,365.48 352.58,365.38 352.90,365.28 353.22,365.17 353.55,365.07 353.87,364.96 354.19,364.86 354.51,364.75 354.83,364.65 355.16,364.54 355.48,364.44 355.80,364.33 356.12,364.23 356.44,364.13 356.77,364.02 357.09,363.92 357.41,363.82 357.73,363.71 358.06,363.61 358.38,363.51 358.70,363.41 359.02,363.31 359.34,363.21 359.67,363.12 359.99,363.02 360.31,362.93 360.63,362.83 360.96,362.74 361.28,362.65 361.60,362.56 361.92,362.47 362.25,362.38 362.57,362.29 362.89,362.21 363.22,362.13 363.54,362.05 363.86,361.97 364.19,361.89 364.51,361.81 364.83,361.74 365.16,361.67 365.48,361.60 365.80,361.53 366.13,361.47 366.45,361.41 366.77,361.34 367.10,361.29 367.42,361.23 367.75,361.18 368.07,361.13 368.40,361.08 368.72,361.03 369.04,360.99 369.37,360.95 369.69,360.91 370.02,360.87 370.34,360.84 370.67,360.81 370.99,360.78 371.31,360.75 371.64,360.73 371.96,360.71 372.29,360.69 372.61,360.67 372.93,360.66 373.26,360.65 373.58,360.64 373.90,360.63 374.23,360.63 374.55,360.63 374.87,360.63 375.20,360.64 375.52,360.65 375.84,360.66 376.16,360.67 376.49,360.69 376.81,360.71 377.13,360.73 377.45,360.75 377.77,360.78 378.09,360.81 378.41,360.84 378.73,360.88 379.05,360.92 379.37,360.96 379.69,361.00 380.01,361.05 380.33,361.10 380.65,361.15 380.97,361.21 381.28,361.27 381.60,361.33 381.92,361.39 382.23,361.46 382.55,361.53 382.87,361.61 383.18,361.68 383.50,361.76 383.81,361.85 384.12,361.93 384.44,362.02 384.75,362.11 385.06,362.21 385.37,362.31 385.69,362.41 386.00,362.51 386.31,362.61 386.62,362.72 386.93,362.83 387.24,362.95 387.55,363.06 387.86,363.18 388.17,363.30 388.47,363.42 388.78,363.54 389.09,363.67 389.40,363.80 389.71,363.93 390.01,364.06 390.32,364.19 390.63,364.33 390.93,364.46 391.24,364.60 391.55,364.74 391.85,364.88 392.16,365.02 392.46,365.16 392.77,365.31 393.08,365.45 393.38,365.60 393.69,365.74 393.99,365.89 394.30,366.04 394.60,366.19 394.91,366.34 395.21,366.49 395.52,366.64 395.82,366.79 396.13,366.94 396.43,367.09 396.74,367.25 397.04,367.40 397.35,367.55 397.65,367.70 397.96,367.85 398.26,368.01 398.57,368.16 398.87,368.31 399.18,368.46 399.49,368.61 399.79,368.76 400.10,368.91 400.41,369.06 400.71,369.21 401.02,369.36 401.33,369.50 401.63,369.65 401.94,369.79 402.25,369.94 402.56,370.08 402.87,370.22 403.17,370.36 403.48,370.50 403.79,370.64 404.10,370.78 404.41,370.91 404.72,371.05 405.03,371.18 405.34,371.31 405.65,371.44 405.96,371.57 406.27,371.70 406.58,371.82 406.89,371.95 407.21,372.07 407.52,372.19 407.83,372.31 408.14,372.42 408.46,372.54 408.77,372.65 409.08,372.76 409.40,372.87 409.71,372.97 410.03,373.08 410.34,373.18 410.65,373.28 410.97,373.38 411.29,373.47 411.60,373.57 411.92,373.66 412.23,373.74 412.55,373.83 412.87,373.91 413.18,373.99 413.50,374.07 413.82,374.15 414.14,374.22 414.46,374.29 414.78,374.35 415.10,374.42 415.41,374.48 415.73,374.54 416.05,374.59 416.38,374.65 416.70,374.69 417.02,374.74 417.34,374.78 417.66,374.82 417.98,374.86 418.31,374.89 418.63,374.92 418.95,374.95 419.28,374.97 419.60,374.99 419.92,375.01 420.25,375.02 420.57,375.03 420.90,375.04 421.22,375.04 421.55,375.04 421.87,375.04 422.20,375.03 422.52,375.02 422.85,375.01 423.18,375.00 423.50,374.98 423.83,374.96 424.15,374.93 424.48,374.90 424.80,374.87 425.13,374.84 425.45,374.81 425.78,374.77 426.11,374.73 426.43,374.68 426.76,374.63 427.08,374.58 427.40,374.53 427.73,374.47 428.05,374.42 428.38,374.35 428.70,374.29 429.02,374.22 429.35,374.15 429.67,374.08 429.99,374.01 430.31,373.93 430.63,373.85 430.95,373.77 431.28,373.68 431.60,373.60 431.91,373.51 432.23,373.42 432.55,373.32 432.87,373.22 433.19,373.12 433.50,373.02 433.82,372.92 434.13,372.81 434.45,372.70 434.76,372.59 435.08,372.48 435.39,372.36 435.70,372.24 436.01,372.12 436.32,372.00 436.63,371.88 436.94,371.75 437.25,371.62 437.55,371.49 437.86,371.36 438.17,371.22 438.47,371.08 438.77,370.95 439.08,370.80 439.38,370.66 439.68,370.52 439.98,370.37 440.28,370.22 440.58,370.07 440.88,369.92 441.17,369.76 441.47,369.61 441.77,369.45 442.06,369.29 442.35,369.13 442.65,368.97 442.94,368.80 443.23,368.64 443.52,368.47 443.81,368.30 444.10,368.13 444.39,367.96 444.68,367.78 444.96,367.61 445.25,367.43 445.53,367.25 445.82,367.07 446.10,366.89 446.38,366.71 446.67,366.53 446.95,366.34 447.23,366.16 447.51,365.97 447.79,365.78 448.06,365.59 448.34,365.40 448.62,365.21 448.89,365.02 449.17,364.82 449.44,364.63 449.72,364.43 449.99,364.24 450.26,364.04 450.53,363.84 450.80,363.64 451.07,363.44 451.34,363.24 451.61,363.04 451.88,362.83 452.14,362.63 452.41,362.43 452.67,362.22 452.94,362.01 453.20,361.81 453.46,361.60 453.73,361.39 453.99,361.18 454.25,360.97 454.51,360.76 454.77,360.55 455.02,360.34 455.28,360.13 455.54,359.92 455.80,359.70 456.05,359.49 456.31,359.27 456.56,359.06 456.81,358.84 457.07,358.62 457.32,358.40 457.57,358.19 457.82,357.97 458.07,357.75 458.32,357.53 458.57,357.31 458.82,357.08 459.07,356.86 459.31,356.64 459.56,356.42 459.81,356.19 460.05,355.97 460.30,355.74 460.54,355.52 460.78,355.29 461.03,355.06 461.27,354.84 461.51,354.61 461.75,354.38 461.99,354.15 462.23,353.92 462.47,353.69 462.71,353.46 462.95,353.23 463.18,352.99 463.42,352.76 463.66,352.53 463.89,352.29 464.13,352.06 464.36,351.83 464.60,351.59 464.83,351.35 465.06,351.12 465.30,350.88 465.53,350.64 465.76,350.41 465.99,350.17 466.22,349.93 466.45,349.69 466.68,349.45 466.91,349.21 467.14,348.97 467.37,348.73 467.60,348.49 467.82,348.25 468.05,348.00 468.28,347.76 468.50,347.52 468.73,347.27 468.95,347.03 469.18,346.79 469.40,346.54 469.62,346.29 469.85,346.05 470.07,345.80 470.29,345.56 470.51,345.31 470.74,345.06 470.96,344.81 471.18,344.57 471.40,344.32 471.62,344.07 471.84,343.82 472.06,343.57 472.28,343.32 472.49,343.07 472.71,342.82 472.93,342.57 473.15,342.32 473.37,342.07 473.58,341.81 473.80,341.56 474.01,341.31 474.23,341.06 474.45,340.80 474.66,340.55 474.87,340.30 475.09,340.04 475.30,339.79 475.52,339.53 475.73,339.28 475.94,339.02 476.16,338.77 476.37,338.51 476.58,338.26 476.79,338.00 477.00,337.74 477.22,337.49 477.43,337.23 477.64,336.97 477.85,336.72 478.06,336.46 478.27,336.20 478.48,335.94 478.69,335.68 478.90,335.43 479.11,335.17 479.32,334.91 479.52,334.65 479.73,334.39 479.94,334.13 480.15,333.87 480.36,333.61 480.56,333.35 480.77,333.09 480.98,332.83 481.18,332.57 481.39,332.31 481.60,332.05 481.80,331.79 482.01,331.52 482.21,331.26 482.42,331.00 482.62,330.74 482.83,330.48 483.03,330.21 483.24,329.95 483.44,329.69 483.64,329.42 483.85,329.16 484.05,328.90 484.25,328.63 484.46,328.37 484.66,328.11 484.86,327.84 485.06,327.58 485.27,327.31 485.47,327.05 485.67,326.78 485.87,326.52 486.07,326.25 486.27,325.99 486.47,325.72 486.67,325.45 486.87,325.19 487.07,324.92 487.27,324.65 487.47,324.39 487.67,324.12 487.87,323.85 488.06,323.59 488.26,323.32 488.46,323.05 488.66,322.78 488.86,322.51 489.05,322.25 489.25,321.98 489.45,321.71 489.64,321.44 489.84,321.17 490.03,320.90 490.23,320.63 490.43,320.36 490.62,320.09 490.82,319.82 491.01,319.55 491.21,319.28 491.40,319.01 491.59,318.74 491.79,318.47 491.98,318.20 492.18,317.93 492.37,317.66 492.56,317.39 492.75,317.11 492.95,316.84 493.14,316.57 493.33,316.30 493.52,316.03 493.71,315.75 493.91,315.48 494.10,315.21 494.29,314.93 494.48,314.66 494.67,314.39 494.86,314.11 495.05,313.84 495.24,313.57 495.43,313.29 495.62,313.02 495.81,312.74 495.99,312.47 496.18,312.20 496.37,311.92 496.56,311.65 496.75,311.37 496.93,311.10 497.12,310.82 497.31,310.54 497.50,310.27 497.68,309.99 497.87,309.72 498.06,309.44 498.24,309.16 498.43,308.89 498.61,308.61 498.80,308.33 498.98,308.06 499.17,307.78 499.35,307.50 499.54,307.23 499.72,306.95 499.90,306.67 500.09,306.39 500.27,306.12 500.46,305.84 500.64,305.56 500.82,305.28 501.00,305.00 501.19,304.72 501.37,304.45 501.55,304.17 501.73,303.89 501.91,303.61 502.10,303.33 502.28,303.05 502.46,302.77 502.64,302.49 502.82,302.21 503.00,301.93 503.18,301.65 503.36,301.37 503.54,301.09 503.72,300.81 503.90,300.53 504.08,300.25 504.26,299.97 504.44,299.69 504.62,299.41 504.80,299.13 504.98,298.85 505.15,298.57 505.33,298.29 505.51,298.01 505.69,297.72 505.87,297.44 506.05,297.16 506.22,296.88 506.40,296.60 506.58,296.32 506.76,296.04 506.93,295.75 507.11,295.47 507.29,295.19 507.47,294.91 507.64,294.63 507.82,294.35 508.00,294.06 508.17,293.78 508.35,293.50 508.53,293.22 508.70,292.94 508.88,292.65 509.06,292.37 509.23,292.09 509.41,291.81 509.59,291.52 509.76,291.24 509.94,290.96 510.12,290.68 510.29,290.39 510.47,290.11 510.64,289.83 510.82,289.55 511.00,289.26 511.17,288.98 511.35,288.70 511.52,288.42 511.70,288.13 511.88,287.85 512.05,287.57 512.23,287.29 512.40,287.00 512.58,286.72 512.76,286.44 512.93,286.16 513.11,285.87 513.28,285.59 513.46,285.31 513.64,285.03 513.81,284.74 513.99,284.46 514.16,284.18 514.34,283.90 514.52,283.61 514.69,283.33 514.87,283.05 515.04,282.77 515.22,282.48 515.40,282.20 515.57,281.92 515.75,281.64 515.93,281.36 516.10,281.07 516.28,280.79 516.46,280.51 516.63,280.23 516.81,279.95 516.99,279.66 517.16,279.38 517.34,279.10 517.52,278.82 517.70,278.54 517.87,278.26 518.05,277.97 518.23,277.69 518.41,277.41 518.58,277.13 518.76,276.85 518.94,276.57 519.12,276.29 519.30,276.01 519.47,275.73 519.65,275.45 519.83,275.16 520.01,274.88 520.19,274.60 520.37,274.32 520.55,274.04 520.73,273.76 520.91,273.48 521.08,273.20 521.26,272.92 521.44,272.64 521.62,272.36 521.80,272.08 521.99,271.80 522.17,271.52 522.35,271.25 522.53,270.97 522.71,270.69 522.89,270.41 523.07,270.13 523.25,269.85 523.44,269.57 523.62,269.29 523.80,269.02 523.98,268.74 524.16,268.46 524.35,268.18 524.53,267.91 524.71,267.63 524.90,267.35 525.08,267.07 525.27,266.80 525.45,266.52 525.63,266.24 525.82,265.97 526.00,265.69 526.19,265.41 526.37,265.14 526.56,264.86 526.75,264.59 526.93,264.31 527.12,264.03 527.31,263.76 527.49,263.48 527.68,263.21 527.87,262.93 528.05,262.66 528.24,262.39 528.43,262.11 528.62,261.84 528.81,261.56 529.00,261.29 529.19,261.02 529.38,260.74 529.57,260.47 529.76,260.20 529.95,259.92 530.14,259.65 530.33,259.38 530.52,259.11 530.71,258.84 530.91,258.56 531.10,258.29 531.29,258.02 531.49,257.75 531.68,257.48 531.87,257.21 532.07,256.94 532.26,256.67 532.46,256.40 532.65,256.13 532.85,255.86 533.04,255.59 533.24,255.32 533.44,255.05 533.63,254.79 533.83,254.52 534.03,254.25 534.23,253.98 534.43,253.71 534.63,253.45 534.83,253.18 535.03,252.91 535.23,252.65 535.43,252.38 535.63,252.12 535.83,251.85 536.03,251.58 536.23,251.32 536.44,251.05 536.64,250.79 536.84,250.53 537.05,250.26 537.25,250.00 537.45,249.74 537.66,249.47 537.87,249.21 538.07,248.95 538.28,248.68 538.49,248.42 538.69,248.16 538.90,247.90 539.11,247.64 539.32,247.38 539.53,247.12 539.74,246.86 539.95,246.60 540.16,246.34 540.37,246.08 540.58,245.82 540.79,245.56 541.00,245.30" fill="none" stroke="#ff0000" stroke-width="1.8" stroke-linejoin="round"/><polyline points="311.50,370.20 311.84,370.19 312.17,370.18 312.51,370.18 312.85,370.17 313.19,370.17 313.52,370.16 313.86,370.16 314.20,370.16 314.53,370.15 314.87,370.15 315.20,370.15 315.54,370.15 315.87,370.14 316.21,370.14 316.54,370.14 316.88,370.14 317.21,370.14 317.55,370.14 317.88,370.14 318.22,370.14 318.55,370.14 318.88,370.14 319.22,370.14 319.55,370.14 319.88,370.14 320.22,370.14 320.55,370.14 320.88,370.14 321.22,370.14 321.55,370.14 321.88,370.14 322.21,370.14 322.55,370.14 322.88,370.13 323.21,370.13 323.54,370.13 323.87,370.13 324.20,370.12 324.53,370.12 324.87,370.12 325.20,370.11 325.53,370.11 325.86,370.10 326.19,370.10 326.52,370.09 326.85,370.08 327.18,370.07 327.51,370.07 327.84,370.06 328.17,370.05 328.50,370.03 328.83,370.02 329.16,370.01 329.49,370.00 329.81,369.98 330.14,369.97 330.47,369.95 330.80,369.93 331.13,369.91 331.46,369.89 331.79,369.87 332.12,369.85 332.44,369.83 332.77,369.80 333.10,369.78 333.43,369.75 333.76,369.72 334.08,369.69 334.41,369.66 334.74,369.63 335.07,369.60 335.39,369.56 335.72,369.53 336.05,369.49 336.37,369.45 336.70,369.41 337.03,369.37 337.36,369.33 337.68,369.28 338.01,369.23 338.34,369.18 338.66,369.13 338.99,369.08 339.31,369.03 339.64,368.97 339.97,368.92 340.29,368.86 340.62,368.79 340.95,368.73 341.27,368.67 341.60,368.60 341.92,368.53 342.25,368.46 342.57,368.39 342.90,368.31 343.23,368.24 343.55,368.16 343.88,368.08 344.20,368.00 344.53,367.92 344.85,367.83 345.18,367.75 345.50,367.66 345.83,367.58 346.15,367.49 346.48,367.40 346.80,367.31 347.13,367.22 347.45,367.12 347.78,367.03 348.10,366.94 348.43,366.84 348.75,366.74 349.08,366.65 349.40,366.55 349.73,366.45 350.05,366.36 350.38,366.26 350.70,366.16 351.03,366.06 351.35,365.96 351.68,365.86 352.00,365.76 352.32,365.66 352.65,365.56 352.97,365.47 353.30,365.37 353.62,365.27 353.95,365.17 354.27,365.07 354.59,364.97 354.92,364.87 355.24,364.78 355.57,364.68 355.89,364.58 356.21,364.49 356.54,364.39 356.86,364.30 357.19,364.20 357.51,364.11 357.84,364.02 358.16,363.93 358.48,363.84 358.81,363.75 359.13,363.66 359.46,363.58 359.78,363.49 360.10,363.41 360.43,363.33 360.75,363.25 361.08,363.17 361.40,363.09 361.72,363.01 362.05,362.94 362.37,362.87 362.70,362.80 363.02,362.73 363.34,362.66 363.67,362.59 363.99,362.53 364.31,362.47 364.64,362.41 364.96,362.35 365.29,362.30 365.61,362.25 365.94,362.20 366.26,362.15 366.58,362.10 366.91,362.06 367.23,362.02 367.56,361.98 367.88,361.95 368.20,361.92 368.53,361.89 368.85,361.86 369.18,361.84 369.50,361.82 369.82,361.80 370.15,361.79 370.47,361.78 370.80,361.77 371.12,361.76 371.45,361.76 371.77,361.76 372.09,361.77 372.42,361.77 372.74,361.78 373.07,361.79 373.39,361.81 373.72,361.82 374.04,361.84 374.36,361.86 374.69,361.89 375.01,361.92 375.34,361.95 375.66,361.98 375.98,362.01 376.31,362.05 376.63,362.09 376.96,362.13 377.28,362.18 377.60,362.22 377.93,362.27 378.25,362.32 378.57,362.38 378.90,362.43 379.22,362.49 379.54,362.55 379.87,362.61 380.19,362.68 380.51,362.74 380.83,362.81 381.16,362.88 381.48,362.95 381.80,363.03 382.12,363.10 382.44,363.18 382.77,363.26 383.09,363.34 383.41,363.42 383.73,363.51 384.05,363.60 384.37,363.69 384.69,363.78 385.01,363.87 385.34,363.96 385.66,364.06 385.98,364.15 386.30,364.25 386.62,364.35 386.94,364.45 387.25,364.55 387.57,364.66 387.89,364.76 388.21,364.87 388.53,364.98 388.85,365.09 389.17,365.20 389.49,365.31 389.80,365.42 390.12,365.53 390.44,365.65 390.75,365.77 391.07,365.88 391.39,366.00 391.70,366.12 392.02,366.24 392.34,366.36 392.65,366.48 392.97,366.61 393.28,366.73 393.60,366.86 393.91,366.98 394.22,367.11 394.54,367.24 394.85,367.36 395.17,367.49 395.48,367.62 395.79,367.75 396.10,367.88 396.42,368.01 396.73,368.14 397.04,368.28 397.35,368.41 397.66,368.54 397.97,368.67 398.28,368.81 398.59,368.94 398.90,369.08 399.21,369.21 399.52,369.34 399.83,369.48 400.14,369.61 400.45,369.75 400.75,369.88 401.06,370.01 401.37,370.14 401.68,370.28 401.99,370.41 402.30,370.54 402.61,370.67 402.91,370.80 403.22,370.92 403.53,371.05 403.84,371.18 404.15,371.30 404.46,371.43 404.77,371.55 405.08,371.67 405.39,371.79 405.70,371.91 406.01,372.02 406.32,372.14 406.63,372.25 406.94,372.36 407.25,372.47 407.56,372.58 407.88,372.69 408.19,372.79 408.50,372.89 408.82,372.99 409.13,373.09 409.44,373.18 409.76,373.27 410.07,373.36 410.39,373.45 410.71,373.53 411.02,373.62 411.34,373.69 411.66,373.77 411.98,373.84 412.30,373.91 412.62,373.98 412.94,374.05 413.26,374.11 413.59,374.17 413.91,374.22 414.23,374.28 414.56,374.33 414.88,374.38 415.20,374.43 415.53,374.48 415.85,374.52 416.18,374.57 416.51,374.61 416.83,374.64 417.16,374.68 417.49,374.72 417.82,374.75 418.14,374.78 418.47,374.81 418.80,374.84 419.13,374.87 419.46,374.90 419.79,374.92 420.12,374.95 420.45,374.97 420.78,374.99 421.11,375.01 421.44,375.03 421.77,375.05 422.10,375.07 422.43,375.09 422.77,375.10 423.10,375.12 423.43,375.14 423.76,375.15 424.09,375.17 424.42,375.18 424.76,375.20 425.09,375.21 425.42,375.23 425.75,375.24 426.08,375.25 426.42,375.27 426.75,375.28 427.08,375.29 427.41,375.31 427.74,375.32 428.07,375.33 428.41,375.34 428.74,375.36 429.07,375.37 429.40,375.38 429.73,375.39 430.07,375.40 430.40,375.42 430.73,375.43 431.06,375.44 431.40,375.45 431.73,375.46 432.06,375.47 432.39,375.48 432.72,375.49 433.06,375.50 433.39,375.51 433.72,375.52 434.05,375.53 434.38,375.54 434.72,375.55 435.05,375.56 435.38,375.57 435.71,375.58 436.05,375.59 436.38,375.60 436.71,375.61 437.04,375.61 437.38,375.62 437.71,375.63 438.04,375.64 438.37,375.65 438.70,375.65 439.04,375.66 439.37,375.67 439.70,375.68 440.03,375.68 440.37,375.69 440.70,375.70 441.03,375.71 441.36,375.71 441.70,375.72 442.03,375.73 442.36,375.73 442.69,375.74 443.03,375.74 443.36,375.75 443.69,375.76 444.02,375.76 444.36,375.77 444.69,375.77 445.02,375.78 445.36,375.78 445.69,375.79 446.02,375.79 446.35,375.80 446.69,375.80 447.02,375.81 447.35,375.81 447.68,375.82 448.02,375.82 448.35,375.82 448.68,375.83 449.01,375.83 449.35,375.84 449.68,375.84 450.01,375.84 450.35,375.85 450.68,375.85 451.01,375.85 451.34,375.86 451.68,375.86 452.01,375.86 452.34,375.87 452.68,375.87 453.01,375.87 453.34,375.87 453.67,375.88 454.01,375.88 454.34,375.88 454.67,375.88 455.01,375.88 455.34,375.89 455.67,375.89 456.00,375.89 456.34,375.89 456.67,375.89 457.00,375.90 457.34,375.90 457.67,375.90 458.00,375.90 458.34,375.90 458.67,375.90 459.00,375.90 459.33,375.90 459.67,375.90 460.00,375.90 460.33,375.90 460.67,375.91 461.00,375.91 461.33,375.91 461.67,375.91 462.00,375.91 462.33,375.91 462.66,375.91 463.00,375.91 463.33,375.91 463.66,375.91 464.00,375.91 464.33,375.91 464.66,375.91 465.00,375.91 465.33,375.90 465.66,375.90 466.00,375.90 466.33,375.90 466.66,375.90 467.00,375.90 467.33,375.90 467.66,375.90 467.99,375.90 468.33,375.90 468.66,375.90 468.99,375.89 469.33,375.89 469.66,375.89 469.99,375.89 470.33,375.89 470.66,375.89 470.99,375.89 471.33,375.88 471.66,375.88 471.99,375.88 472.33,375.88 472.66,375.88 472.99,375.88 473.33,375.87 473.66,375.87 473.99,375.87 474.33,375.87 474.66,375.87 474.99,375.86 475.33,375.86 475.66,375.86 475.99,375.86 476.32,375.85 476.66,375.85 476.99,375.85 477.32,375.85 477.66,375.84 477.99,375.84 478.32,375.84 478.66,375.84 478.99,375.83 479.32,375.83 479.66,375.83 479.99,375.83 480.32,375.82 480.66,375.82 480.99,375.82 481.32,375.81 481.66,375.81 481.99,375.81 482.32,375.81 482.66,375.80 482.99,375.80 483.32,375.80 483.66,375.79 483.99,375.79 484.32,375.79 484.66,375.78 484.99,375.78 485.32,375.78 485.66,375.78 485.99,375.77 486.32,375.77 486.66,375.77 486.99,375.76 487.32,375.76 487.66,375.76 487.99,375.75 488.32,375.75 488.66,375.75 488.99,375.74 489.32,375.74 489.66,375.74 489.99,375.73 490.32,375.73 490.66,375.73 490.99,375.72 491.32,375.72 491.66,375.72 491.99,375.71 492.32,375.71 492.66,375.71 492.99,375.70 493.32,375.70 493.66,375.70 493.99,375.69 494.32,375.69 494.66,375.69 494.99,375.68 495.32,375.68 495.66,375.68 495.99,375.67 496.32,375.67 496.66,375.67 496.99,375.66 497.32,375.66 497.66,375.66 497.99,375.66 498.32,375.65 498.66,375.65 498.99,375.65 499.32,375.64 499.66,375.64 499.99,375.64 500.32,375.63 500.66,375.63 500.99,375.63 501.32,375.62 501.66,375.62 501.99,375.62 502.32,375.62 502.66,375.61 502.99,375.61 503.32,375.61 503.66,375.60 503.99,375.60 504.32,375.60 504.66,375.60 504.99,375.59 505.32,375.59 505.65,375.59 505.99,375.59 506.32,375.58 506.65,375.58 506.99,375.58 507.32,375.58 507.65,375.57 507.99,375.57 508.32,375.57 508.65,375.57 508.99,375.57 509.32,375.56 509.65,375.56 509.99,375.56 510.32,375.56 510.65,375.55 510.99,375.55 511.32,375.55 511.65,375.55 511.98,375.55 512.32,375.55 512.65,375.54 512.98,375.54 513.32,375.54 513.65,375.54 513.98,375.54 514.32,375.54 514.65,375.54 514.98,375.53 515.32,375.53 515.65,375.53 515.98,375.53 516.31,375.53 516.65,375.53 516.98,375.53 517.31,375.53 517.65,375.53 517.98,375.53 518.31,375.53 518.65,375.53 518.98,375.52 519.31,375.52 519.64,375.52 519.98,375.52 520.31,375.52 520.64,375.52 520.98,375.52 521.31,375.52 521.64,375.52 521.98,375.52 522.31,375.52 522.64,375.52 522.97,375.53 523.31,375.53 523.64,375.53 523.97,375.53 524.31,375.53 524.64,375.53 524.97,375.53 525.30,375.53 525.64,375.53 525.97,375.53 526.30,375.53 526.64,375.54 526.97,375.54 527.30,375.54 527.63,375.54 527.97,375.54 528.30,375.54 528.63,375.55 528.96,375.55 529.30,375.55 529.63,375.55 529.96,375.56 530.29,375.56 530.63,375.56 530.96,375.56 531.29,375.57 531.63,375.57 531.96,375.57 532.29,375.57 532.62,375.58 532.96,375.58 533.29,375.58 533.62,375.59 533.95,375.59 534.29,375.60 534.62,375.60 534.95,375.60 535.28,375.61 535.62,375.61 535.95,375.62 536.28,375.62 536.61,375.62 536.95,375.63 537.28,375.63 537.61,375.64 537.94,375.64 538.28,375.65 538.61,375.65 538.94,375.66 539.27,375.66 539.61,375.67 539.94,375.68 540.27,375.68 540.60,375.69 540.93,375.69 541.27,375.70 541.60,375.71" fill="none" stroke="#fbb414" stroke-width="1.7" stroke-linejoin="round"/><path d="M311.5,233.3 V404.2 H541.6" fill="none" stroke="#6a6a6a" stroke-width="1.15"/><path d="M311.50,404.2 v-2 M369.02,404.2 v-2 M426.55,404.2 v-2 M484.08,404.2 v-2 M541.60,404.2 v-2 M311.5,233.30 h2 M311.5,267.48 h2 M311.5,301.66 h2 M311.5,335.84 h2 M311.5,370.02 h2 M311.5,404.20 h2" stroke="#6a6a6a" stroke-width="1" fill="none"/><text x="311.50" y="416.70" text-anchor="middle" font-family="'Liberation Sans', Arial, Helvetica, sans-serif" font-size="8.5" fill="#141414">0</text><text x="369.02" y="416.70" text-anchor="middle" font-family="'Liberation Sans', Arial, Helvetica, sans-serif" font-size="8.5" fill="#141414">50</text><text x="426.55" y="416.70" text-anchor="middle" font-family="'Liberation Sans', Arial, Helvetica, sans-serif" font-size="8.5" fill="#141414">100</text><text x="484.08" y="416.70" text-anchor="middle" font-family="'Liberation Sans', Arial, Helvetica, sans-serif" font-size="8.5" fill="#141414">150</text><text x="541.60" y="416.70" text-anchor="middle" font-family="'Liberation Sans', Arial, Helvetica, sans-serif" font-size="8.5" fill="#141414">200</text><text x="307.70" y="236.35" text-anchor="end" font-family="'Liberation Sans', Arial, Helvetica, sans-serif" font-size="8.5" fill="#141414">40</text><text x="307.70" y="270.53" text-anchor="end" font-family="'Liberation Sans', Arial, Helvetica, sans-serif" font-size="8.5" fill="#141414">30</text><text x="307.70" y="304.71" text-anchor="end" font-family="'Liberation Sans', Arial, Helvetica, sans-serif" font-size="8.5" fill="#141414">20</text><text x="307.70" y="338.89" text-anchor="end" font-family="'Liberation Sans', Arial, Helvetica, sans-serif" font-size="8.5" fill="#141414">10</text><text x="307.70" y="373.07" text-anchor="end" font-family="'Liberation Sans', Arial, Helvetica, sans-serif" font-size="8.5" fill="#141414">0</text><text x="307.70" y="407.25" text-anchor="end" font-family="'Liberation Sans', Arial, Helvetica, sans-serif" font-size="8.5" fill="#141414">&#8722;<tspan dx="1.6">10</tspan></text><text x="426.55" y="428.80" text-anchor="middle" font-family="'Liberation Serif', 'Times New Roman', Times, serif" font-size="10" fill="#262626">X/m</text><text transform="translate(287.4,318.9) rotate(-90)" x="0" y="0" text-anchor="middle" font-family="'Liberation Serif', 'Times New Roman', Times, serif" font-size="10" fill="#262626">Y/m</text><text x="411.25" y="442.80" text-anchor="middle" font-family="'Liberation Serif', 'Times New Roman', Times, serif" font-size="12" fill="#000">(<tspan font-weight="bold">d</tspan>)</text><line x1="404.6" y1="240.4" x2="429.4" y2="240.4" stroke="#0000ff" stroke-width="2" stroke-dasharray="5.2 4.8"/><text x="431.5" y="243.90" font-family="'Liberation Serif', 'Times New Roman', Times, serif" font-size="10" fill="#1a1a1a">Expected trajectory</text><line x1="404.6" y1="251.8" x2="429.4" y2="251.8" stroke="#ff0000" stroke-width="1.7"/><text x="431.5" y="255.30" font-family="'Liberation Serif', 'Times New Roman', Times, serif" font-size="10" fill="#1a1a1a">Ordinary MPC</text><line x1="404.6" y1="262.9" x2="429.4" y2="262.9" stroke="#fbb414" stroke-width="1.5"/><text x="431.5" y="266.40" font-family="'Liberation Serif', 'Times New Roman', Times, serif" font-size="10" fill="#1a1a1a">The improved MPC</text></g>
</svg></body></html>
